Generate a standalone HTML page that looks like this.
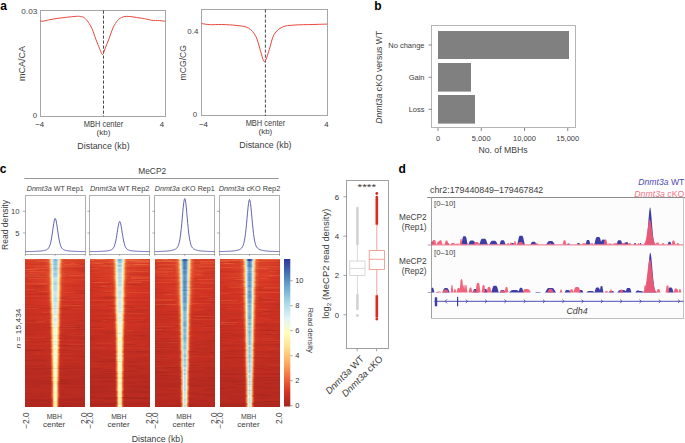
<!DOCTYPE html>
<html><head><meta charset="utf-8"><style>
html,body{margin:0;padding:0;background:#fff;width:685px;height:443px;overflow:hidden}
svg{display:block;font-family:"Liberation Sans", sans-serif}
</style></head><body>
<svg width="685" height="443" viewBox="0 0 685 443">
<defs><linearGradient id="h0_0"><stop offset="0" stop-color="#da4028"/><stop offset=".334" stop-color="#df492c"/><stop offset=".385" stop-color="#e85933"/><stop offset=".41" stop-color="#f99553"/><stop offset=".426" stop-color="#fedc8d"/><stop offset=".452" stop-color="#d5edf5"/><stop offset=".477" stop-color="#8ec2dc"/><stop offset=".502" stop-color="#82b8d7"/><stop offset=".527" stop-color="#8ec2dc"/><stop offset=".552" stop-color="#d5edf5"/><stop offset=".577" stop-color="#fedc8d"/><stop offset=".594" stop-color="#f99553"/><stop offset=".619" stop-color="#e85933"/><stop offset=".669" stop-color="#df492c"/><stop offset="1" stop-color="#da4028"/></linearGradient><linearGradient id="h0_1"><stop offset="0" stop-color="#d83b26"/><stop offset=".334" stop-color="#dc442a"/><stop offset=".385" stop-color="#e65531"/><stop offset=".41" stop-color="#f99352"/><stop offset=".426" stop-color="#fedb8b"/><stop offset=".452" stop-color="#dbf1f7"/><stop offset=".477" stop-color="#99cbe1"/><stop offset=".502" stop-color="#8ec2dc"/><stop offset=".527" stop-color="#99cbe1"/><stop offset=".552" stop-color="#dbf1f7"/><stop offset=".577" stop-color="#fedb8b"/><stop offset=".594" stop-color="#f99352"/><stop offset=".619" stop-color="#e65531"/><stop offset=".669" stop-color="#dc442a"/><stop offset="1" stop-color="#d83b26"/></linearGradient><linearGradient id="h0_2"><stop offset="0" stop-color="#d53524"/><stop offset=".334" stop-color="#d93e27"/><stop offset=".385" stop-color="#e14d2e"/><stop offset=".41" stop-color="#f78549"/><stop offset=".426" stop-color="#fecf80"/><stop offset=".452" stop-color="#e2f4f3"/><stop offset=".477" stop-color="#9ecfe3"/><stop offset=".502" stop-color="#92c5de"/><stop offset=".527" stop-color="#9ecfe3"/><stop offset=".552" stop-color="#e2f4f3"/><stop offset=".577" stop-color="#fecf80"/><stop offset=".594" stop-color="#f78549"/><stop offset=".619" stop-color="#e14d2e"/><stop offset=".669" stop-color="#d93e27"/><stop offset="1" stop-color="#d53524"/></linearGradient><linearGradient id="h0_3"><stop offset="0" stop-color="#da3e27"/><stop offset=".334" stop-color="#de472b"/><stop offset=".385" stop-color="#e45230"/><stop offset=".41" stop-color="#f57c44"/><stop offset=".426" stop-color="#fdc273"/><stop offset=".452" stop-color="#e9f7e7"/><stop offset=".477" stop-color="#a4d4e6"/><stop offset=".502" stop-color="#97c9e0"/><stop offset=".527" stop-color="#a4d4e6"/><stop offset=".552" stop-color="#e9f7e7"/><stop offset=".577" stop-color="#fdc273"/><stop offset=".594" stop-color="#f57c44"/><stop offset=".619" stop-color="#e45230"/><stop offset=".669" stop-color="#de472b"/><stop offset="1" stop-color="#da3e27"/></linearGradient><linearGradient id="h0_4"><stop offset="0" stop-color="#d53624"/><stop offset=".334" stop-color="#da3f28"/><stop offset=".385" stop-color="#e04b2d"/><stop offset=".41" stop-color="#f57b44"/><stop offset=".426" stop-color="#fdc576"/><stop offset=".452" stop-color="#e6f5ee"/><stop offset=".477" stop-color="#9ecee3"/><stop offset=".502" stop-color="#91c4dd"/><stop offset=".527" stop-color="#9ecee3"/><stop offset=".552" stop-color="#e6f5ee"/><stop offset=".577" stop-color="#fdc576"/><stop offset=".594" stop-color="#f57b44"/><stop offset=".619" stop-color="#e04b2d"/><stop offset=".669" stop-color="#da3f28"/><stop offset="1" stop-color="#d53624"/></linearGradient><linearGradient id="h0_5"><stop offset="0" stop-color="#d43423"/><stop offset=".334" stop-color="#d83c26"/><stop offset=".385" stop-color="#de472b"/><stop offset=".41" stop-color="#f3713e"/><stop offset=".426" stop-color="#fdba6c"/><stop offset=".452" stop-color="#edf8e1"/><stop offset=".477" stop-color="#a9d7e8"/><stop offset=".502" stop-color="#9bcce2"/><stop offset=".527" stop-color="#a9d7e8"/><stop offset=".552" stop-color="#edf8e1"/><stop offset=".577" stop-color="#fdba6c"/><stop offset=".594" stop-color="#f3713e"/><stop offset=".619" stop-color="#de472b"/><stop offset=".669" stop-color="#d83c26"/><stop offset="1" stop-color="#d43423"/></linearGradient><linearGradient id="h0_6"><stop offset="0" stop-color="#d63825"/><stop offset=".334" stop-color="#db4028"/><stop offset=".385" stop-color="#e04b2d"/><stop offset=".41" stop-color="#f47440"/><stop offset=".426" stop-color="#fdb96c"/><stop offset=".452" stop-color="#f2fad7"/><stop offset=".477" stop-color="#b8dfed"/><stop offset=".502" stop-color="#acd9e9"/><stop offset=".527" stop-color="#b8dfed"/><stop offset=".552" stop-color="#f2fad7"/><stop offset=".577" stop-color="#fdb96c"/><stop offset=".594" stop-color="#f47440"/><stop offset=".619" stop-color="#e04b2d"/><stop offset=".669" stop-color="#db4028"/><stop offset="1" stop-color="#d63825"/></linearGradient><linearGradient id="h0_7"><stop offset="0" stop-color="#d83b26"/><stop offset=".334" stop-color="#dc432a"/><stop offset=".385" stop-color="#e14d2e"/><stop offset=".41" stop-color="#f47540"/><stop offset=".426" stop-color="#fdbd6f"/><stop offset=".452" stop-color="#eaf7e6"/><stop offset=".477" stop-color="#a0d0e4"/><stop offset=".502" stop-color="#91c4de"/><stop offset=".527" stop-color="#a0d0e4"/><stop offset=".552" stop-color="#eaf7e6"/><stop offset=".577" stop-color="#fdbd6f"/><stop offset=".594" stop-color="#f47540"/><stop offset=".619" stop-color="#e14d2e"/><stop offset=".669" stop-color="#dc432a"/><stop offset="1" stop-color="#d83b26"/></linearGradient><linearGradient id="h0_8"><stop offset="0" stop-color="#d63925"/><stop offset=".334" stop-color="#db4128"/><stop offset=".385" stop-color="#e24e2e"/><stop offset=".41" stop-color="#f68147"/><stop offset=".426" stop-color="#fec779"/><stop offset=".452" stop-color="#eaf7e5"/><stop offset=".477" stop-color="#afdbea"/><stop offset=".502" stop-color="#a3d3e6"/><stop offset=".527" stop-color="#afdbea"/><stop offset=".552" stop-color="#eaf7e5"/><stop offset=".577" stop-color="#fec779"/><stop offset=".594" stop-color="#f68147"/><stop offset=".619" stop-color="#e24e2e"/><stop offset=".669" stop-color="#db4128"/><stop offset="1" stop-color="#d63925"/></linearGradient><linearGradient id="h0_9"><stop offset="0" stop-color="#d03323"/><stop offset=".334" stop-color="#d63724"/><stop offset=".385" stop-color="#dc4229"/><stop offset=".41" stop-color="#f26b3b"/><stop offset=".426" stop-color="#fdb264"/><stop offset=".452" stop-color="#f9fdca"/><stop offset=".477" stop-color="#c6e6f1"/><stop offset=".502" stop-color="#bae0ed"/><stop offset=".527" stop-color="#c6e6f1"/><stop offset=".552" stop-color="#f9fdca"/><stop offset=".577" stop-color="#fdb264"/><stop offset=".594" stop-color="#f26b3b"/><stop offset=".619" stop-color="#dc4229"/><stop offset=".669" stop-color="#d63724"/><stop offset="1" stop-color="#d03323"/></linearGradient><linearGradient id="h0_10"><stop offset="0" stop-color="#d53624"/><stop offset=".334" stop-color="#d93e27"/><stop offset=".385" stop-color="#de472b"/><stop offset=".41" stop-color="#f16a3a"/><stop offset=".426" stop-color="#fdac60"/><stop offset=".452" stop-color="#fcfec5"/><stop offset=".477" stop-color="#c7e7f1"/><stop offset=".502" stop-color="#bbe1ed"/><stop offset=".527" stop-color="#c7e7f1"/><stop offset=".552" stop-color="#fcfec5"/><stop offset=".577" stop-color="#fdac60"/><stop offset=".594" stop-color="#f16a3a"/><stop offset=".619" stop-color="#de472b"/><stop offset=".669" stop-color="#d93e27"/><stop offset="1" stop-color="#d53624"/></linearGradient><linearGradient id="h0_11"><stop offset="0" stop-color="#d53624"/><stop offset=".334" stop-color="#d93e27"/><stop offset=".385" stop-color="#de462b"/><stop offset=".41" stop-color="#ee6538"/><stop offset=".426" stop-color="#fca75d"/><stop offset=".452" stop-color="#f9fdcb"/><stop offset=".477" stop-color="#b9e0ed"/><stop offset=".502" stop-color="#abd9e9"/><stop offset=".527" stop-color="#b9e0ed"/><stop offset=".552" stop-color="#f9fdcb"/><stop offset=".577" stop-color="#fca75d"/><stop offset=".594" stop-color="#ee6538"/><stop offset=".619" stop-color="#de462b"/><stop offset=".669" stop-color="#d93e27"/><stop offset="1" stop-color="#d53624"/></linearGradient><linearGradient id="h0_12"><stop offset="0" stop-color="#d23323"/><stop offset=".334" stop-color="#d63925"/><stop offset=".385" stop-color="#db4028"/><stop offset=".41" stop-color="#ec6036"/><stop offset=".426" stop-color="#fba35b"/><stop offset=".452" stop-color="#f8fccb"/><stop offset=".477" stop-color="#b5deec"/><stop offset=".502" stop-color="#a6d5e7"/><stop offset=".527" stop-color="#b5deec"/><stop offset=".552" stop-color="#f8fccb"/><stop offset=".577" stop-color="#fba35b"/><stop offset=".594" stop-color="#ec6036"/><stop offset=".619" stop-color="#db4028"/><stop offset=".669" stop-color="#d63925"/><stop offset="1" stop-color="#d23323"/></linearGradient><linearGradient id="h0_13"><stop offset="0" stop-color="#ce3222"/><stop offset=".334" stop-color="#d43423"/><stop offset=".385" stop-color="#d93e27"/><stop offset=".41" stop-color="#f06839"/><stop offset=".426" stop-color="#fdaf62"/><stop offset=".452" stop-color="#f8fccc"/><stop offset=".477" stop-color="#c2e4ef"/><stop offset=".502" stop-color="#b5deec"/><stop offset=".527" stop-color="#c2e4ef"/><stop offset=".552" stop-color="#f8fccc"/><stop offset=".577" stop-color="#fdaf62"/><stop offset=".594" stop-color="#f06839"/><stop offset=".619" stop-color="#d93e27"/><stop offset=".669" stop-color="#d43423"/><stop offset="1" stop-color="#ce3222"/></linearGradient><linearGradient id="h0_14"><stop offset="0" stop-color="#d23323"/><stop offset=".334" stop-color="#d73925"/><stop offset=".385" stop-color="#dc4329"/><stop offset=".41" stop-color="#f26b3b"/><stop offset=".426" stop-color="#fdb265"/><stop offset=".452" stop-color="#f7fccd"/><stop offset=".477" stop-color="#c1e4ef"/><stop offset=".502" stop-color="#b5deec"/><stop offset=".527" stop-color="#c1e4ef"/><stop offset=".552" stop-color="#f7fccd"/><stop offset=".577" stop-color="#fdb265"/><stop offset=".594" stop-color="#f26b3b"/><stop offset=".619" stop-color="#dc4329"/><stop offset=".669" stop-color="#d73925"/><stop offset="1" stop-color="#d23323"/></linearGradient><linearGradient id="h0_15"><stop offset="0" stop-color="#d03323"/><stop offset=".334" stop-color="#d53724"/><stop offset=".385" stop-color="#da3f28"/><stop offset=".41" stop-color="#ed6337"/><stop offset=".426" stop-color="#fca85e"/><stop offset=".452" stop-color="#fafdc8"/><stop offset=".477" stop-color="#c1e4ef"/><stop offset=".502" stop-color="#b4ddec"/><stop offset=".527" stop-color="#c1e4ef"/><stop offset=".552" stop-color="#fafdc8"/><stop offset=".577" stop-color="#fca85e"/><stop offset=".594" stop-color="#ed6337"/><stop offset=".619" stop-color="#da3f28"/><stop offset=".669" stop-color="#d53724"/><stop offset="1" stop-color="#d03323"/></linearGradient><linearGradient id="h0_16"><stop offset="0" stop-color="#d03323"/><stop offset=".334" stop-color="#d53624"/><stop offset=".385" stop-color="#d93d27"/><stop offset=".41" stop-color="#e95b34"/><stop offset=".426" stop-color="#fa9955"/><stop offset=".452" stop-color="#fffab8"/><stop offset=".477" stop-color="#d1ecf4"/><stop offset=".502" stop-color="#c4e5f0"/><stop offset=".527" stop-color="#d1ecf4"/><stop offset=".552" stop-color="#fffab8"/><stop offset=".577" stop-color="#fa9955"/><stop offset=".594" stop-color="#e95b34"/><stop offset=".619" stop-color="#d93d27"/><stop offset=".669" stop-color="#d53624"/><stop offset="1" stop-color="#d03323"/></linearGradient><linearGradient id="h0_17"><stop offset="0" stop-color="#ce3222"/><stop offset=".334" stop-color="#d33423"/><stop offset=".385" stop-color="#d83b26"/><stop offset=".41" stop-color="#ea5c34"/><stop offset=".426" stop-color="#fa9c57"/><stop offset=".452" stop-color="#fffbb9"/><stop offset=".477" stop-color="#d3edf4"/><stop offset=".502" stop-color="#c6e6f1"/><stop offset=".527" stop-color="#d3edf4"/><stop offset=".552" stop-color="#fffbb9"/><stop offset=".577" stop-color="#fa9c57"/><stop offset=".594" stop-color="#ea5c34"/><stop offset=".619" stop-color="#d83b26"/><stop offset=".669" stop-color="#d33423"/><stop offset="1" stop-color="#ce3222"/></linearGradient><linearGradient id="h0_18"><stop offset="0" stop-color="#d23323"/><stop offset=".334" stop-color="#d63825"/><stop offset=".385" stop-color="#da3f28"/><stop offset=".41" stop-color="#ea5e35"/><stop offset=".426" stop-color="#fa9c57"/><stop offset=".452" stop-color="#fffcbb"/><stop offset=".477" stop-color="#cdeaf3"/><stop offset=".502" stop-color="#c0e3ef"/><stop offset=".527" stop-color="#cdeaf3"/><stop offset=".552" stop-color="#fffcbb"/><stop offset=".577" stop-color="#fa9c57"/><stop offset=".594" stop-color="#ea5e35"/><stop offset=".619" stop-color="#da3f28"/><stop offset=".669" stop-color="#d63825"/><stop offset="1" stop-color="#d23323"/></linearGradient><linearGradient id="h0_19"><stop offset="0" stop-color="#cc3122"/><stop offset=".334" stop-color="#d13323"/><stop offset=".385" stop-color="#d63724"/><stop offset=".41" stop-color="#e55331"/><stop offset=".426" stop-color="#f89150"/><stop offset=".452" stop-color="#fffab8"/><stop offset=".477" stop-color="#cae8f2"/><stop offset=".502" stop-color="#bbe1ee"/><stop offset=".527" stop-color="#cae8f2"/><stop offset=".552" stop-color="#fffab8"/><stop offset=".577" stop-color="#f89150"/><stop offset=".594" stop-color="#e55331"/><stop offset=".619" stop-color="#d63724"/><stop offset=".669" stop-color="#d13323"/><stop offset="1" stop-color="#cc3122"/></linearGradient><linearGradient id="h0_20"><stop offset="0" stop-color="#cf3223"/><stop offset=".334" stop-color="#d53523"/><stop offset=".385" stop-color="#d83c27"/><stop offset=".41" stop-color="#e95b34"/><stop offset=".426" stop-color="#fa9b56"/><stop offset=".452" stop-color="#fffebd"/><stop offset=".477" stop-color="#c8e7f1"/><stop offset=".502" stop-color="#bae1ed"/><stop offset=".527" stop-color="#c8e7f1"/><stop offset=".552" stop-color="#fffebd"/><stop offset=".577" stop-color="#fa9b56"/><stop offset=".594" stop-color="#e95b34"/><stop offset=".619" stop-color="#d83c27"/><stop offset=".669" stop-color="#d53523"/><stop offset="1" stop-color="#cf3223"/></linearGradient><linearGradient id="h0_21"><stop offset="0" stop-color="#cd3122"/><stop offset=".334" stop-color="#d23323"/><stop offset=".385" stop-color="#d63724"/><stop offset=".41" stop-color="#e24e2e"/><stop offset=".426" stop-color="#f78549"/><stop offset=".452" stop-color="#fff4ae"/><stop offset=".477" stop-color="#d1ecf4"/><stop offset=".502" stop-color="#c2e4ef"/><stop offset=".527" stop-color="#d1ecf4"/><stop offset=".552" stop-color="#fff4ae"/><stop offset=".577" stop-color="#f78549"/><stop offset=".594" stop-color="#e24e2e"/><stop offset=".619" stop-color="#d63724"/><stop offset=".669" stop-color="#d23323"/><stop offset="1" stop-color="#cd3122"/></linearGradient><linearGradient id="h0_22"><stop offset="0" stop-color="#ce3222"/><stop offset=".334" stop-color="#d33423"/><stop offset=".385" stop-color="#d63825"/><stop offset=".41" stop-color="#df482c"/><stop offset=".426" stop-color="#f47540"/><stop offset=".452" stop-color="#feeba1"/><stop offset=".477" stop-color="#d9f0f6"/><stop offset=".502" stop-color="#c8e7f1"/><stop offset=".527" stop-color="#d9f0f6"/><stop offset=".552" stop-color="#feeba1"/><stop offset=".577" stop-color="#f47540"/><stop offset=".594" stop-color="#df482c"/><stop offset=".619" stop-color="#d63825"/><stop offset=".669" stop-color="#d33423"/><stop offset="1" stop-color="#ce3222"/></linearGradient><linearGradient id="h0_23"><stop offset="0" stop-color="#ce3222"/><stop offset=".334" stop-color="#d33423"/><stop offset=".385" stop-color="#d63825"/><stop offset=".41" stop-color="#de482b"/><stop offset=".426" stop-color="#f47540"/><stop offset=".452" stop-color="#feeda4"/><stop offset=".477" stop-color="#d3edf4"/><stop offset=".502" stop-color="#c1e4ef"/><stop offset=".527" stop-color="#d3edf4"/><stop offset=".552" stop-color="#feeda4"/><stop offset=".577" stop-color="#f47540"/><stop offset=".594" stop-color="#de482b"/><stop offset=".619" stop-color="#d63825"/><stop offset=".669" stop-color="#d33423"/><stop offset="1" stop-color="#ce3222"/></linearGradient><linearGradient id="h0_24"><stop offset="0" stop-color="#c72f22"/><stop offset=".334" stop-color="#cc3122"/><stop offset=".385" stop-color="#cf3223"/><stop offset=".41" stop-color="#d83c27"/><stop offset=".426" stop-color="#ef6639"/><stop offset=".452" stop-color="#fee496"/><stop offset=".477" stop-color="#e1f4f6"/><stop offset=".502" stop-color="#d0ebf4"/><stop offset=".527" stop-color="#e1f4f6"/><stop offset=".552" stop-color="#fee496"/><stop offset=".577" stop-color="#ef6639"/><stop offset=".594" stop-color="#d83c27"/><stop offset=".619" stop-color="#cf3223"/><stop offset=".669" stop-color="#cc3122"/><stop offset="1" stop-color="#c72f22"/></linearGradient><linearGradient id="h0_25"><stop offset="0" stop-color="#c93022"/><stop offset=".334" stop-color="#ce3222"/><stop offset=".385" stop-color="#d13323"/><stop offset=".41" stop-color="#da3f28"/><stop offset=".426" stop-color="#f06839"/><stop offset=".452" stop-color="#fee395"/><stop offset=".477" stop-color="#e3f4f3"/><stop offset=".502" stop-color="#d3edf4"/><stop offset=".527" stop-color="#e3f4f3"/><stop offset=".552" stop-color="#fee395"/><stop offset=".577" stop-color="#f06839"/><stop offset=".594" stop-color="#da3f28"/><stop offset=".619" stop-color="#d13323"/><stop offset=".669" stop-color="#ce3222"/><stop offset="1" stop-color="#c93022"/></linearGradient><linearGradient id="h0_26"><stop offset="0" stop-color="#cd3122"/><stop offset=".334" stop-color="#d13323"/><stop offset=".385" stop-color="#d53524"/><stop offset=".41" stop-color="#df482c"/><stop offset=".426" stop-color="#f57842"/><stop offset=".452" stop-color="#feeba1"/><stop offset=".477" stop-color="#e0f3f8"/><stop offset=".502" stop-color="#d0ebf4"/><stop offset=".527" stop-color="#e0f3f8"/><stop offset=".552" stop-color="#feeba1"/><stop offset=".577" stop-color="#f57842"/><stop offset=".594" stop-color="#df482c"/><stop offset=".619" stop-color="#d53524"/><stop offset=".669" stop-color="#d13323"/><stop offset="1" stop-color="#cd3122"/></linearGradient><linearGradient id="h0_27"><stop offset="0" stop-color="#c52f21"/><stop offset=".334" stop-color="#ca3022"/><stop offset=".385" stop-color="#cd3122"/><stop offset=".41" stop-color="#d63925"/><stop offset=".426" stop-color="#ec6136"/><stop offset=".452" stop-color="#fede8e"/><stop offset=".477" stop-color="#e8f6e9"/><stop offset=".502" stop-color="#ddf1f7"/><stop offset=".527" stop-color="#e8f6e9"/><stop offset=".552" stop-color="#fede8e"/><stop offset=".577" stop-color="#ec6136"/><stop offset=".594" stop-color="#d63925"/><stop offset=".619" stop-color="#cd3122"/><stop offset=".669" stop-color="#ca3022"/><stop offset="1" stop-color="#c52f21"/></linearGradient><linearGradient id="h0_28"><stop offset="0" stop-color="#c93022"/><stop offset=".334" stop-color="#ce3222"/><stop offset=".385" stop-color="#d13323"/><stop offset=".41" stop-color="#d83b26"/><stop offset=".426" stop-color="#ea5d35"/><stop offset=".452" stop-color="#fed485"/><stop offset=".477" stop-color="#eff9dd"/><stop offset=".502" stop-color="#e5f5f0"/><stop offset=".527" stop-color="#eff9dd"/><stop offset=".552" stop-color="#fed485"/><stop offset=".577" stop-color="#ea5d35"/><stop offset=".594" stop-color="#d83b26"/><stop offset=".619" stop-color="#d13323"/><stop offset=".669" stop-color="#ce3222"/><stop offset="1" stop-color="#c93022"/></linearGradient><linearGradient id="h0_29"><stop offset="0" stop-color="#c82f22"/><stop offset=".334" stop-color="#cc3122"/><stop offset=".385" stop-color="#cf3222"/><stop offset=".41" stop-color="#d63825"/><stop offset=".426" stop-color="#e95c34"/><stop offset=".452" stop-color="#fed98a"/><stop offset=".477" stop-color="#e7f6eb"/><stop offset=".502" stop-color="#d9eff6"/><stop offset=".527" stop-color="#e7f6eb"/><stop offset=".552" stop-color="#fed98a"/><stop offset=".577" stop-color="#e95c34"/><stop offset=".594" stop-color="#d63825"/><stop offset=".619" stop-color="#cf3222"/><stop offset=".669" stop-color="#cc3122"/><stop offset="1" stop-color="#c82f22"/></linearGradient><linearGradient id="h0_30"><stop offset="0" stop-color="#ca3022"/><stop offset=".334" stop-color="#cf3222"/><stop offset=".385" stop-color="#d23323"/><stop offset=".41" stop-color="#d93d27"/><stop offset=".426" stop-color="#ed6337"/><stop offset=".452" stop-color="#fee192"/><stop offset=".477" stop-color="#e2f4f4"/><stop offset=".502" stop-color="#d1ecf4"/><stop offset=".527" stop-color="#e2f4f4"/><stop offset=".552" stop-color="#fee192"/><stop offset=".577" stop-color="#ed6337"/><stop offset=".594" stop-color="#d93d27"/><stop offset=".619" stop-color="#d23323"/><stop offset=".669" stop-color="#cf3222"/><stop offset="1" stop-color="#ca3022"/></linearGradient><linearGradient id="h0_31"><stop offset="0" stop-color="#c72f22"/><stop offset=".334" stop-color="#cc3122"/><stop offset=".385" stop-color="#cf3222"/><stop offset=".41" stop-color="#d83b26"/><stop offset=".426" stop-color="#ed6237"/><stop offset=".452" stop-color="#fedd8d"/><stop offset=".477" stop-color="#eaf7e6"/><stop offset=".502" stop-color="#e0f3f8"/><stop offset=".527" stop-color="#eaf7e6"/><stop offset=".552" stop-color="#fedd8d"/><stop offset=".577" stop-color="#ed6237"/><stop offset=".594" stop-color="#d83b26"/><stop offset=".619" stop-color="#cf3222"/><stop offset=".669" stop-color="#cc3122"/><stop offset="1" stop-color="#c72f22"/></linearGradient><linearGradient id="h0_32"><stop offset="0" stop-color="#c42e21"/><stop offset=".334" stop-color="#c83022"/><stop offset=".385" stop-color="#cb3122"/><stop offset=".41" stop-color="#d53624"/><stop offset=".426" stop-color="#e95c34"/><stop offset=".452" stop-color="#fed687"/><stop offset=".477" stop-color="#eff9dd"/><stop offset=".502" stop-color="#e5f5ef"/><stop offset=".527" stop-color="#eff9dd"/><stop offset=".552" stop-color="#fed687"/><stop offset=".577" stop-color="#e95c34"/><stop offset=".594" stop-color="#d53624"/><stop offset=".619" stop-color="#cb3122"/><stop offset=".669" stop-color="#c83022"/><stop offset="1" stop-color="#c42e21"/></linearGradient><linearGradient id="h0_33"><stop offset="0" stop-color="#c22e21"/><stop offset=".334" stop-color="#c62f22"/><stop offset=".385" stop-color="#c93022"/><stop offset=".41" stop-color="#d43523"/><stop offset=".426" stop-color="#ea5e35"/><stop offset=".452" stop-color="#feda8a"/><stop offset=".477" stop-color="#ecf8e2"/><stop offset=".502" stop-color="#e2f4f4"/><stop offset=".527" stop-color="#ecf8e2"/><stop offset=".552" stop-color="#feda8a"/><stop offset=".577" stop-color="#ea5e35"/><stop offset=".594" stop-color="#d43523"/><stop offset=".619" stop-color="#c93022"/><stop offset=".669" stop-color="#c62f22"/><stop offset="1" stop-color="#c22e21"/></linearGradient><linearGradient id="h0_34"><stop offset="0" stop-color="#c22e21"/><stop offset=".334" stop-color="#c62f22"/><stop offset=".385" stop-color="#c93022"/><stop offset=".41" stop-color="#ce3222"/><stop offset=".426" stop-color="#df482c"/><stop offset=".452" stop-color="#fdbc6f"/><stop offset=".477" stop-color="#fafdc8"/><stop offset=".502" stop-color="#eff9dd"/><stop offset=".527" stop-color="#fafdc8"/><stop offset=".552" stop-color="#fdbc6f"/><stop offset=".577" stop-color="#df482c"/><stop offset=".594" stop-color="#ce3222"/><stop offset=".619" stop-color="#c93022"/><stop offset=".669" stop-color="#c62f22"/><stop offset="1" stop-color="#c22e21"/></linearGradient><linearGradient id="h0_35"><stop offset="0" stop-color="#c22d21"/><stop offset=".334" stop-color="#c62f21"/><stop offset=".385" stop-color="#c93022"/><stop offset=".41" stop-color="#d03223"/><stop offset=".426" stop-color="#e24e2e"/><stop offset=".452" stop-color="#fdc274"/><stop offset=".477" stop-color="#fbfdc6"/><stop offset=".502" stop-color="#f1fad9"/><stop offset=".527" stop-color="#fbfdc6"/><stop offset=".552" stop-color="#fdc274"/><stop offset=".577" stop-color="#e24e2e"/><stop offset=".594" stop-color="#d03223"/><stop offset=".619" stop-color="#c93022"/><stop offset=".669" stop-color="#c62f21"/><stop offset="1" stop-color="#c22d21"/></linearGradient><linearGradient id="h0_36"><stop offset="0" stop-color="#c42e21"/><stop offset=".334" stop-color="#c83022"/><stop offset=".385" stop-color="#cb3122"/><stop offset=".41" stop-color="#d43423"/><stop offset=".426" stop-color="#e65632"/><stop offset=".452" stop-color="#fec879"/><stop offset=".477" stop-color="#fbfec6"/><stop offset=".502" stop-color="#f2fad7"/><stop offset=".527" stop-color="#fbfec6"/><stop offset=".552" stop-color="#fec879"/><stop offset=".577" stop-color="#e65632"/><stop offset=".594" stop-color="#d43423"/><stop offset=".619" stop-color="#cb3122"/><stop offset=".669" stop-color="#c83022"/><stop offset="1" stop-color="#c42e21"/></linearGradient><linearGradient id="h0_37"><stop offset="0" stop-color="#c32e21"/><stop offset=".334" stop-color="#c72f22"/><stop offset=".385" stop-color="#c93022"/><stop offset=".41" stop-color="#cf3222"/><stop offset=".426" stop-color="#df492c"/><stop offset=".452" stop-color="#fdc072"/><stop offset=".477" stop-color="#f6fccf"/><stop offset=".502" stop-color="#ebf7e5"/><stop offset=".527" stop-color="#f6fccf"/><stop offset=".552" stop-color="#fdc072"/><stop offset=".577" stop-color="#df492c"/><stop offset=".594" stop-color="#cf3222"/><stop offset=".619" stop-color="#c93022"/><stop offset=".669" stop-color="#c72f22"/><stop offset="1" stop-color="#c32e21"/></linearGradient><linearGradient id="h0_38"><stop offset="0" stop-color="#c52f21"/><stop offset=".334" stop-color="#c83022"/><stop offset=".385" stop-color="#cb3122"/><stop offset=".41" stop-color="#cf3222"/><stop offset=".426" stop-color="#dc4329"/><stop offset=".452" stop-color="#fdb669"/><stop offset=".477" stop-color="#f8fccc"/><stop offset=".502" stop-color="#ebf7e3"/><stop offset=".527" stop-color="#f8fccc"/><stop offset=".552" stop-color="#fdb669"/><stop offset=".577" stop-color="#dc4329"/><stop offset=".594" stop-color="#cf3222"/><stop offset=".619" stop-color="#cb3122"/><stop offset=".669" stop-color="#c83022"/><stop offset="1" stop-color="#c52f21"/></linearGradient><linearGradient id="h0_39"><stop offset="0" stop-color="#c12d21"/><stop offset=".334" stop-color="#c42e21"/><stop offset=".385" stop-color="#c72f22"/><stop offset=".41" stop-color="#ca3022"/><stop offset=".426" stop-color="#d83b26"/><stop offset=".452" stop-color="#fdab5f"/><stop offset=".477" stop-color="#ffffbf"/><stop offset=".502" stop-color="#f2fad7"/><stop offset=".527" stop-color="#ffffbf"/><stop offset=".552" stop-color="#fdab5f"/><stop offset=".577" stop-color="#d83b26"/><stop offset=".594" stop-color="#ca3022"/><stop offset=".619" stop-color="#c72f22"/><stop offset=".669" stop-color="#c42e21"/><stop offset="1" stop-color="#c12d21"/></linearGradient><linearGradient id="h0_40"><stop offset="0" stop-color="#c42e21"/><stop offset=".334" stop-color="#c72f22"/><stop offset=".385" stop-color="#ca3022"/><stop offset=".41" stop-color="#d13323"/><stop offset=".426" stop-color="#e34f2f"/><stop offset=".452" stop-color="#fdc577"/><stop offset=".477" stop-color="#f8fccc"/><stop offset=".502" stop-color="#edf8e0"/><stop offset=".527" stop-color="#f8fccc"/><stop offset=".552" stop-color="#fdc577"/><stop offset=".577" stop-color="#e34f2f"/><stop offset=".594" stop-color="#d13323"/><stop offset=".619" stop-color="#ca3022"/><stop offset=".669" stop-color="#c72f22"/><stop offset="1" stop-color="#c42e21"/></linearGradient><linearGradient id="h0_41"><stop offset="0" stop-color="#c02d21"/><stop offset=".334" stop-color="#c42e21"/><stop offset=".385" stop-color="#c62f21"/><stop offset=".41" stop-color="#ca3022"/><stop offset=".426" stop-color="#da3f28"/><stop offset=".452" stop-color="#fdb96b"/><stop offset=".477" stop-color="#f3fad5"/><stop offset=".502" stop-color="#e6f5ee"/><stop offset=".527" stop-color="#f3fad5"/><stop offset=".552" stop-color="#fdb96b"/><stop offset=".577" stop-color="#da3f28"/><stop offset=".594" stop-color="#ca3022"/><stop offset=".619" stop-color="#c62f21"/><stop offset=".669" stop-color="#c42e21"/><stop offset="1" stop-color="#c02d21"/></linearGradient><linearGradient id="h0_42"><stop offset="0" stop-color="#c72f22"/><stop offset=".334" stop-color="#ca3022"/><stop offset=".385" stop-color="#cc3122"/><stop offset=".41" stop-color="#cf3222"/><stop offset=".426" stop-color="#da4028"/><stop offset=".452" stop-color="#fdb366"/><stop offset=".477" stop-color="#f5fbd2"/><stop offset=".502" stop-color="#e6f6ec"/><stop offset=".527" stop-color="#f5fbd2"/><stop offset=".552" stop-color="#fdb366"/><stop offset=".577" stop-color="#da4028"/><stop offset=".594" stop-color="#cf3222"/><stop offset=".619" stop-color="#cc3122"/><stop offset=".669" stop-color="#ca3022"/><stop offset="1" stop-color="#c72f22"/></linearGradient><linearGradient id="h0_43"><stop offset="0" stop-color="#c02d21"/><stop offset=".334" stop-color="#c32e21"/><stop offset=".385" stop-color="#c52e21"/><stop offset=".41" stop-color="#c72f22"/><stop offset=".426" stop-color="#d53624"/><stop offset=".452" stop-color="#fca55c"/><stop offset=".477" stop-color="#ffffbe"/><stop offset=".502" stop-color="#f2fad8"/><stop offset=".527" stop-color="#ffffbe"/><stop offset=".552" stop-color="#fca55c"/><stop offset=".577" stop-color="#d53624"/><stop offset=".594" stop-color="#c72f22"/><stop offset=".619" stop-color="#c52e21"/><stop offset=".669" stop-color="#c32e21"/><stop offset="1" stop-color="#c02d21"/></linearGradient><linearGradient id="h0_44"><stop offset="0" stop-color="#c62f22"/><stop offset=".334" stop-color="#c93022"/><stop offset=".385" stop-color="#cb3122"/><stop offset=".41" stop-color="#d03323"/><stop offset=".426" stop-color="#e04a2d"/><stop offset=".452" stop-color="#fdbe70"/><stop offset=".477" stop-color="#fafdc7"/><stop offset=".502" stop-color="#eff9dc"/><stop offset=".527" stop-color="#fafdc7"/><stop offset=".552" stop-color="#fdbe70"/><stop offset=".577" stop-color="#e04a2d"/><stop offset=".594" stop-color="#d03323"/><stop offset=".619" stop-color="#cb3122"/><stop offset=".669" stop-color="#c93022"/><stop offset="1" stop-color="#c62f22"/></linearGradient><linearGradient id="h0_45"><stop offset="0" stop-color="#bc2b20"/><stop offset=".334" stop-color="#bf2c21"/><stop offset=".385" stop-color="#c12d21"/><stop offset=".41" stop-color="#c32e21"/><stop offset=".426" stop-color="#d03223"/><stop offset=".452" stop-color="#fa9b56"/><stop offset=".477" stop-color="#fffebd"/><stop offset=".502" stop-color="#f1fad8"/><stop offset=".527" stop-color="#fffebd"/><stop offset=".552" stop-color="#fa9b56"/><stop offset=".577" stop-color="#d03223"/><stop offset=".594" stop-color="#c32e21"/><stop offset=".619" stop-color="#c12d21"/><stop offset=".669" stop-color="#bf2c21"/><stop offset="1" stop-color="#bc2b20"/></linearGradient><linearGradient id="h0_46"><stop offset="0" stop-color="#c22d21"/><stop offset=".334" stop-color="#c42e21"/><stop offset=".385" stop-color="#c62f22"/><stop offset=".41" stop-color="#c83022"/><stop offset=".426" stop-color="#d43423"/><stop offset=".452" stop-color="#fa9b56"/><stop offset=".477" stop-color="#fff9b6"/><stop offset=".502" stop-color="#f7fcce"/><stop offset=".527" stop-color="#fff9b6"/><stop offset=".552" stop-color="#fa9b56"/><stop offset=".577" stop-color="#d43423"/><stop offset=".594" stop-color="#c83022"/><stop offset=".619" stop-color="#c62f22"/><stop offset=".669" stop-color="#c42e21"/><stop offset="1" stop-color="#c22d21"/></linearGradient><linearGradient id="h0_47"><stop offset="0" stop-color="#c32e21"/><stop offset=".334" stop-color="#c62f21"/><stop offset=".385" stop-color="#c72f22"/><stop offset=".41" stop-color="#cb3122"/><stop offset=".426" stop-color="#db4128"/><stop offset=".452" stop-color="#fdb769"/><stop offset=".477" stop-color="#f9fdca"/><stop offset=".502" stop-color="#ecf8e1"/><stop offset=".527" stop-color="#f9fdca"/><stop offset=".552" stop-color="#fdb769"/><stop offset=".577" stop-color="#db4128"/><stop offset=".594" stop-color="#cb3122"/><stop offset=".619" stop-color="#c72f22"/><stop offset=".669" stop-color="#c62f21"/><stop offset="1" stop-color="#c32e21"/></linearGradient><linearGradient id="h0_48"><stop offset="0" stop-color="#bf2c21"/><stop offset=".334" stop-color="#c12d21"/><stop offset=".385" stop-color="#c32e21"/><stop offset=".41" stop-color="#c62f22"/><stop offset=".426" stop-color="#d53524"/><stop offset=".452" stop-color="#fca55c"/><stop offset=".477" stop-color="#fffcbb"/><stop offset=".502" stop-color="#f4fbd2"/><stop offset=".527" stop-color="#fffcbb"/><stop offset=".552" stop-color="#fca55c"/><stop offset=".577" stop-color="#d53524"/><stop offset=".594" stop-color="#c62f22"/><stop offset=".619" stop-color="#c32e21"/><stop offset=".669" stop-color="#c12d21"/><stop offset="1" stop-color="#bf2c21"/></linearGradient><linearGradient id="h0_49"><stop offset="0" stop-color="#c32e21"/><stop offset=".334" stop-color="#c62f22"/><stop offset=".385" stop-color="#c82f22"/><stop offset=".41" stop-color="#c93022"/><stop offset=".426" stop-color="#d33323"/><stop offset=".452" stop-color="#fa9a55"/><stop offset=".477" stop-color="#fcfec5"/><stop offset=".502" stop-color="#ebf7e4"/><stop offset=".527" stop-color="#fcfec5"/><stop offset=".552" stop-color="#fa9a55"/><stop offset=".577" stop-color="#d33323"/><stop offset=".594" stop-color="#c93022"/><stop offset=".619" stop-color="#c82f22"/><stop offset=".669" stop-color="#c62f22"/><stop offset="1" stop-color="#c32e21"/></linearGradient><linearGradient id="h0_50"><stop offset="0" stop-color="#bd2c21"/><stop offset=".334" stop-color="#bf2d21"/><stop offset=".385" stop-color="#c12d21"/><stop offset=".41" stop-color="#c32e21"/><stop offset=".426" stop-color="#d03223"/><stop offset=".452" stop-color="#f99552"/><stop offset=".477" stop-color="#fff4af"/><stop offset=".502" stop-color="#fcfec4"/><stop offset=".527" stop-color="#fff4af"/><stop offset=".552" stop-color="#f99552"/><stop offset=".577" stop-color="#d03223"/><stop offset=".594" stop-color="#c32e21"/><stop offset=".619" stop-color="#c12d21"/><stop offset=".669" stop-color="#bf2d21"/><stop offset="1" stop-color="#bd2c21"/></linearGradient><linearGradient id="h0_51"><stop offset="0" stop-color="#c22d21"/><stop offset=".334" stop-color="#c42e21"/><stop offset=".385" stop-color="#c52f21"/><stop offset=".41" stop-color="#c72f22"/><stop offset=".426" stop-color="#cf3222"/><stop offset=".452" stop-color="#f89050"/><stop offset=".477" stop-color="#fdfec2"/><stop offset=".502" stop-color="#ebf7e3"/><stop offset=".527" stop-color="#fdfec2"/><stop offset=".552" stop-color="#f89050"/><stop offset=".577" stop-color="#cf3222"/><stop offset=".594" stop-color="#c72f22"/><stop offset=".619" stop-color="#c52f21"/><stop offset=".669" stop-color="#c42e21"/><stop offset="1" stop-color="#c22d21"/></linearGradient><linearGradient id="h0_52"><stop offset="0" stop-color="#bf2d21"/><stop offset=".334" stop-color="#c22d21"/><stop offset=".385" stop-color="#c32e21"/><stop offset=".41" stop-color="#c52f21"/><stop offset=".426" stop-color="#d13323"/><stop offset=".452" stop-color="#f99653"/><stop offset=".477" stop-color="#fff5b0"/><stop offset=".502" stop-color="#fcfec5"/><stop offset=".527" stop-color="#fff5b0"/><stop offset=".552" stop-color="#f99653"/><stop offset=".577" stop-color="#d13323"/><stop offset=".594" stop-color="#c52f21"/><stop offset=".619" stop-color="#c32e21"/><stop offset=".669" stop-color="#c22d21"/><stop offset="1" stop-color="#bf2d21"/></linearGradient><linearGradient id="h0_53"><stop offset="0" stop-color="#bc2b20"/><stop offset=".334" stop-color="#be2c21"/><stop offset=".385" stop-color="#bf2d21"/><stop offset=".41" stop-color="#c02d21"/><stop offset=".426" stop-color="#c72f22"/><stop offset=".452" stop-color="#f67f46"/><stop offset=".477" stop-color="#fff7b3"/><stop offset=".502" stop-color="#f5fbd1"/><stop offset=".527" stop-color="#fff7b3"/><stop offset=".552" stop-color="#f67f46"/><stop offset=".577" stop-color="#c72f22"/><stop offset=".594" stop-color="#c02d21"/><stop offset=".619" stop-color="#bf2d21"/><stop offset=".669" stop-color="#be2c21"/><stop offset="1" stop-color="#bc2b20"/></linearGradient><linearGradient id="h0_54"><stop offset="0" stop-color="#b92a20"/><stop offset=".334" stop-color="#bb2b20"/><stop offset=".385" stop-color="#bd2c21"/><stop offset=".41" stop-color="#be2c21"/><stop offset=".426" stop-color="#c42e21"/><stop offset=".452" stop-color="#f57942"/><stop offset=".477" stop-color="#fff4ae"/><stop offset=".502" stop-color="#f8fccb"/><stop offset=".527" stop-color="#fff4ae"/><stop offset=".552" stop-color="#f57942"/><stop offset=".577" stop-color="#c42e21"/><stop offset=".594" stop-color="#be2c21"/><stop offset=".619" stop-color="#bd2c21"/><stop offset=".669" stop-color="#bb2b20"/><stop offset="1" stop-color="#b92a20"/></linearGradient><linearGradient id="h0_55"><stop offset="0" stop-color="#ba2b20"/><stop offset=".334" stop-color="#bc2b20"/><stop offset=".385" stop-color="#bd2c21"/><stop offset=".41" stop-color="#be2c21"/><stop offset=".426" stop-color="#c83022"/><stop offset=".452" stop-color="#f88b4d"/><stop offset=".477" stop-color="#fffcbb"/><stop offset=".502" stop-color="#f1fad9"/><stop offset=".527" stop-color="#fffcbb"/><stop offset=".552" stop-color="#f88b4d"/><stop offset=".577" stop-color="#c83022"/><stop offset=".594" stop-color="#be2c21"/><stop offset=".619" stop-color="#bd2c21"/><stop offset=".669" stop-color="#bc2b20"/><stop offset="1" stop-color="#ba2b20"/></linearGradient><linearGradient id="h0_56"><stop offset="0" stop-color="#b82a20"/><stop offset=".334" stop-color="#ba2b20"/><stop offset=".385" stop-color="#bb2b20"/><stop offset=".41" stop-color="#bc2b20"/><stop offset=".426" stop-color="#c62f21"/><stop offset=".452" stop-color="#f7864a"/><stop offset=".477" stop-color="#fff7b3"/><stop offset=".502" stop-color="#f6fccf"/><stop offset=".527" stop-color="#fff7b3"/><stop offset=".552" stop-color="#f7864a"/><stop offset=".577" stop-color="#c62f21"/><stop offset=".594" stop-color="#bc2b20"/><stop offset=".619" stop-color="#bb2b20"/><stop offset=".669" stop-color="#ba2b20"/><stop offset="1" stop-color="#b82a20"/></linearGradient><linearGradient id="h0_57"><stop offset="0" stop-color="#b82a20"/><stop offset=".334" stop-color="#b92a20"/><stop offset=".385" stop-color="#ba2b20"/><stop offset=".41" stop-color="#bb2b20"/><stop offset=".426" stop-color="#c32e21"/><stop offset=".452" stop-color="#f67f46"/><stop offset=".477" stop-color="#fff5b0"/><stop offset=".502" stop-color="#f8fccc"/><stop offset=".527" stop-color="#fff5b0"/><stop offset=".552" stop-color="#f67f46"/><stop offset=".577" stop-color="#c32e21"/><stop offset=".594" stop-color="#bb2b20"/><stop offset=".619" stop-color="#ba2b20"/><stop offset=".669" stop-color="#b92a20"/><stop offset="1" stop-color="#b82a20"/></linearGradient><linearGradient id="h0_58"><stop offset="0" stop-color="#bc2b20"/><stop offset=".334" stop-color="#bd2c21"/><stop offset=".385" stop-color="#be2c21"/><stop offset=".41" stop-color="#bf2d21"/><stop offset=".426" stop-color="#c93022"/><stop offset=".452" stop-color="#f78a4c"/><stop offset=".477" stop-color="#fff4af"/><stop offset=".502" stop-color="#fbfdc7"/><stop offset=".527" stop-color="#fff4af"/><stop offset=".552" stop-color="#f78a4c"/><stop offset=".577" stop-color="#c93022"/><stop offset=".594" stop-color="#bf2d21"/><stop offset=".619" stop-color="#be2c21"/><stop offset=".669" stop-color="#bd2c21"/><stop offset="1" stop-color="#bc2b20"/></linearGradient><linearGradient id="h0_59"><stop offset="0" stop-color="#ba2b20"/><stop offset=".334" stop-color="#bb2b20"/><stop offset=".385" stop-color="#bc2b20"/><stop offset=".41" stop-color="#bd2c21"/><stop offset=".426" stop-color="#c22e21"/><stop offset=".452" stop-color="#f36f3d"/><stop offset=".477" stop-color="#feeea6"/><stop offset=".502" stop-color="#fefec1"/><stop offset=".527" stop-color="#feeea6"/><stop offset=".552" stop-color="#f36f3d"/><stop offset=".577" stop-color="#c22e21"/><stop offset=".594" stop-color="#bd2c21"/><stop offset=".619" stop-color="#bc2b20"/><stop offset=".669" stop-color="#bb2b20"/><stop offset="1" stop-color="#ba2b20"/></linearGradient><linearGradient id="h0_60"><stop offset="0" stop-color="#b62920"/><stop offset=".334" stop-color="#b72a20"/><stop offset=".385" stop-color="#b82a20"/><stop offset=".41" stop-color="#b92a20"/><stop offset=".426" stop-color="#c22e21"/><stop offset=".452" stop-color="#f68247"/><stop offset=".477" stop-color="#fff6b1"/><stop offset=".502" stop-color="#f8fccd"/><stop offset=".527" stop-color="#fff6b1"/><stop offset=".552" stop-color="#f68247"/><stop offset=".577" stop-color="#c22e21"/><stop offset=".594" stop-color="#b92a20"/><stop offset=".619" stop-color="#b82a20"/><stop offset=".669" stop-color="#b72a20"/><stop offset="1" stop-color="#b62920"/></linearGradient><linearGradient id="h0_61"><stop offset="0" stop-color="#b52920"/><stop offset=".334" stop-color="#b62920"/><stop offset=".385" stop-color="#b72920"/><stop offset=".41" stop-color="#b72a20"/><stop offset=".426" stop-color="#bc2b20"/><stop offset=".452" stop-color="#ed6337"/><stop offset=".477" stop-color="#fee79a"/><stop offset=".502" stop-color="#fff9b6"/><stop offset=".527" stop-color="#fee79a"/><stop offset=".552" stop-color="#ed6337"/><stop offset=".577" stop-color="#bc2b20"/><stop offset=".594" stop-color="#b72a20"/><stop offset=".619" stop-color="#b72920"/><stop offset=".669" stop-color="#b62920"/><stop offset="1" stop-color="#b52920"/></linearGradient><linearGradient id="h0_62"><stop offset="0" stop-color="#b52920"/><stop offset=".334" stop-color="#b62920"/><stop offset=".385" stop-color="#b72920"/><stop offset=".41" stop-color="#b72a20"/><stop offset=".426" stop-color="#ba2b20"/><stop offset=".452" stop-color="#e55431"/><stop offset=".477" stop-color="#fee598"/><stop offset=".502" stop-color="#fffbb9"/><stop offset=".527" stop-color="#fee598"/><stop offset=".552" stop-color="#e55431"/><stop offset=".577" stop-color="#ba2b20"/><stop offset=".594" stop-color="#b72a20"/><stop offset=".619" stop-color="#b72920"/><stop offset=".669" stop-color="#b62920"/><stop offset="1" stop-color="#b52920"/></linearGradient><linearGradient id="h0_63"><stop offset="0" stop-color="#b92a20"/><stop offset=".334" stop-color="#ba2b20"/><stop offset=".385" stop-color="#bb2b20"/><stop offset=".41" stop-color="#bb2b20"/><stop offset=".426" stop-color="#bd2c21"/><stop offset=".452" stop-color="#e85a33"/><stop offset=".477" stop-color="#feeea6"/><stop offset=".502" stop-color="#f8fccc"/><stop offset=".527" stop-color="#feeea6"/><stop offset=".552" stop-color="#e85a33"/><stop offset=".577" stop-color="#bd2c21"/><stop offset=".594" stop-color="#bb2b20"/><stop offset=".619" stop-color="#bb2b20"/><stop offset=".669" stop-color="#ba2b20"/><stop offset="1" stop-color="#b92a20"/></linearGradient><linearGradient id="h0_64"><stop offset="0" stop-color="#bb2b20"/><stop offset=".334" stop-color="#bc2b20"/><stop offset=".385" stop-color="#bc2b20"/><stop offset=".41" stop-color="#bd2c21"/><stop offset=".426" stop-color="#bf2c21"/><stop offset=".452" stop-color="#ea5e35"/><stop offset=".477" stop-color="#fff4af"/><stop offset=".502" stop-color="#f1fad9"/><stop offset=".527" stop-color="#fff4af"/><stop offset=".552" stop-color="#ea5e35"/><stop offset=".577" stop-color="#bf2c21"/><stop offset=".594" stop-color="#bd2c21"/><stop offset=".619" stop-color="#bc2b20"/><stop offset=".669" stop-color="#bc2b20"/><stop offset="1" stop-color="#bb2b20"/></linearGradient><linearGradient id="h0_65"><stop offset="0" stop-color="#bc2b20"/><stop offset=".334" stop-color="#bd2c21"/><stop offset=".385" stop-color="#bd2c21"/><stop offset=".41" stop-color="#be2c21"/><stop offset=".426" stop-color="#c02d21"/><stop offset=".452" stop-color="#e95a34"/><stop offset=".477" stop-color="#feefa6"/><stop offset=".502" stop-color="#f8fccd"/><stop offset=".527" stop-color="#feefa6"/><stop offset=".552" stop-color="#e95a34"/><stop offset=".577" stop-color="#c02d21"/><stop offset=".594" stop-color="#be2c21"/><stop offset=".619" stop-color="#bd2c21"/><stop offset=".669" stop-color="#bd2c21"/><stop offset="1" stop-color="#bc2b20"/></linearGradient><linearGradient id="h0_66"><stop offset="0" stop-color="#bb2b20"/><stop offset=".334" stop-color="#bc2b20"/><stop offset=".385" stop-color="#bc2b20"/><stop offset=".41" stop-color="#bd2c21"/><stop offset=".426" stop-color="#bf2c21"/><stop offset=".452" stop-color="#ec6036"/><stop offset=".477" stop-color="#fff1aa"/><stop offset=".502" stop-color="#f6fbd0"/><stop offset=".527" stop-color="#fff1aa"/><stop offset=".552" stop-color="#ec6036"/><stop offset=".577" stop-color="#bf2c21"/><stop offset=".594" stop-color="#bd2c21"/><stop offset=".619" stop-color="#bc2b20"/><stop offset=".669" stop-color="#bc2b20"/><stop offset="1" stop-color="#bb2b20"/></linearGradient><linearGradient id="h0_67"><stop offset="0" stop-color="#ba2b20"/><stop offset=".334" stop-color="#bb2b20"/><stop offset=".385" stop-color="#bb2b20"/><stop offset=".41" stop-color="#bc2b20"/><stop offset=".426" stop-color="#c02d21"/><stop offset=".452" stop-color="#f0693a"/><stop offset=".477" stop-color="#feea9f"/><stop offset=".502" stop-color="#fffcba"/><stop offset=".527" stop-color="#feea9f"/><stop offset=".552" stop-color="#f0693a"/><stop offset=".577" stop-color="#c02d21"/><stop offset=".594" stop-color="#bc2b20"/><stop offset=".619" stop-color="#bb2b20"/><stop offset=".669" stop-color="#bb2b20"/><stop offset="1" stop-color="#ba2b20"/></linearGradient><linearGradient id="h0_68"><stop offset="0" stop-color="#b92a20"/><stop offset=".334" stop-color="#ba2a20"/><stop offset=".385" stop-color="#ba2b20"/><stop offset=".41" stop-color="#ba2b20"/><stop offset=".426" stop-color="#bf2c21"/><stop offset=".452" stop-color="#f06839"/><stop offset=".477" stop-color="#fee99e"/><stop offset=".502" stop-color="#fffbb9"/><stop offset=".527" stop-color="#fee99e"/><stop offset=".552" stop-color="#f06839"/><stop offset=".577" stop-color="#bf2c21"/><stop offset=".594" stop-color="#ba2b20"/><stop offset=".619" stop-color="#ba2b20"/><stop offset=".669" stop-color="#ba2a20"/><stop offset="1" stop-color="#b92a20"/></linearGradient><linearGradient id="h0_69"><stop offset="0" stop-color="#b82a20"/><stop offset=".334" stop-color="#b92a20"/><stop offset=".385" stop-color="#b92a20"/><stop offset=".41" stop-color="#b92a20"/><stop offset=".426" stop-color="#bb2b20"/><stop offset=".452" stop-color="#e45130"/><stop offset=".477" stop-color="#feefa6"/><stop offset=".502" stop-color="#f5fbd1"/><stop offset=".527" stop-color="#feefa6"/><stop offset=".552" stop-color="#e45130"/><stop offset=".577" stop-color="#bb2b20"/><stop offset=".594" stop-color="#b92a20"/><stop offset=".619" stop-color="#b92a20"/><stop offset=".669" stop-color="#b92a20"/><stop offset="1" stop-color="#b82a20"/></linearGradient><linearGradient id="h0_70"><stop offset="0" stop-color="#b1271f"/><stop offset=".334" stop-color="#b1271f"/><stop offset=".385" stop-color="#b2281f"/><stop offset=".41" stop-color="#b2281f"/><stop offset=".426" stop-color="#b32820"/><stop offset=".452" stop-color="#de472b"/><stop offset=".477" stop-color="#fee89b"/><stop offset=".502" stop-color="#fdfec3"/><stop offset=".527" stop-color="#fee89b"/><stop offset=".552" stop-color="#de472b"/><stop offset=".577" stop-color="#b32820"/><stop offset=".594" stop-color="#b2281f"/><stop offset=".619" stop-color="#b2281f"/><stop offset=".669" stop-color="#b1271f"/><stop offset="1" stop-color="#b1271f"/></linearGradient><linearGradient id="h0_71"><stop offset="0" stop-color="#b62920"/><stop offset=".334" stop-color="#b62920"/><stop offset=".385" stop-color="#b62920"/><stop offset=".41" stop-color="#b62920"/><stop offset=".426" stop-color="#b82a20"/><stop offset=".452" stop-color="#e04a2d"/><stop offset=".477" stop-color="#fedf8f"/><stop offset=".502" stop-color="#fff6b1"/><stop offset=".527" stop-color="#fedf8f"/><stop offset=".552" stop-color="#e04a2d"/><stop offset=".577" stop-color="#b82a20"/><stop offset=".594" stop-color="#b62920"/><stop offset=".619" stop-color="#b62920"/><stop offset=".669" stop-color="#b62920"/><stop offset="1" stop-color="#b62920"/></linearGradient><linearGradient id="h0_72"><stop offset="0" stop-color="#b0271f"/><stop offset=".334" stop-color="#b0271f"/><stop offset=".385" stop-color="#b1271f"/><stop offset=".41" stop-color="#b1271f"/><stop offset=".426" stop-color="#b2281f"/><stop offset=".452" stop-color="#de472b"/><stop offset=".477" stop-color="#fedd8d"/><stop offset=".502" stop-color="#fff4ae"/><stop offset=".527" stop-color="#fedd8d"/><stop offset=".552" stop-color="#de472b"/><stop offset=".577" stop-color="#b2281f"/><stop offset=".594" stop-color="#b1271f"/><stop offset=".619" stop-color="#b1271f"/><stop offset=".669" stop-color="#b0271f"/><stop offset="1" stop-color="#b0271f"/></linearGradient><linearGradient id="h0_73"><stop offset="0" stop-color="#b1271f"/><stop offset=".334" stop-color="#b1271f"/><stop offset=".385" stop-color="#b1271f"/><stop offset=".41" stop-color="#b1271f"/><stop offset=".426" stop-color="#b3281f"/><stop offset=".452" stop-color="#dc432a"/><stop offset=".477" stop-color="#fee293"/><stop offset=".502" stop-color="#fffbb9"/><stop offset=".527" stop-color="#fee293"/><stop offset=".552" stop-color="#dc432a"/><stop offset=".577" stop-color="#b3281f"/><stop offset=".594" stop-color="#b1271f"/><stop offset=".619" stop-color="#b1271f"/><stop offset=".669" stop-color="#b1271f"/><stop offset="1" stop-color="#b1271f"/></linearGradient><linearGradient id="h1_0"><stop offset="0" stop-color="#dc4229"/><stop offset=".334" stop-color="#e14c2d"/><stop offset=".384" stop-color="#e75832"/><stop offset=".409" stop-color="#f7894c"/><stop offset=".426" stop-color="#fed182"/><stop offset=".451" stop-color="#d9eff6"/><stop offset=".477" stop-color="#89beda"/><stop offset=".502" stop-color="#7bb2d4"/><stop offset=".527" stop-color="#89beda"/><stop offset=".552" stop-color="#d9eff6"/><stop offset=".577" stop-color="#fed182"/><stop offset=".594" stop-color="#f7894c"/><stop offset=".619" stop-color="#e75832"/><stop offset=".669" stop-color="#e14c2d"/><stop offset="1" stop-color="#dc4229"/></linearGradient><linearGradient id="h1_1"><stop offset="0" stop-color="#d93d27"/><stop offset=".334" stop-color="#de462b"/><stop offset=".384" stop-color="#e55331"/><stop offset=".409" stop-color="#f7864a"/><stop offset=".426" stop-color="#fece7f"/><stop offset=".451" stop-color="#e2f4f4"/><stop offset=".477" stop-color="#9acce2"/><stop offset=".502" stop-color="#8ec1dc"/><stop offset=".527" stop-color="#9acce2"/><stop offset=".552" stop-color="#e2f4f4"/><stop offset=".577" stop-color="#fece7f"/><stop offset=".594" stop-color="#f7864a"/><stop offset=".619" stop-color="#e55331"/><stop offset=".669" stop-color="#de462b"/><stop offset="1" stop-color="#d93d27"/></linearGradient><linearGradient id="h1_2"><stop offset="0" stop-color="#d63825"/><stop offset=".334" stop-color="#db4128"/><stop offset=".384" stop-color="#e04b2d"/><stop offset=".409" stop-color="#f4733f"/><stop offset=".426" stop-color="#fdb86a"/><stop offset=".451" stop-color="#f3fad5"/><stop offset=".477" stop-color="#b8e0ed"/><stop offset=".502" stop-color="#acdae9"/><stop offset=".527" stop-color="#b8e0ed"/><stop offset=".552" stop-color="#f3fad5"/><stop offset=".577" stop-color="#fdb86a"/><stop offset=".594" stop-color="#f4733f"/><stop offset=".619" stop-color="#e04b2d"/><stop offset=".669" stop-color="#db4128"/><stop offset="1" stop-color="#d63825"/></linearGradient><linearGradient id="h1_3"><stop offset="0" stop-color="#da3f28"/><stop offset=".334" stop-color="#de482b"/><stop offset=".384" stop-color="#e45230"/><stop offset=".409" stop-color="#f57a43"/><stop offset=".426" stop-color="#fdbf71"/><stop offset=".451" stop-color="#ebf7e4"/><stop offset=".477" stop-color="#a5d4e7"/><stop offset=".502" stop-color="#98c9e1"/><stop offset=".527" stop-color="#a5d4e7"/><stop offset=".552" stop-color="#ebf7e4"/><stop offset=".577" stop-color="#fdbf71"/><stop offset=".594" stop-color="#f57a43"/><stop offset=".619" stop-color="#e45230"/><stop offset=".669" stop-color="#de482b"/><stop offset="1" stop-color="#da3f28"/></linearGradient><linearGradient id="h1_4"><stop offset="0" stop-color="#d33423"/><stop offset=".334" stop-color="#d83c26"/><stop offset=".384" stop-color="#dd452a"/><stop offset=".409" stop-color="#f0693a"/><stop offset=".426" stop-color="#fdac60"/><stop offset=".451" stop-color="#fbfdc7"/><stop offset=".477" stop-color="#c5e6f0"/><stop offset=".502" stop-color="#b8e0ed"/><stop offset=".527" stop-color="#c5e6f0"/><stop offset=".552" stop-color="#fbfdc7"/><stop offset=".577" stop-color="#fdac60"/><stop offset=".594" stop-color="#f0693a"/><stop offset=".619" stop-color="#dd452a"/><stop offset=".669" stop-color="#d83c26"/><stop offset="1" stop-color="#d33423"/></linearGradient><linearGradient id="h1_5"><stop offset="0" stop-color="#d63724"/><stop offset=".334" stop-color="#da3f28"/><stop offset=".384" stop-color="#df4a2c"/><stop offset=".409" stop-color="#f3713e"/><stop offset=".426" stop-color="#fdb86a"/><stop offset=".451" stop-color="#eff9dc"/><stop offset=".477" stop-color="#aedaea"/><stop offset=".502" stop-color="#a0d0e4"/><stop offset=".527" stop-color="#aedaea"/><stop offset=".552" stop-color="#eff9dc"/><stop offset=".577" stop-color="#fdb86a"/><stop offset=".594" stop-color="#f3713e"/><stop offset=".619" stop-color="#df4a2c"/><stop offset=".669" stop-color="#da3f28"/><stop offset="1" stop-color="#d63724"/></linearGradient><linearGradient id="h1_6"><stop offset="0" stop-color="#d53524"/><stop offset=".334" stop-color="#d93e27"/><stop offset=".384" stop-color="#df482c"/><stop offset=".409" stop-color="#f4723e"/><stop offset=".426" stop-color="#fdb769"/><stop offset=".451" stop-color="#f5fbd2"/><stop offset=".477" stop-color="#bee2ee"/><stop offset=".502" stop-color="#b2dceb"/><stop offset=".527" stop-color="#bee2ee"/><stop offset=".552" stop-color="#f5fbd2"/><stop offset=".577" stop-color="#fdb769"/><stop offset=".594" stop-color="#f4723e"/><stop offset=".619" stop-color="#df482c"/><stop offset=".669" stop-color="#d93e27"/><stop offset="1" stop-color="#d53524"/></linearGradient><linearGradient id="h1_7"><stop offset="0" stop-color="#d33423"/><stop offset=".334" stop-color="#d83b26"/><stop offset=".384" stop-color="#dd452a"/><stop offset=".409" stop-color="#f06839"/><stop offset=".426" stop-color="#fdab5f"/><stop offset=".451" stop-color="#fbfec6"/><stop offset=".477" stop-color="#c6e6f1"/><stop offset=".502" stop-color="#b9e0ed"/><stop offset=".527" stop-color="#c6e6f1"/><stop offset=".552" stop-color="#fbfec6"/><stop offset=".577" stop-color="#fdab5f"/><stop offset=".594" stop-color="#f06839"/><stop offset=".619" stop-color="#dd452a"/><stop offset=".669" stop-color="#d83b26"/><stop offset="1" stop-color="#d33423"/></linearGradient><linearGradient id="h1_8"><stop offset="0" stop-color="#d63724"/><stop offset=".334" stop-color="#da3f28"/><stop offset=".384" stop-color="#e04a2c"/><stop offset=".409" stop-color="#f4723e"/><stop offset=".426" stop-color="#fdb668"/><stop offset=".451" stop-color="#f8fccc"/><stop offset=".477" stop-color="#c6e6f1"/><stop offset=".502" stop-color="#bbe1ee"/><stop offset=".527" stop-color="#c6e6f1"/><stop offset=".552" stop-color="#f8fccc"/><stop offset=".577" stop-color="#fdb668"/><stop offset=".594" stop-color="#f4723e"/><stop offset=".619" stop-color="#e04a2c"/><stop offset=".669" stop-color="#da3f28"/><stop offset="1" stop-color="#d63724"/></linearGradient><linearGradient id="h1_9"><stop offset="0" stop-color="#d33423"/><stop offset=".334" stop-color="#d83b26"/><stop offset=".384" stop-color="#dd452b"/><stop offset=".409" stop-color="#f3703d"/><stop offset=".426" stop-color="#fdb669"/><stop offset=".451" stop-color="#f4fbd4"/><stop offset=".477" stop-color="#bbe1ee"/><stop offset=".502" stop-color="#afdbea"/><stop offset=".527" stop-color="#bbe1ee"/><stop offset=".552" stop-color="#f4fbd4"/><stop offset=".577" stop-color="#fdb669"/><stop offset=".594" stop-color="#f3703d"/><stop offset=".619" stop-color="#dd452b"/><stop offset=".669" stop-color="#d83b26"/><stop offset="1" stop-color="#d33423"/></linearGradient><linearGradient id="h1_10"><stop offset="0" stop-color="#d23323"/><stop offset=".334" stop-color="#d73a26"/><stop offset=".384" stop-color="#db4229"/><stop offset=".409" stop-color="#ec6136"/><stop offset=".426" stop-color="#fba159"/><stop offset=".451" stop-color="#ffffbf"/><stop offset=".477" stop-color="#c8e7f1"/><stop offset=".502" stop-color="#bbe1ed"/><stop offset=".527" stop-color="#c8e7f1"/><stop offset=".552" stop-color="#ffffbf"/><stop offset=".577" stop-color="#fba159"/><stop offset=".594" stop-color="#ec6136"/><stop offset=".619" stop-color="#db4229"/><stop offset=".669" stop-color="#d73a26"/><stop offset="1" stop-color="#d23323"/></linearGradient><linearGradient id="h1_11"><stop offset="0" stop-color="#d23323"/><stop offset=".334" stop-color="#d73a25"/><stop offset=".384" stop-color="#da4028"/><stop offset=".409" stop-color="#e75832"/><stop offset=".426" stop-color="#f89150"/><stop offset=".451" stop-color="#fffbb9"/><stop offset=".477" stop-color="#c3e5f0"/><stop offset=".502" stop-color="#b3ddeb"/><stop offset=".527" stop-color="#c3e5f0"/><stop offset=".552" stop-color="#fffbb9"/><stop offset=".577" stop-color="#f89150"/><stop offset=".594" stop-color="#e75832"/><stop offset=".619" stop-color="#da4028"/><stop offset=".669" stop-color="#d73a25"/><stop offset="1" stop-color="#d23323"/></linearGradient><linearGradient id="h1_12"><stop offset="0" stop-color="#cd3222"/><stop offset=".334" stop-color="#d43423"/><stop offset=".384" stop-color="#d83b26"/><stop offset=".409" stop-color="#e65632"/><stop offset=".426" stop-color="#f99251"/><stop offset=".451" stop-color="#fff9b6"/><stop offset=".477" stop-color="#cdeaf3"/><stop offset=".502" stop-color="#bfe3ef"/><stop offset=".527" stop-color="#cdeaf3"/><stop offset=".552" stop-color="#fff9b6"/><stop offset=".577" stop-color="#f99251"/><stop offset=".594" stop-color="#e65632"/><stop offset=".619" stop-color="#d83b26"/><stop offset=".669" stop-color="#d43423"/><stop offset="1" stop-color="#cd3222"/></linearGradient><linearGradient id="h1_13"><stop offset="0" stop-color="#d23323"/><stop offset=".334" stop-color="#d73925"/><stop offset=".384" stop-color="#da3f28"/><stop offset=".409" stop-color="#e55431"/><stop offset=".426" stop-color="#f78a4c"/><stop offset=".451" stop-color="#fff8b4"/><stop offset=".477" stop-color="#c6e6f1"/><stop offset=".502" stop-color="#b6deec"/><stop offset=".527" stop-color="#c6e6f1"/><stop offset=".552" stop-color="#fff8b4"/><stop offset=".577" stop-color="#f78a4c"/><stop offset=".594" stop-color="#e55431"/><stop offset=".619" stop-color="#da3f28"/><stop offset=".669" stop-color="#d73925"/><stop offset="1" stop-color="#d23323"/></linearGradient><linearGradient id="h1_14"><stop offset="0" stop-color="#ce3222"/><stop offset=".334" stop-color="#d43423"/><stop offset=".384" stop-color="#d73925"/><stop offset=".409" stop-color="#e14d2e"/><stop offset=".426" stop-color="#f57d45"/><stop offset=".451" stop-color="#feeda4"/><stop offset=".477" stop-color="#def2f7"/><stop offset=".502" stop-color="#ceeaf3"/><stop offset=".527" stop-color="#def2f7"/><stop offset=".552" stop-color="#feeda4"/><stop offset=".577" stop-color="#f57d45"/><stop offset=".594" stop-color="#e14d2e"/><stop offset=".619" stop-color="#d73925"/><stop offset=".669" stop-color="#d43423"/><stop offset="1" stop-color="#ce3222"/></linearGradient><linearGradient id="h1_15"><stop offset="0" stop-color="#d23323"/><stop offset=".334" stop-color="#d73925"/><stop offset=".384" stop-color="#da3f28"/><stop offset=".409" stop-color="#e45230"/><stop offset=".426" stop-color="#f68348"/><stop offset=".451" stop-color="#feefa6"/><stop offset=".477" stop-color="#ddf1f7"/><stop offset=".502" stop-color="#ceeaf3"/><stop offset=".527" stop-color="#ddf1f7"/><stop offset=".552" stop-color="#feefa6"/><stop offset=".577" stop-color="#f68348"/><stop offset=".594" stop-color="#e45230"/><stop offset=".619" stop-color="#da3f28"/><stop offset=".669" stop-color="#d73925"/><stop offset="1" stop-color="#d23323"/></linearGradient><linearGradient id="h1_16"><stop offset="0" stop-color="#d13323"/><stop offset=".334" stop-color="#d63825"/><stop offset=".384" stop-color="#d93e27"/><stop offset=".409" stop-color="#e55431"/><stop offset=".426" stop-color="#f88c4d"/><stop offset=".451" stop-color="#fff7b3"/><stop offset=".477" stop-color="#cbe9f2"/><stop offset=".502" stop-color="#bce1ee"/><stop offset=".527" stop-color="#cbe9f2"/><stop offset=".552" stop-color="#fff7b3"/><stop offset=".577" stop-color="#f88c4d"/><stop offset=".594" stop-color="#e55431"/><stop offset=".619" stop-color="#d93e27"/><stop offset=".669" stop-color="#d63825"/><stop offset="1" stop-color="#d13323"/></linearGradient><linearGradient id="h1_17"><stop offset="0" stop-color="#d33423"/><stop offset=".334" stop-color="#d73925"/><stop offset=".384" stop-color="#da3f28"/><stop offset=".409" stop-color="#e65632"/><stop offset=".426" stop-color="#f88d4e"/><stop offset=".451" stop-color="#fff5b0"/><stop offset=".477" stop-color="#d2ecf4"/><stop offset=".502" stop-color="#c4e5f0"/><stop offset=".527" stop-color="#d2ecf4"/><stop offset=".552" stop-color="#fff5b0"/><stop offset=".577" stop-color="#f88d4e"/><stop offset=".594" stop-color="#e65632"/><stop offset=".619" stop-color="#da3f28"/><stop offset=".669" stop-color="#d73925"/><stop offset="1" stop-color="#d33423"/></linearGradient><linearGradient id="h1_18"><stop offset="0" stop-color="#d03323"/><stop offset=".334" stop-color="#d53624"/><stop offset=".384" stop-color="#d93d27"/><stop offset=".409" stop-color="#e75833"/><stop offset=".426" stop-color="#f99151"/><stop offset=".451" stop-color="#fff5b0"/><stop offset=".477" stop-color="#dbf0f6"/><stop offset=".502" stop-color="#cdeaf3"/><stop offset=".527" stop-color="#dbf0f6"/><stop offset=".552" stop-color="#fff5b0"/><stop offset=".577" stop-color="#f99151"/><stop offset=".594" stop-color="#e75833"/><stop offset=".619" stop-color="#d93d27"/><stop offset=".669" stop-color="#d53624"/><stop offset="1" stop-color="#d03323"/></linearGradient><linearGradient id="h1_19"><stop offset="0" stop-color="#ca3022"/><stop offset=".334" stop-color="#cf3223"/><stop offset=".384" stop-color="#d33423"/><stop offset=".409" stop-color="#db4229"/><stop offset=".426" stop-color="#f26c3b"/><stop offset=".451" stop-color="#fee79b"/><stop offset=".477" stop-color="#ddf1f7"/><stop offset=".502" stop-color="#cbe8f2"/><stop offset=".527" stop-color="#ddf1f7"/><stop offset=".552" stop-color="#fee79b"/><stop offset=".577" stop-color="#f26c3b"/><stop offset=".594" stop-color="#db4229"/><stop offset=".619" stop-color="#d33423"/><stop offset=".669" stop-color="#cf3223"/><stop offset="1" stop-color="#ca3022"/></linearGradient><linearGradient id="h1_20"><stop offset="0" stop-color="#d23323"/><stop offset=".334" stop-color="#d63825"/><stop offset=".384" stop-color="#d93d27"/><stop offset=".409" stop-color="#e24d2e"/><stop offset=".426" stop-color="#f57943"/><stop offset=".451" stop-color="#fee89c"/><stop offset=".477" stop-color="#e4f5f0"/><stop offset=".502" stop-color="#d8eff6"/><stop offset=".527" stop-color="#e4f5f0"/><stop offset=".552" stop-color="#fee89c"/><stop offset=".577" stop-color="#f57943"/><stop offset=".594" stop-color="#e24d2e"/><stop offset=".619" stop-color="#d93d27"/><stop offset=".669" stop-color="#d63825"/><stop offset="1" stop-color="#d23323"/></linearGradient><linearGradient id="h1_21"><stop offset="0" stop-color="#c93022"/><stop offset=".334" stop-color="#ce3222"/><stop offset=".384" stop-color="#d33423"/><stop offset=".409" stop-color="#e04b2d"/><stop offset=".426" stop-color="#f68248"/><stop offset=".451" stop-color="#fff2ab"/><stop offset=".477" stop-color="#d8eff6"/><stop offset=".502" stop-color="#c9e8f1"/><stop offset=".527" stop-color="#d8eff6"/><stop offset=".552" stop-color="#fff2ab"/><stop offset=".577" stop-color="#f68248"/><stop offset=".594" stop-color="#e04b2d"/><stop offset=".619" stop-color="#d33423"/><stop offset=".669" stop-color="#ce3222"/><stop offset="1" stop-color="#c93022"/></linearGradient><linearGradient id="h1_22"><stop offset="0" stop-color="#cf3222"/><stop offset=".334" stop-color="#d43523"/><stop offset=".384" stop-color="#d73a26"/><stop offset=".409" stop-color="#e34f2f"/><stop offset=".426" stop-color="#f68348"/><stop offset=".451" stop-color="#fff1aa"/><stop offset=".477" stop-color="#d8eff6"/><stop offset=".502" stop-color="#c9e8f2"/><stop offset=".527" stop-color="#d8eff6"/><stop offset=".552" stop-color="#fff1aa"/><stop offset=".577" stop-color="#f68348"/><stop offset=".594" stop-color="#e34f2f"/><stop offset=".619" stop-color="#d73a26"/><stop offset=".669" stop-color="#d43523"/><stop offset="1" stop-color="#cf3222"/></linearGradient><linearGradient id="h1_23"><stop offset="0" stop-color="#c93022"/><stop offset=".334" stop-color="#ce3222"/><stop offset=".384" stop-color="#d13323"/><stop offset=".409" stop-color="#d93d27"/><stop offset=".426" stop-color="#ed6438"/><stop offset=".451" stop-color="#fee293"/><stop offset=".477" stop-color="#e2f4f5"/><stop offset=".502" stop-color="#d0ebf3"/><stop offset=".527" stop-color="#e2f4f5"/><stop offset=".552" stop-color="#fee293"/><stop offset=".577" stop-color="#ed6438"/><stop offset=".594" stop-color="#d93d27"/><stop offset=".619" stop-color="#d13323"/><stop offset=".669" stop-color="#ce3222"/><stop offset="1" stop-color="#c93022"/></linearGradient><linearGradient id="h1_24"><stop offset="0" stop-color="#cf3222"/><stop offset=".334" stop-color="#d43423"/><stop offset=".384" stop-color="#d73925"/><stop offset=".409" stop-color="#e14b2d"/><stop offset=".426" stop-color="#f57c44"/><stop offset=".451" stop-color="#feeea5"/><stop offset=".477" stop-color="#daf0f6"/><stop offset=".502" stop-color="#cae8f2"/><stop offset=".527" stop-color="#daf0f6"/><stop offset=".552" stop-color="#feeea5"/><stop offset=".577" stop-color="#f57c44"/><stop offset=".594" stop-color="#e14b2d"/><stop offset=".619" stop-color="#d73925"/><stop offset=".669" stop-color="#d43423"/><stop offset="1" stop-color="#cf3222"/></linearGradient><linearGradient id="h1_25"><stop offset="0" stop-color="#c72f22"/><stop offset=".334" stop-color="#cc3122"/><stop offset=".384" stop-color="#d03323"/><stop offset=".409" stop-color="#db4229"/><stop offset=".426" stop-color="#f3703d"/><stop offset=".451" stop-color="#fee597"/><stop offset=".477" stop-color="#e9f6e8"/><stop offset=".502" stop-color="#e0f3f8"/><stop offset=".527" stop-color="#e9f6e8"/><stop offset=".552" stop-color="#fee597"/><stop offset=".577" stop-color="#f3703d"/><stop offset=".594" stop-color="#db4229"/><stop offset=".619" stop-color="#d03323"/><stop offset=".669" stop-color="#cc3122"/><stop offset="1" stop-color="#c72f22"/></linearGradient><linearGradient id="h1_26"><stop offset="0" stop-color="#c93022"/><stop offset=".334" stop-color="#cd3222"/><stop offset=".384" stop-color="#d13323"/><stop offset=".409" stop-color="#dc4329"/><stop offset=".426" stop-color="#f4733f"/><stop offset=".451" stop-color="#feea9f"/><stop offset=".477" stop-color="#e0f3f8"/><stop offset=".502" stop-color="#d0ebf3"/><stop offset=".527" stop-color="#e0f3f8"/><stop offset=".552" stop-color="#feea9f"/><stop offset=".577" stop-color="#f4733f"/><stop offset=".594" stop-color="#dc4329"/><stop offset=".619" stop-color="#d13323"/><stop offset=".669" stop-color="#cd3222"/><stop offset="1" stop-color="#c93022"/></linearGradient><linearGradient id="h1_27"><stop offset="0" stop-color="#cb3122"/><stop offset=".334" stop-color="#d03323"/><stop offset=".384" stop-color="#d33423"/><stop offset=".409" stop-color="#da3f28"/><stop offset=".426" stop-color="#ee6438"/><stop offset=".451" stop-color="#fed888"/><stop offset=".477" stop-color="#f0f9db"/><stop offset=".502" stop-color="#e6f5ec"/><stop offset=".527" stop-color="#f0f9db"/><stop offset=".552" stop-color="#fed888"/><stop offset=".577" stop-color="#ee6438"/><stop offset=".594" stop-color="#da3f28"/><stop offset=".619" stop-color="#d33423"/><stop offset=".669" stop-color="#d03323"/><stop offset="1" stop-color="#cb3122"/></linearGradient><linearGradient id="h1_28"><stop offset="0" stop-color="#c72f22"/><stop offset=".334" stop-color="#cc3122"/><stop offset=".384" stop-color="#cf3222"/><stop offset=".409" stop-color="#d43523"/><stop offset=".426" stop-color="#e3512f"/><stop offset=".451" stop-color="#fec879"/><stop offset=".477" stop-color="#f1fad9"/><stop offset=".502" stop-color="#e5f5ef"/><stop offset=".527" stop-color="#f1fad9"/><stop offset=".552" stop-color="#fec879"/><stop offset=".577" stop-color="#e3512f"/><stop offset=".594" stop-color="#d43523"/><stop offset=".619" stop-color="#cf3222"/><stop offset=".669" stop-color="#cc3122"/><stop offset="1" stop-color="#c72f22"/></linearGradient><linearGradient id="h1_29"><stop offset="0" stop-color="#cd3122"/><stop offset=".334" stop-color="#d13323"/><stop offset=".384" stop-color="#d43423"/><stop offset=".409" stop-color="#d83c26"/><stop offset=".426" stop-color="#e75833"/><stop offset=".451" stop-color="#fed384"/><stop offset=".477" stop-color="#e6f5ed"/><stop offset=".502" stop-color="#d5eef5"/><stop offset=".527" stop-color="#e6f5ed"/><stop offset=".552" stop-color="#fed384"/><stop offset=".577" stop-color="#e75833"/><stop offset=".594" stop-color="#d83c26"/><stop offset=".619" stop-color="#d43423"/><stop offset=".669" stop-color="#d13323"/><stop offset="1" stop-color="#cd3122"/></linearGradient><linearGradient id="h1_30"><stop offset="0" stop-color="#c42e21"/><stop offset=".334" stop-color="#c93022"/><stop offset=".384" stop-color="#cc3122"/><stop offset=".409" stop-color="#d13323"/><stop offset=".426" stop-color="#e14c2d"/><stop offset=".451" stop-color="#fdc173"/><stop offset=".477" stop-color="#f6fccf"/><stop offset=".502" stop-color="#ebf7e4"/><stop offset=".527" stop-color="#f6fccf"/><stop offset=".552" stop-color="#fdc173"/><stop offset=".577" stop-color="#e14c2d"/><stop offset=".594" stop-color="#d13323"/><stop offset=".619" stop-color="#cc3122"/><stop offset=".669" stop-color="#c93022"/><stop offset="1" stop-color="#c42e21"/></linearGradient><linearGradient id="h1_31"><stop offset="0" stop-color="#c62f21"/><stop offset=".334" stop-color="#ca3022"/><stop offset=".384" stop-color="#cd3222"/><stop offset=".409" stop-color="#d73925"/><stop offset=".426" stop-color="#ec6137"/><stop offset=".451" stop-color="#fedf8f"/><stop offset=".477" stop-color="#e8f6ea"/><stop offset=".502" stop-color="#dbf1f7"/><stop offset=".527" stop-color="#e8f6ea"/><stop offset=".552" stop-color="#fedf8f"/><stop offset=".577" stop-color="#ec6137"/><stop offset=".594" stop-color="#d73925"/><stop offset=".619" stop-color="#cd3222"/><stop offset=".669" stop-color="#ca3022"/><stop offset="1" stop-color="#c62f21"/></linearGradient><linearGradient id="h1_32"><stop offset="0" stop-color="#cb3122"/><stop offset=".334" stop-color="#cf3222"/><stop offset=".384" stop-color="#d23323"/><stop offset=".409" stop-color="#d73a26"/><stop offset=".426" stop-color="#e85a33"/><stop offset=".451" stop-color="#fecc7d"/><stop offset=".477" stop-color="#f6fbd0"/><stop offset=".502" stop-color="#ebf7e3"/><stop offset=".527" stop-color="#f6fbd0"/><stop offset=".552" stop-color="#fecc7d"/><stop offset=".577" stop-color="#e85a33"/><stop offset=".594" stop-color="#d73a26"/><stop offset=".619" stop-color="#d23323"/><stop offset=".669" stop-color="#cf3222"/><stop offset="1" stop-color="#cb3122"/></linearGradient><linearGradient id="h1_33"><stop offset="0" stop-color="#ca3022"/><stop offset=".334" stop-color="#ce3222"/><stop offset=".384" stop-color="#d13323"/><stop offset=".409" stop-color="#d63825"/><stop offset=".426" stop-color="#e65531"/><stop offset=".451" stop-color="#fdc677"/><stop offset=".477" stop-color="#f9fdca"/><stop offset=".502" stop-color="#eff9dd"/><stop offset=".527" stop-color="#f9fdca"/><stop offset=".552" stop-color="#fdc677"/><stop offset=".577" stop-color="#e65531"/><stop offset=".594" stop-color="#d63825"/><stop offset=".619" stop-color="#d13323"/><stop offset=".669" stop-color="#ce3222"/><stop offset="1" stop-color="#ca3022"/></linearGradient><linearGradient id="h1_34"><stop offset="0" stop-color="#c93022"/><stop offset=".334" stop-color="#cd3122"/><stop offset=".384" stop-color="#d03223"/><stop offset=".409" stop-color="#d53624"/><stop offset=".426" stop-color="#e45230"/><stop offset=".451" stop-color="#fec779"/><stop offset=".477" stop-color="#f3fad5"/><stop offset=".502" stop-color="#e8f6e9"/><stop offset=".527" stop-color="#f3fad5"/><stop offset=".552" stop-color="#fec779"/><stop offset=".577" stop-color="#e45230"/><stop offset=".594" stop-color="#d53624"/><stop offset=".619" stop-color="#d03223"/><stop offset=".669" stop-color="#cd3122"/><stop offset="1" stop-color="#c93022"/></linearGradient><linearGradient id="h1_35"><stop offset="0" stop-color="#c72f22"/><stop offset=".334" stop-color="#cb3122"/><stop offset=".384" stop-color="#ce3222"/><stop offset=".409" stop-color="#d13323"/><stop offset=".426" stop-color="#de462b"/><stop offset=".451" stop-color="#fdb769"/><stop offset=".477" stop-color="#fbfdc7"/><stop offset=".502" stop-color="#eef9de"/><stop offset=".527" stop-color="#fbfdc7"/><stop offset=".552" stop-color="#fdb769"/><stop offset=".577" stop-color="#de462b"/><stop offset=".594" stop-color="#d13323"/><stop offset=".619" stop-color="#ce3222"/><stop offset=".669" stop-color="#cb3122"/><stop offset="1" stop-color="#c72f22"/></linearGradient><linearGradient id="h1_36"><stop offset="0" stop-color="#c42e21"/><stop offset=".334" stop-color="#c72f22"/><stop offset=".384" stop-color="#ca3022"/><stop offset=".409" stop-color="#cf3222"/><stop offset=".426" stop-color="#de472b"/><stop offset=".451" stop-color="#fdbc6e"/><stop offset=".477" stop-color="#f8fccc"/><stop offset=".502" stop-color="#ecf8e2"/><stop offset=".527" stop-color="#f8fccc"/><stop offset=".552" stop-color="#fdbc6e"/><stop offset=".577" stop-color="#de472b"/><stop offset=".594" stop-color="#cf3222"/><stop offset=".619" stop-color="#ca3022"/><stop offset=".669" stop-color="#c72f22"/><stop offset="1" stop-color="#c42e21"/></linearGradient><linearGradient id="h1_37"><stop offset="0" stop-color="#c62f22"/><stop offset=".334" stop-color="#ca3022"/><stop offset=".384" stop-color="#cc3122"/><stop offset=".409" stop-color="#d03323"/><stop offset=".426" stop-color="#dd442a"/><stop offset=".451" stop-color="#fdba6d"/><stop offset=".477" stop-color="#f2fad8"/><stop offset=".502" stop-color="#e4f4f1"/><stop offset=".527" stop-color="#f2fad8"/><stop offset=".552" stop-color="#fdba6d"/><stop offset=".577" stop-color="#dd442a"/><stop offset=".594" stop-color="#d03323"/><stop offset=".619" stop-color="#cc3122"/><stop offset=".669" stop-color="#ca3022"/><stop offset="1" stop-color="#c62f22"/></linearGradient><linearGradient id="h1_38"><stop offset="0" stop-color="#c02d21"/><stop offset=".334" stop-color="#c32e21"/><stop offset=".384" stop-color="#c62f21"/><stop offset=".409" stop-color="#c93022"/><stop offset=".426" stop-color="#d93d27"/><stop offset=".451" stop-color="#fdb467"/><stop offset=".477" stop-color="#f7fcce"/><stop offset=".502" stop-color="#e9f7e7"/><stop offset=".527" stop-color="#f7fcce"/><stop offset=".552" stop-color="#fdb467"/><stop offset=".577" stop-color="#d93d27"/><stop offset=".594" stop-color="#c93022"/><stop offset=".619" stop-color="#c62f21"/><stop offset=".669" stop-color="#c32e21"/><stop offset="1" stop-color="#c02d21"/></linearGradient><linearGradient id="h1_39"><stop offset="0" stop-color="#c02d21"/><stop offset=".334" stop-color="#c42e21"/><stop offset=".384" stop-color="#c62f22"/><stop offset=".409" stop-color="#c83022"/><stop offset=".426" stop-color="#d43423"/><stop offset=".451" stop-color="#fa9a56"/><stop offset=".477" stop-color="#fffab7"/><stop offset=".502" stop-color="#f6fbd0"/><stop offset=".527" stop-color="#fffab7"/><stop offset=".552" stop-color="#fa9a56"/><stop offset=".577" stop-color="#d43423"/><stop offset=".594" stop-color="#c83022"/><stop offset=".619" stop-color="#c62f22"/><stop offset=".669" stop-color="#c42e21"/><stop offset="1" stop-color="#c02d21"/></linearGradient><linearGradient id="h1_40"><stop offset="0" stop-color="#c22d21"/><stop offset=".334" stop-color="#c52f21"/><stop offset=".384" stop-color="#c72f22"/><stop offset=".409" stop-color="#ca3022"/><stop offset=".426" stop-color="#d73925"/><stop offset=".451" stop-color="#fba35a"/><stop offset=".477" stop-color="#fffab8"/><stop offset=".502" stop-color="#f7fcce"/><stop offset=".527" stop-color="#fffab8"/><stop offset=".552" stop-color="#fba35a"/><stop offset=".577" stop-color="#d73925"/><stop offset=".594" stop-color="#ca3022"/><stop offset=".619" stop-color="#c72f22"/><stop offset=".669" stop-color="#c52f21"/><stop offset="1" stop-color="#c22d21"/></linearGradient><linearGradient id="h1_41"><stop offset="0" stop-color="#c42e21"/><stop offset=".334" stop-color="#c83022"/><stop offset=".384" stop-color="#ca3022"/><stop offset=".409" stop-color="#ce3222"/><stop offset=".426" stop-color="#db4229"/><stop offset=".451" stop-color="#fdb466"/><stop offset=".477" stop-color="#fcfec5"/><stop offset=".502" stop-color="#eff9dc"/><stop offset=".527" stop-color="#fcfec5"/><stop offset=".552" stop-color="#fdb466"/><stop offset=".577" stop-color="#db4229"/><stop offset=".594" stop-color="#ce3222"/><stop offset=".619" stop-color="#ca3022"/><stop offset=".669" stop-color="#c83022"/><stop offset="1" stop-color="#c42e21"/></linearGradient><linearGradient id="h1_42"><stop offset="0" stop-color="#c42e21"/><stop offset=".334" stop-color="#c72f22"/><stop offset=".384" stop-color="#c93022"/><stop offset=".409" stop-color="#cc3122"/><stop offset=".426" stop-color="#d73a26"/><stop offset=".451" stop-color="#fcaa5f"/><stop offset=".477" stop-color="#fafdc8"/><stop offset=".502" stop-color="#ecf8e3"/><stop offset=".527" stop-color="#fafdc8"/><stop offset=".552" stop-color="#fcaa5f"/><stop offset=".577" stop-color="#d73a26"/><stop offset=".594" stop-color="#cc3122"/><stop offset=".619" stop-color="#c93022"/><stop offset=".669" stop-color="#c72f22"/><stop offset="1" stop-color="#c42e21"/></linearGradient><linearGradient id="h1_43"><stop offset="0" stop-color="#c22e21"/><stop offset=".334" stop-color="#c52f21"/><stop offset=".384" stop-color="#c72f22"/><stop offset=".409" stop-color="#c93022"/><stop offset=".426" stop-color="#d33423"/><stop offset=".451" stop-color="#fa9955"/><stop offset=".477" stop-color="#ffffbe"/><stop offset=".502" stop-color="#f0f9db"/><stop offset=".527" stop-color="#ffffbe"/><stop offset=".552" stop-color="#fa9955"/><stop offset=".577" stop-color="#d33423"/><stop offset=".594" stop-color="#c93022"/><stop offset=".619" stop-color="#c72f22"/><stop offset=".669" stop-color="#c52f21"/><stop offset="1" stop-color="#c22e21"/></linearGradient><linearGradient id="h1_44"><stop offset="0" stop-color="#c42e21"/><stop offset=".334" stop-color="#c62f22"/><stop offset=".384" stop-color="#c83022"/><stop offset=".409" stop-color="#cb3122"/><stop offset=".426" stop-color="#d83c26"/><stop offset=".451" stop-color="#fcaa5f"/><stop offset=".477" stop-color="#fffebd"/><stop offset=".502" stop-color="#f3fad4"/><stop offset=".527" stop-color="#fffebd"/><stop offset=".552" stop-color="#fcaa5f"/><stop offset=".577" stop-color="#d83c26"/><stop offset=".594" stop-color="#cb3122"/><stop offset=".619" stop-color="#c83022"/><stop offset=".669" stop-color="#c62f22"/><stop offset="1" stop-color="#c42e21"/></linearGradient><linearGradient id="h1_45"><stop offset="0" stop-color="#c02d21"/><stop offset=".334" stop-color="#c32e21"/><stop offset=".384" stop-color="#c52f21"/><stop offset=".409" stop-color="#c72f22"/><stop offset=".426" stop-color="#d33323"/><stop offset=".451" stop-color="#fa9854"/><stop offset=".477" stop-color="#fff9b5"/><stop offset=".502" stop-color="#f7fccd"/><stop offset=".527" stop-color="#fff9b5"/><stop offset=".552" stop-color="#fa9854"/><stop offset=".577" stop-color="#d33323"/><stop offset=".594" stop-color="#c72f22"/><stop offset=".619" stop-color="#c52f21"/><stop offset=".669" stop-color="#c32e21"/><stop offset="1" stop-color="#c02d21"/></linearGradient><linearGradient id="h1_46"><stop offset="0" stop-color="#bc2b20"/><stop offset=".334" stop-color="#bf2c21"/><stop offset=".384" stop-color="#c12d21"/><stop offset=".409" stop-color="#c22d21"/><stop offset=".426" stop-color="#c93022"/><stop offset=".451" stop-color="#f67f46"/><stop offset=".477" stop-color="#fff4ae"/><stop offset=".502" stop-color="#f9fdc9"/><stop offset=".527" stop-color="#fff4ae"/><stop offset=".552" stop-color="#f67f46"/><stop offset=".577" stop-color="#c93022"/><stop offset=".594" stop-color="#c22d21"/><stop offset=".619" stop-color="#c12d21"/><stop offset=".669" stop-color="#bf2c21"/><stop offset="1" stop-color="#bc2b20"/></linearGradient><linearGradient id="h1_47"><stop offset="0" stop-color="#bf2c21"/><stop offset=".334" stop-color="#c22d21"/><stop offset=".384" stop-color="#c42e21"/><stop offset=".409" stop-color="#c62f22"/><stop offset=".426" stop-color="#d53523"/><stop offset=".451" stop-color="#fca95e"/><stop offset=".477" stop-color="#f9fdca"/><stop offset=".502" stop-color="#ebf7e4"/><stop offset=".527" stop-color="#f9fdca"/><stop offset=".552" stop-color="#fca95e"/><stop offset=".577" stop-color="#d53523"/><stop offset=".594" stop-color="#c62f22"/><stop offset=".619" stop-color="#c42e21"/><stop offset=".669" stop-color="#c22d21"/><stop offset="1" stop-color="#bf2c21"/></linearGradient><linearGradient id="h1_48"><stop offset="0" stop-color="#c12d21"/><stop offset=".334" stop-color="#c42e21"/><stop offset=".384" stop-color="#c62f21"/><stop offset=".409" stop-color="#c72f22"/><stop offset=".426" stop-color="#cf3222"/><stop offset=".451" stop-color="#f8904f"/><stop offset=".477" stop-color="#fffdbd"/><stop offset=".502" stop-color="#f0f9db"/><stop offset=".527" stop-color="#fffdbd"/><stop offset=".552" stop-color="#f8904f"/><stop offset=".577" stop-color="#cf3222"/><stop offset=".594" stop-color="#c72f22"/><stop offset=".619" stop-color="#c62f21"/><stop offset=".669" stop-color="#c42e21"/><stop offset="1" stop-color="#c12d21"/></linearGradient><linearGradient id="h1_49"><stop offset="0" stop-color="#bf2c21"/><stop offset=".334" stop-color="#c12d21"/><stop offset=".384" stop-color="#c32e21"/><stop offset=".409" stop-color="#c52f21"/><stop offset=".426" stop-color="#d23323"/><stop offset=".451" stop-color="#fba35b"/><stop offset=".477" stop-color="#fbfec5"/><stop offset=".502" stop-color="#edf8e1"/><stop offset=".527" stop-color="#fbfec5"/><stop offset=".552" stop-color="#fba35b"/><stop offset=".577" stop-color="#d23323"/><stop offset=".594" stop-color="#c52f21"/><stop offset=".619" stop-color="#c32e21"/><stop offset=".669" stop-color="#c12d21"/><stop offset="1" stop-color="#bf2c21"/></linearGradient><linearGradient id="h1_50"><stop offset="0" stop-color="#ba2b20"/><stop offset=".334" stop-color="#bd2c21"/><stop offset=".384" stop-color="#be2c21"/><stop offset=".409" stop-color="#c12d21"/><stop offset=".426" stop-color="#cf3222"/><stop offset=".451" stop-color="#fba159"/><stop offset=".477" stop-color="#fefec1"/><stop offset=".502" stop-color="#eff9dc"/><stop offset=".527" stop-color="#fefec1"/><stop offset=".552" stop-color="#fba159"/><stop offset=".577" stop-color="#cf3222"/><stop offset=".594" stop-color="#c12d21"/><stop offset=".619" stop-color="#be2c21"/><stop offset=".669" stop-color="#bd2c21"/><stop offset="1" stop-color="#ba2b20"/></linearGradient><linearGradient id="h1_51"><stop offset="0" stop-color="#bc2b20"/><stop offset=".334" stop-color="#be2c21"/><stop offset=".384" stop-color="#c02d21"/><stop offset=".409" stop-color="#c12d21"/><stop offset=".426" stop-color="#c93022"/><stop offset=".451" stop-color="#f68348"/><stop offset=".477" stop-color="#fff5af"/><stop offset=".502" stop-color="#f9fdca"/><stop offset=".527" stop-color="#fff5af"/><stop offset=".552" stop-color="#f68348"/><stop offset=".577" stop-color="#c93022"/><stop offset=".594" stop-color="#c12d21"/><stop offset=".619" stop-color="#c02d21"/><stop offset=".669" stop-color="#be2c21"/><stop offset="1" stop-color="#bc2b20"/></linearGradient><linearGradient id="h1_52"><stop offset="0" stop-color="#c02d21"/><stop offset=".334" stop-color="#c22e21"/><stop offset=".384" stop-color="#c32e21"/><stop offset=".409" stop-color="#c42e21"/><stop offset=".426" stop-color="#c93022"/><stop offset=".451" stop-color="#f57a43"/><stop offset=".477" stop-color="#fff8b4"/><stop offset=".502" stop-color="#f3fad5"/><stop offset=".527" stop-color="#fff8b4"/><stop offset=".552" stop-color="#f57a43"/><stop offset=".577" stop-color="#c93022"/><stop offset=".594" stop-color="#c42e21"/><stop offset=".619" stop-color="#c32e21"/><stop offset=".669" stop-color="#c22e21"/><stop offset="1" stop-color="#c02d21"/></linearGradient><linearGradient id="h1_53"><stop offset="0" stop-color="#bf2c21"/><stop offset=".334" stop-color="#c12d21"/><stop offset=".384" stop-color="#c22e21"/><stop offset=".409" stop-color="#c32e21"/><stop offset=".426" stop-color="#c72f22"/><stop offset=".451" stop-color="#f47540"/><stop offset=".477" stop-color="#fffab7"/><stop offset=".502" stop-color="#eff9dc"/><stop offset=".527" stop-color="#fffab7"/><stop offset=".552" stop-color="#f47540"/><stop offset=".577" stop-color="#c72f22"/><stop offset=".594" stop-color="#c32e21"/><stop offset=".619" stop-color="#c22e21"/><stop offset=".669" stop-color="#c12d21"/><stop offset="1" stop-color="#bf2c21"/></linearGradient><linearGradient id="h1_54"><stop offset="0" stop-color="#be2c21"/><stop offset=".334" stop-color="#c02d21"/><stop offset=".384" stop-color="#c22d21"/><stop offset=".409" stop-color="#c32e21"/><stop offset=".426" stop-color="#cb3122"/><stop offset=".451" stop-color="#f68348"/><stop offset=".477" stop-color="#fff3ad"/><stop offset=".502" stop-color="#fbfdc7"/><stop offset=".527" stop-color="#fff3ad"/><stop offset=".552" stop-color="#f68348"/><stop offset=".577" stop-color="#cb3122"/><stop offset=".594" stop-color="#c32e21"/><stop offset=".619" stop-color="#c22d21"/><stop offset=".669" stop-color="#c02d21"/><stop offset="1" stop-color="#be2c21"/></linearGradient><linearGradient id="h1_55"><stop offset="0" stop-color="#bb2b20"/><stop offset=".334" stop-color="#bc2b20"/><stop offset=".384" stop-color="#be2c21"/><stop offset=".409" stop-color="#bf2c21"/><stop offset=".426" stop-color="#c83022"/><stop offset=".451" stop-color="#f88c4d"/><stop offset=".477" stop-color="#fffcbb"/><stop offset=".502" stop-color="#f1f9d9"/><stop offset=".527" stop-color="#fffcbb"/><stop offset=".552" stop-color="#f88c4d"/><stop offset=".577" stop-color="#c83022"/><stop offset=".594" stop-color="#bf2c21"/><stop offset=".619" stop-color="#be2c21"/><stop offset=".669" stop-color="#bc2b20"/><stop offset="1" stop-color="#bb2b20"/></linearGradient><linearGradient id="h1_56"><stop offset="0" stop-color="#be2c21"/><stop offset=".334" stop-color="#bf2d21"/><stop offset=".384" stop-color="#c12d21"/><stop offset=".409" stop-color="#c12d21"/><stop offset=".426" stop-color="#c52e21"/><stop offset=".451" stop-color="#f26c3b"/><stop offset=".477" stop-color="#fff5b0"/><stop offset=".502" stop-color="#f3fbd4"/><stop offset=".527" stop-color="#fff5b0"/><stop offset=".552" stop-color="#f26c3b"/><stop offset=".577" stop-color="#c52e21"/><stop offset=".594" stop-color="#c12d21"/><stop offset=".619" stop-color="#c12d21"/><stop offset=".669" stop-color="#bf2d21"/><stop offset="1" stop-color="#be2c21"/></linearGradient><linearGradient id="h1_57"><stop offset="0" stop-color="#b92a20"/><stop offset=".334" stop-color="#ba2b20"/><stop offset=".384" stop-color="#bb2b20"/><stop offset=".409" stop-color="#bc2b20"/><stop offset=".426" stop-color="#c02d21"/><stop offset=".451" stop-color="#ee6538"/><stop offset=".477" stop-color="#feeda4"/><stop offset=".502" stop-color="#fdfec3"/><stop offset=".527" stop-color="#feeda4"/><stop offset=".552" stop-color="#ee6538"/><stop offset=".577" stop-color="#c02d21"/><stop offset=".594" stop-color="#bc2b20"/><stop offset=".619" stop-color="#bb2b20"/><stop offset=".669" stop-color="#ba2b20"/><stop offset="1" stop-color="#b92a20"/></linearGradient><linearGradient id="h1_58"><stop offset="0" stop-color="#b72920"/><stop offset=".334" stop-color="#b82a20"/><stop offset=".384" stop-color="#b92a20"/><stop offset=".409" stop-color="#ba2b20"/><stop offset=".426" stop-color="#c12d21"/><stop offset=".451" stop-color="#f4733f"/><stop offset=".477" stop-color="#feeca1"/><stop offset=".502" stop-color="#fffcba"/><stop offset=".527" stop-color="#feeca1"/><stop offset=".552" stop-color="#f4733f"/><stop offset=".577" stop-color="#c12d21"/><stop offset=".594" stop-color="#ba2b20"/><stop offset=".619" stop-color="#b92a20"/><stop offset=".669" stop-color="#b82a20"/><stop offset="1" stop-color="#b72920"/></linearGradient><linearGradient id="h1_59"><stop offset="0" stop-color="#b72a20"/><stop offset=".334" stop-color="#b82a20"/><stop offset=".384" stop-color="#b92a20"/><stop offset=".409" stop-color="#ba2b20"/><stop offset=".426" stop-color="#bc2b20"/><stop offset=".451" stop-color="#e75833"/><stop offset=".477" stop-color="#fee79a"/><stop offset=".502" stop-color="#fffcba"/><stop offset=".527" stop-color="#fee79a"/><stop offset=".552" stop-color="#e75833"/><stop offset=".577" stop-color="#bc2b20"/><stop offset=".594" stop-color="#ba2b20"/><stop offset=".619" stop-color="#b92a20"/><stop offset=".669" stop-color="#b82a20"/><stop offset="1" stop-color="#b72a20"/></linearGradient><linearGradient id="h1_60"><stop offset="0" stop-color="#bc2b20"/><stop offset=".334" stop-color="#bd2c21"/><stop offset=".384" stop-color="#be2c21"/><stop offset=".409" stop-color="#be2c21"/><stop offset=".426" stop-color="#c32e21"/><stop offset=".451" stop-color="#f3703d"/><stop offset=".477" stop-color="#fff4ae"/><stop offset=".502" stop-color="#f6fccf"/><stop offset=".527" stop-color="#fff4ae"/><stop offset=".552" stop-color="#f3703d"/><stop offset=".577" stop-color="#c32e21"/><stop offset=".594" stop-color="#be2c21"/><stop offset=".619" stop-color="#be2c21"/><stop offset=".669" stop-color="#bd2c21"/><stop offset="1" stop-color="#bc2b20"/></linearGradient><linearGradient id="h1_61"><stop offset="0" stop-color="#b52920"/><stop offset=".334" stop-color="#b62920"/><stop offset=".384" stop-color="#b72a20"/><stop offset=".409" stop-color="#b82a20"/><stop offset=".426" stop-color="#bb2b20"/><stop offset=".451" stop-color="#ec6136"/><stop offset=".477" stop-color="#fff0a9"/><stop offset=".502" stop-color="#f8fccc"/><stop offset=".527" stop-color="#fff0a9"/><stop offset=".552" stop-color="#ec6136"/><stop offset=".577" stop-color="#bb2b20"/><stop offset=".594" stop-color="#b82a20"/><stop offset=".619" stop-color="#b72a20"/><stop offset=".669" stop-color="#b62920"/><stop offset="1" stop-color="#b52920"/></linearGradient><linearGradient id="h1_62"><stop offset="0" stop-color="#bb2b20"/><stop offset=".334" stop-color="#bc2b20"/><stop offset=".384" stop-color="#bd2c21"/><stop offset=".409" stop-color="#bd2c21"/><stop offset=".426" stop-color="#c12d21"/><stop offset=".451" stop-color="#ec6136"/><stop offset=".477" stop-color="#fee99e"/><stop offset=".502" stop-color="#fffdbc"/><stop offset=".527" stop-color="#fee99e"/><stop offset=".552" stop-color="#ec6136"/><stop offset=".577" stop-color="#c12d21"/><stop offset=".594" stop-color="#bd2c21"/><stop offset=".619" stop-color="#bd2c21"/><stop offset=".669" stop-color="#bc2b20"/><stop offset="1" stop-color="#bb2b20"/></linearGradient><linearGradient id="h1_63"><stop offset="0" stop-color="#b62920"/><stop offset=".334" stop-color="#b72a20"/><stop offset=".384" stop-color="#b82a20"/><stop offset=".409" stop-color="#b82a20"/><stop offset=".426" stop-color="#bb2b20"/><stop offset=".451" stop-color="#eb5f35"/><stop offset=".477" stop-color="#fff0a9"/><stop offset=".502" stop-color="#f7fccd"/><stop offset=".527" stop-color="#fff0a9"/><stop offset=".552" stop-color="#eb5f35"/><stop offset=".577" stop-color="#bb2b20"/><stop offset=".594" stop-color="#b82a20"/><stop offset=".619" stop-color="#b82a20"/><stop offset=".669" stop-color="#b72a20"/><stop offset="1" stop-color="#b62920"/></linearGradient><linearGradient id="h1_64"><stop offset="0" stop-color="#b72920"/><stop offset=".334" stop-color="#b72a20"/><stop offset=".384" stop-color="#b82a20"/><stop offset=".409" stop-color="#b92a20"/><stop offset=".426" stop-color="#be2c21"/><stop offset=".451" stop-color="#f16b3b"/><stop offset=".477" stop-color="#feeea5"/><stop offset=".502" stop-color="#fdfec2"/><stop offset=".527" stop-color="#feeea5"/><stop offset=".552" stop-color="#f16b3b"/><stop offset=".577" stop-color="#be2c21"/><stop offset=".594" stop-color="#b92a20"/><stop offset=".619" stop-color="#b82a20"/><stop offset=".669" stop-color="#b72a20"/><stop offset="1" stop-color="#b72920"/></linearGradient><linearGradient id="h1_65"><stop offset="0" stop-color="#b82a20"/><stop offset=".334" stop-color="#b92a20"/><stop offset=".384" stop-color="#ba2b20"/><stop offset=".409" stop-color="#ba2b20"/><stop offset=".426" stop-color="#bf2c21"/><stop offset=".451" stop-color="#f26d3b"/><stop offset=".477" stop-color="#fff4ae"/><stop offset=".502" stop-color="#f6fccf"/><stop offset=".527" stop-color="#fff4ae"/><stop offset=".552" stop-color="#f26d3b"/><stop offset=".577" stop-color="#bf2c21"/><stop offset=".594" stop-color="#ba2b20"/><stop offset=".619" stop-color="#ba2b20"/><stop offset=".669" stop-color="#b92a20"/><stop offset="1" stop-color="#b82a20"/></linearGradient><linearGradient id="h1_66"><stop offset="0" stop-color="#b42820"/><stop offset=".334" stop-color="#b42920"/><stop offset=".384" stop-color="#b52920"/><stop offset=".409" stop-color="#b52920"/><stop offset=".426" stop-color="#b62920"/><stop offset=".451" stop-color="#da3f28"/><stop offset=".477" stop-color="#fee192"/><stop offset=".502" stop-color="#fffcba"/><stop offset=".527" stop-color="#fee192"/><stop offset=".552" stop-color="#da3f28"/><stop offset=".577" stop-color="#b62920"/><stop offset=".594" stop-color="#b52920"/><stop offset=".619" stop-color="#b52920"/><stop offset=".669" stop-color="#b42920"/><stop offset="1" stop-color="#b42820"/></linearGradient><linearGradient id="h1_67"><stop offset="0" stop-color="#b92a20"/><stop offset=".334" stop-color="#ba2a20"/><stop offset=".384" stop-color="#ba2b20"/><stop offset=".409" stop-color="#ba2b20"/><stop offset=".426" stop-color="#bc2b20"/><stop offset=".451" stop-color="#e45330"/><stop offset=".477" stop-color="#fee293"/><stop offset=".502" stop-color="#fff7b3"/><stop offset=".527" stop-color="#fee293"/><stop offset=".552" stop-color="#e45330"/><stop offset=".577" stop-color="#bc2b20"/><stop offset=".594" stop-color="#ba2b20"/><stop offset=".619" stop-color="#ba2b20"/><stop offset=".669" stop-color="#ba2a20"/><stop offset="1" stop-color="#b92a20"/></linearGradient><linearGradient id="h1_68"><stop offset="0" stop-color="#bb2b20"/><stop offset=".334" stop-color="#bc2b20"/><stop offset=".384" stop-color="#bc2b20"/><stop offset=".409" stop-color="#bc2b20"/><stop offset=".426" stop-color="#be2c21"/><stop offset=".451" stop-color="#e95a34"/><stop offset=".477" stop-color="#fff1aa"/><stop offset=".502" stop-color="#f4fbd3"/><stop offset=".527" stop-color="#fff1aa"/><stop offset=".552" stop-color="#e95a34"/><stop offset=".577" stop-color="#be2c21"/><stop offset=".594" stop-color="#bc2b20"/><stop offset=".619" stop-color="#bc2b20"/><stop offset=".669" stop-color="#bc2b20"/><stop offset="1" stop-color="#bb2b20"/></linearGradient><linearGradient id="h1_69"><stop offset="0" stop-color="#b2281f"/><stop offset=".334" stop-color="#b2281f"/><stop offset=".384" stop-color="#b2281f"/><stop offset=".409" stop-color="#b3281f"/><stop offset=".426" stop-color="#b3281f"/><stop offset=".451" stop-color="#d43523"/><stop offset=".477" stop-color="#fed98a"/><stop offset=".502" stop-color="#fff8b5"/><stop offset=".527" stop-color="#fed98a"/><stop offset=".552" stop-color="#d43523"/><stop offset=".577" stop-color="#b3281f"/><stop offset=".594" stop-color="#b3281f"/><stop offset=".619" stop-color="#b2281f"/><stop offset=".669" stop-color="#b2281f"/><stop offset="1" stop-color="#b2281f"/></linearGradient><linearGradient id="h1_70"><stop offset="0" stop-color="#ba2b20"/><stop offset=".334" stop-color="#bb2b20"/><stop offset=".384" stop-color="#bb2b20"/><stop offset=".409" stop-color="#bb2b20"/><stop offset=".426" stop-color="#bc2b20"/><stop offset=".451" stop-color="#e04b2d"/><stop offset=".477" stop-color="#fee395"/><stop offset=".502" stop-color="#fffbba"/><stop offset=".527" stop-color="#fee395"/><stop offset=".552" stop-color="#e04b2d"/><stop offset=".577" stop-color="#bc2b20"/><stop offset=".594" stop-color="#bb2b20"/><stop offset=".619" stop-color="#bb2b20"/><stop offset=".669" stop-color="#bb2b20"/><stop offset="1" stop-color="#ba2b20"/></linearGradient><linearGradient id="h1_71"><stop offset="0" stop-color="#b72a20"/><stop offset=".334" stop-color="#b72a20"/><stop offset=".384" stop-color="#b82a20"/><stop offset=".409" stop-color="#b82a20"/><stop offset=".426" stop-color="#b82a20"/><stop offset=".451" stop-color="#d73925"/><stop offset=".477" stop-color="#fedb8c"/><stop offset=".502" stop-color="#fff9b6"/><stop offset=".527" stop-color="#fedb8c"/><stop offset=".552" stop-color="#d73925"/><stop offset=".577" stop-color="#b82a20"/><stop offset=".594" stop-color="#b82a20"/><stop offset=".619" stop-color="#b82a20"/><stop offset=".669" stop-color="#b72a20"/><stop offset="1" stop-color="#b72a20"/></linearGradient><linearGradient id="h1_72"><stop offset="0" stop-color="#b1271f"/><stop offset=".334" stop-color="#b1271f"/><stop offset=".384" stop-color="#b2281f"/><stop offset=".409" stop-color="#b2281f"/><stop offset=".426" stop-color="#b2281f"/><stop offset=".451" stop-color="#d83c27"/><stop offset=".477" stop-color="#fedc8c"/><stop offset=".502" stop-color="#fff7b3"/><stop offset=".527" stop-color="#fedc8c"/><stop offset=".552" stop-color="#d83c27"/><stop offset=".577" stop-color="#b2281f"/><stop offset=".594" stop-color="#b2281f"/><stop offset=".619" stop-color="#b2281f"/><stop offset=".669" stop-color="#b1271f"/><stop offset="1" stop-color="#b1271f"/></linearGradient><linearGradient id="h1_73"><stop offset="0" stop-color="#b72920"/><stop offset=".334" stop-color="#b72920"/><stop offset=".384" stop-color="#b72920"/><stop offset=".409" stop-color="#b72920"/><stop offset=".426" stop-color="#b92a20"/><stop offset=".451" stop-color="#e45230"/><stop offset=".477" stop-color="#feeba0"/><stop offset=".502" stop-color="#fbfec6"/><stop offset=".527" stop-color="#feeba0"/><stop offset=".552" stop-color="#e45230"/><stop offset=".577" stop-color="#b92a20"/><stop offset=".594" stop-color="#b72920"/><stop offset=".619" stop-color="#b72920"/><stop offset=".669" stop-color="#b72920"/><stop offset="1" stop-color="#b72920"/></linearGradient><linearGradient id="h2_0"><stop offset="0" stop-color="#d73925"/><stop offset=".334" stop-color="#dc4329"/><stop offset=".384" stop-color="#f0693a"/><stop offset=".41" stop-color="#fdbc6e"/><stop offset=".426" stop-color="#fff8b4"/><stop offset=".451" stop-color="#9bcce2"/><stop offset=".477" stop-color="#4471b2"/><stop offset=".502" stop-color="#3b55a4"/><stop offset=".527" stop-color="#4471b2"/><stop offset=".552" stop-color="#9bcce2"/><stop offset=".577" stop-color="#fff8b4"/><stop offset=".594" stop-color="#fdbc6e"/><stop offset=".619" stop-color="#f0693a"/><stop offset=".669" stop-color="#dc4329"/><stop offset="1" stop-color="#d73925"/></linearGradient><linearGradient id="h2_1"><stop offset="0" stop-color="#d73a26"/><stop offset=".334" stop-color="#dc442a"/><stop offset=".384" stop-color="#ef6639"/><stop offset=".41" stop-color="#fdb467"/><stop offset=".426" stop-color="#fff0a8"/><stop offset=".451" stop-color="#b1dceb"/><stop offset=".477" stop-color="#598dc1"/><stop offset=".502" stop-color="#4575b4"/><stop offset=".527" stop-color="#598dc1"/><stop offset=".552" stop-color="#b1dceb"/><stop offset=".577" stop-color="#fff0a8"/><stop offset=".594" stop-color="#fdb467"/><stop offset=".619" stop-color="#ef6639"/><stop offset=".669" stop-color="#dc442a"/><stop offset="1" stop-color="#d73a26"/></linearGradient><linearGradient id="h2_2"><stop offset="0" stop-color="#d43523"/><stop offset=".334" stop-color="#d93e27"/><stop offset=".384" stop-color="#eb5f35"/><stop offset=".41" stop-color="#fdab5f"/><stop offset=".426" stop-color="#feea9f"/><stop offset=".451" stop-color="#bbe1ed"/><stop offset=".477" stop-color="#6197c5"/><stop offset=".502" stop-color="#4d7eb9"/><stop offset=".527" stop-color="#6197c5"/><stop offset=".552" stop-color="#bbe1ed"/><stop offset=".577" stop-color="#feea9f"/><stop offset=".594" stop-color="#fdab5f"/><stop offset=".619" stop-color="#eb5f35"/><stop offset=".669" stop-color="#d93e27"/><stop offset="1" stop-color="#d43523"/></linearGradient><linearGradient id="h2_3"><stop offset="0" stop-color="#d73925"/><stop offset=".334" stop-color="#dc4329"/><stop offset=".384" stop-color="#ed6237"/><stop offset=".41" stop-color="#fdae61"/><stop offset=".426" stop-color="#feeba0"/><stop offset=".451" stop-color="#bae0ed"/><stop offset=".477" stop-color="#6196c5"/><stop offset=".502" stop-color="#4c7eb9"/><stop offset=".527" stop-color="#6196c5"/><stop offset=".552" stop-color="#bae0ed"/><stop offset=".577" stop-color="#feeba0"/><stop offset=".594" stop-color="#fdae61"/><stop offset=".619" stop-color="#ed6237"/><stop offset=".669" stop-color="#dc4329"/><stop offset="1" stop-color="#d73925"/></linearGradient><linearGradient id="h2_4"><stop offset="0" stop-color="#d53724"/><stop offset=".334" stop-color="#da4028"/><stop offset=".384" stop-color="#ec6136"/><stop offset=".41" stop-color="#fdae61"/><stop offset=".426" stop-color="#feeca3"/><stop offset=".451" stop-color="#b4deec"/><stop offset=".477" stop-color="#5a8ec1"/><stop offset=".502" stop-color="#4575b4"/><stop offset=".527" stop-color="#5a8ec1"/><stop offset=".552" stop-color="#b4deec"/><stop offset=".577" stop-color="#feeca3"/><stop offset=".594" stop-color="#fdae61"/><stop offset=".619" stop-color="#ec6136"/><stop offset=".669" stop-color="#da4028"/><stop offset="1" stop-color="#d53724"/></linearGradient><linearGradient id="h2_5"><stop offset="0" stop-color="#d83b26"/><stop offset=".334" stop-color="#dc442a"/><stop offset=".384" stop-color="#e85a33"/><stop offset=".41" stop-color="#f99754"/><stop offset=".426" stop-color="#fedb8c"/><stop offset=".451" stop-color="#ceeaf3"/><stop offset=".477" stop-color="#6ca3cc"/><stop offset=".502" stop-color="#5588be"/><stop offset=".527" stop-color="#6ca3cc"/><stop offset=".552" stop-color="#ceeaf3"/><stop offset=".577" stop-color="#fedb8c"/><stop offset=".594" stop-color="#f99754"/><stop offset=".619" stop-color="#e85a33"/><stop offset=".669" stop-color="#dc442a"/><stop offset="1" stop-color="#d83b26"/></linearGradient><linearGradient id="h2_6"><stop offset="0" stop-color="#d53624"/><stop offset=".334" stop-color="#da3e27"/><stop offset=".384" stop-color="#e85a34"/><stop offset=".41" stop-color="#fba15a"/><stop offset=".426" stop-color="#fee497"/><stop offset=".451" stop-color="#c1e4ef"/><stop offset=".477" stop-color="#6398c6"/><stop offset=".502" stop-color="#4d7fb9"/><stop offset=".527" stop-color="#6398c6"/><stop offset=".552" stop-color="#c1e4ef"/><stop offset=".577" stop-color="#fee497"/><stop offset=".594" stop-color="#fba15a"/><stop offset=".619" stop-color="#e85a34"/><stop offset=".669" stop-color="#da3e27"/><stop offset="1" stop-color="#d53624"/></linearGradient><linearGradient id="h2_7"><stop offset="0" stop-color="#d53624"/><stop offset=".334" stop-color="#da3e27"/><stop offset=".384" stop-color="#e55431"/><stop offset=".41" stop-color="#f89050"/><stop offset=".426" stop-color="#fed787"/><stop offset=".451" stop-color="#d0ebf3"/><stop offset=".477" stop-color="#6aa1cb"/><stop offset=".502" stop-color="#5386bd"/><stop offset=".527" stop-color="#6aa1cb"/><stop offset=".552" stop-color="#d0ebf3"/><stop offset=".577" stop-color="#fed787"/><stop offset=".594" stop-color="#f89050"/><stop offset=".619" stop-color="#e55431"/><stop offset=".669" stop-color="#da3e27"/><stop offset="1" stop-color="#d53624"/></linearGradient><linearGradient id="h2_8"><stop offset="0" stop-color="#d53624"/><stop offset=".334" stop-color="#da3f28"/><stop offset=".384" stop-color="#e75732"/><stop offset=".41" stop-color="#fa9854"/><stop offset=".426" stop-color="#fedc8d"/><stop offset=".451" stop-color="#d1ecf4"/><stop offset=".477" stop-color="#72abd0"/><stop offset=".502" stop-color="#5d92c3"/><stop offset=".527" stop-color="#72abd0"/><stop offset=".552" stop-color="#d1ecf4"/><stop offset=".577" stop-color="#fedc8d"/><stop offset=".594" stop-color="#fa9854"/><stop offset=".619" stop-color="#e75732"/><stop offset=".669" stop-color="#da3f28"/><stop offset="1" stop-color="#d53624"/></linearGradient><linearGradient id="h2_9"><stop offset="0" stop-color="#d03323"/><stop offset=".334" stop-color="#d63724"/><stop offset=".384" stop-color="#e04b2d"/><stop offset=".41" stop-color="#f78549"/><stop offset=".426" stop-color="#fecd7f"/><stop offset=".451" stop-color="#d7eff5"/><stop offset=".477" stop-color="#6da5cd"/><stop offset=".502" stop-color="#5588be"/><stop offset=".527" stop-color="#6da5cd"/><stop offset=".552" stop-color="#d7eff5"/><stop offset=".577" stop-color="#fecd7f"/><stop offset=".594" stop-color="#f78549"/><stop offset=".619" stop-color="#e04b2d"/><stop offset=".669" stop-color="#d63724"/><stop offset="1" stop-color="#d03323"/></linearGradient><linearGradient id="h2_10"><stop offset="0" stop-color="#d33423"/><stop offset=".334" stop-color="#d83b26"/><stop offset=".384" stop-color="#e45330"/><stop offset=".41" stop-color="#f99251"/><stop offset=".426" stop-color="#fed889"/><stop offset=".451" stop-color="#d3edf4"/><stop offset=".477" stop-color="#72aad0"/><stop offset=".502" stop-color="#5c90c2"/><stop offset=".527" stop-color="#72aad0"/><stop offset=".552" stop-color="#d3edf4"/><stop offset=".577" stop-color="#fed889"/><stop offset=".594" stop-color="#f99251"/><stop offset=".619" stop-color="#e45330"/><stop offset=".669" stop-color="#d83b26"/><stop offset="1" stop-color="#d33423"/></linearGradient><linearGradient id="h2_11"><stop offset="0" stop-color="#d23323"/><stop offset=".334" stop-color="#d73925"/><stop offset=".384" stop-color="#e14d2e"/><stop offset=".41" stop-color="#f7874b"/><stop offset=".426" stop-color="#fed081"/><stop offset=".451" stop-color="#d4edf5"/><stop offset=".477" stop-color="#6ba2cb"/><stop offset=".502" stop-color="#5385bc"/><stop offset=".527" stop-color="#6ba2cb"/><stop offset=".552" stop-color="#d4edf5"/><stop offset=".577" stop-color="#fed081"/><stop offset=".594" stop-color="#f7874b"/><stop offset=".619" stop-color="#e14d2e"/><stop offset=".669" stop-color="#d73925"/><stop offset="1" stop-color="#d23323"/></linearGradient><linearGradient id="h2_12"><stop offset="0" stop-color="#cf3222"/><stop offset=".334" stop-color="#d53624"/><stop offset=".384" stop-color="#de462b"/><stop offset=".41" stop-color="#f57943"/><stop offset=".426" stop-color="#fdc375"/><stop offset=".451" stop-color="#ddf2f7"/><stop offset=".477" stop-color="#6ca3cc"/><stop offset=".502" stop-color="#5184bc"/><stop offset=".527" stop-color="#6ca3cc"/><stop offset=".552" stop-color="#ddf2f7"/><stop offset=".577" stop-color="#fdc375"/><stop offset=".594" stop-color="#f57943"/><stop offset=".619" stop-color="#de462b"/><stop offset=".669" stop-color="#d53624"/><stop offset="1" stop-color="#cf3222"/></linearGradient><linearGradient id="h2_13"><stop offset="0" stop-color="#d13323"/><stop offset=".334" stop-color="#d63825"/><stop offset=".384" stop-color="#e14c2d"/><stop offset=".41" stop-color="#f7854a"/><stop offset=".426" stop-color="#fece7f"/><stop offset=".451" stop-color="#d9f0f6"/><stop offset=".477" stop-color="#71aacf"/><stop offset=".502" stop-color="#598dc1"/><stop offset=".527" stop-color="#71aacf"/><stop offset=".552" stop-color="#d9f0f6"/><stop offset=".577" stop-color="#fece7f"/><stop offset=".594" stop-color="#f7854a"/><stop offset=".619" stop-color="#e14c2d"/><stop offset=".669" stop-color="#d63825"/><stop offset="1" stop-color="#d13323"/></linearGradient><linearGradient id="h2_14"><stop offset="0" stop-color="#d23323"/><stop offset=".334" stop-color="#d73a25"/><stop offset=".384" stop-color="#e04a2d"/><stop offset=".41" stop-color="#f67f46"/><stop offset=".426" stop-color="#fdc678"/><stop offset=".451" stop-color="#dff3f8"/><stop offset=".477" stop-color="#73abd0"/><stop offset=".502" stop-color="#598dc1"/><stop offset=".527" stop-color="#73abd0"/><stop offset=".552" stop-color="#dff3f8"/><stop offset=".577" stop-color="#fdc678"/><stop offset=".594" stop-color="#f67f46"/><stop offset=".619" stop-color="#e04a2d"/><stop offset=".669" stop-color="#d73a25"/><stop offset="1" stop-color="#d23323"/></linearGradient><linearGradient id="h2_15"><stop offset="0" stop-color="#d23323"/><stop offset=".334" stop-color="#d63825"/><stop offset=".384" stop-color="#e14d2e"/><stop offset=".41" stop-color="#f7894b"/><stop offset=".426" stop-color="#fed282"/><stop offset=".451" stop-color="#d2ecf4"/><stop offset=".477" stop-color="#6aa1cb"/><stop offset=".502" stop-color="#5284bc"/><stop offset=".527" stop-color="#6aa1cb"/><stop offset=".552" stop-color="#d2ecf4"/><stop offset=".577" stop-color="#fed282"/><stop offset=".594" stop-color="#f7894b"/><stop offset=".619" stop-color="#e14d2e"/><stop offset=".669" stop-color="#d63825"/><stop offset="1" stop-color="#d23323"/></linearGradient><linearGradient id="h2_16"><stop offset="0" stop-color="#cf3222"/><stop offset=".334" stop-color="#d53524"/><stop offset=".384" stop-color="#e04a2c"/><stop offset=".41" stop-color="#f68448"/><stop offset=".426" stop-color="#fecc7d"/><stop offset=".451" stop-color="#def2f7"/><stop offset=".477" stop-color="#78b0d3"/><stop offset=".502" stop-color="#6196c5"/><stop offset=".527" stop-color="#78b0d3"/><stop offset=".552" stop-color="#def2f7"/><stop offset=".577" stop-color="#fecc7d"/><stop offset=".594" stop-color="#f68448"/><stop offset=".619" stop-color="#e04a2c"/><stop offset=".669" stop-color="#d53524"/><stop offset="1" stop-color="#cf3222"/></linearGradient><linearGradient id="h2_17"><stop offset="0" stop-color="#d13323"/><stop offset=".334" stop-color="#d63724"/><stop offset=".384" stop-color="#e04a2c"/><stop offset=".41" stop-color="#f68147"/><stop offset=".426" stop-color="#feca7b"/><stop offset=".451" stop-color="#ddf1f7"/><stop offset=".477" stop-color="#73acd1"/><stop offset=".502" stop-color="#5b8fc2"/><stop offset=".527" stop-color="#73acd1"/><stop offset=".552" stop-color="#ddf1f7"/><stop offset=".577" stop-color="#feca7b"/><stop offset=".594" stop-color="#f68147"/><stop offset=".619" stop-color="#e04a2c"/><stop offset=".669" stop-color="#d63724"/><stop offset="1" stop-color="#d13323"/></linearGradient><linearGradient id="h2_18"><stop offset="0" stop-color="#cf3223"/><stop offset=".334" stop-color="#d53524"/><stop offset=".384" stop-color="#dd452b"/><stop offset=".41" stop-color="#f47741"/><stop offset=".426" stop-color="#fdbf71"/><stop offset=".451" stop-color="#e5f5ee"/><stop offset=".477" stop-color="#7eb5d5"/><stop offset=".502" stop-color="#649ac7"/><stop offset=".527" stop-color="#7eb5d5"/><stop offset=".552" stop-color="#e5f5ee"/><stop offset=".577" stop-color="#fdbf71"/><stop offset=".594" stop-color="#f47741"/><stop offset=".619" stop-color="#dd452b"/><stop offset=".669" stop-color="#d53524"/><stop offset="1" stop-color="#cf3223"/></linearGradient><linearGradient id="h2_19"><stop offset="0" stop-color="#ce3222"/><stop offset=".334" stop-color="#d43423"/><stop offset=".384" stop-color="#dc4229"/><stop offset=".41" stop-color="#f4723e"/><stop offset=".426" stop-color="#fdbc6e"/><stop offset=".451" stop-color="#e3f4f2"/><stop offset=".477" stop-color="#72abd0"/><stop offset=".502" stop-color="#578bbf"/><stop offset=".527" stop-color="#72abd0"/><stop offset=".552" stop-color="#e3f4f2"/><stop offset=".577" stop-color="#fdbc6e"/><stop offset=".594" stop-color="#f4723e"/><stop offset=".619" stop-color="#dc4229"/><stop offset=".669" stop-color="#d43423"/><stop offset="1" stop-color="#ce3222"/></linearGradient><linearGradient id="h2_20"><stop offset="0" stop-color="#cc3122"/><stop offset=".334" stop-color="#d23323"/><stop offset=".384" stop-color="#d93e27"/><stop offset=".41" stop-color="#f16b3b"/><stop offset=".426" stop-color="#fdb467"/><stop offset=".451" stop-color="#e7f6eb"/><stop offset=".477" stop-color="#74add1"/><stop offset=".502" stop-color="#588cc0"/><stop offset=".527" stop-color="#74add1"/><stop offset=".552" stop-color="#e7f6eb"/><stop offset=".577" stop-color="#fdb467"/><stop offset=".594" stop-color="#f16b3b"/><stop offset=".619" stop-color="#d93e27"/><stop offset=".669" stop-color="#d23323"/><stop offset="1" stop-color="#cc3122"/></linearGradient><linearGradient id="h2_21"><stop offset="0" stop-color="#ca3022"/><stop offset=".334" stop-color="#cf3222"/><stop offset=".384" stop-color="#d93e27"/><stop offset=".41" stop-color="#f3703d"/><stop offset=".426" stop-color="#fdbb6e"/><stop offset=".451" stop-color="#e4f5f0"/><stop offset=".477" stop-color="#77afd2"/><stop offset=".502" stop-color="#5c91c2"/><stop offset=".527" stop-color="#77afd2"/><stop offset=".552" stop-color="#e4f5f0"/><stop offset=".577" stop-color="#fdbb6e"/><stop offset=".594" stop-color="#f3703d"/><stop offset=".619" stop-color="#d93e27"/><stop offset=".669" stop-color="#cf3222"/><stop offset="1" stop-color="#ca3022"/></linearGradient><linearGradient id="h2_22"><stop offset="0" stop-color="#d03323"/><stop offset=".334" stop-color="#d53524"/><stop offset=".384" stop-color="#dc4329"/><stop offset=".41" stop-color="#f36f3d"/><stop offset=".426" stop-color="#fdb568"/><stop offset=".451" stop-color="#edf8df"/><stop offset=".477" stop-color="#8cc0db"/><stop offset=".502" stop-color="#6fa7ce"/><stop offset=".527" stop-color="#8cc0db"/><stop offset=".552" stop-color="#edf8df"/><stop offset=".577" stop-color="#fdb568"/><stop offset=".594" stop-color="#f36f3d"/><stop offset=".619" stop-color="#dc4329"/><stop offset=".669" stop-color="#d53524"/><stop offset="1" stop-color="#d03323"/></linearGradient><linearGradient id="h2_23"><stop offset="0" stop-color="#ce3222"/><stop offset=".334" stop-color="#d33323"/><stop offset=".384" stop-color="#d83b26"/><stop offset=".41" stop-color="#e95c34"/><stop offset=".426" stop-color="#fa9b56"/><stop offset=".451" stop-color="#f7fcce"/><stop offset=".477" stop-color="#8bc0db"/><stop offset=".502" stop-color="#6aa1cb"/><stop offset=".527" stop-color="#8bc0db"/><stop offset=".552" stop-color="#f7fcce"/><stop offset=".577" stop-color="#fa9b56"/><stop offset=".594" stop-color="#e95c34"/><stop offset=".619" stop-color="#d83b26"/><stop offset=".669" stop-color="#d33323"/><stop offset="1" stop-color="#ce3222"/></linearGradient><linearGradient id="h2_24"><stop offset="0" stop-color="#cb3122"/><stop offset=".334" stop-color="#d03223"/><stop offset=".384" stop-color="#d63724"/><stop offset=".41" stop-color="#e75732"/><stop offset=".426" stop-color="#f99754"/><stop offset=".451" stop-color="#f6fbd0"/><stop offset=".477" stop-color="#80b7d6"/><stop offset=".502" stop-color="#5e92c3"/><stop offset=".527" stop-color="#80b7d6"/><stop offset=".552" stop-color="#f6fbd0"/><stop offset=".577" stop-color="#f99754"/><stop offset=".594" stop-color="#e75732"/><stop offset=".619" stop-color="#d63724"/><stop offset=".669" stop-color="#d03223"/><stop offset="1" stop-color="#cb3122"/></linearGradient><linearGradient id="h2_25"><stop offset="0" stop-color="#ca3022"/><stop offset=".334" stop-color="#cf3222"/><stop offset=".384" stop-color="#d53524"/><stop offset=".41" stop-color="#e55331"/><stop offset=".426" stop-color="#f89050"/><stop offset=".451" stop-color="#fbfdc7"/><stop offset=".477" stop-color="#8bbfdb"/><stop offset=".502" stop-color="#679dc9"/><stop offset=".527" stop-color="#8bbfdb"/><stop offset=".552" stop-color="#fbfdc7"/><stop offset=".577" stop-color="#f89050"/><stop offset=".594" stop-color="#e55331"/><stop offset=".619" stop-color="#d53524"/><stop offset=".669" stop-color="#cf3222"/><stop offset="1" stop-color="#ca3022"/></linearGradient><linearGradient id="h2_26"><stop offset="0" stop-color="#c83022"/><stop offset=".334" stop-color="#cc3122"/><stop offset=".384" stop-color="#d33423"/><stop offset=".41" stop-color="#e45330"/><stop offset=".426" stop-color="#f88f4f"/><stop offset=".451" stop-color="#ffffbf"/><stop offset=".477" stop-color="#9ccde3"/><stop offset=".502" stop-color="#79b1d3"/><stop offset=".527" stop-color="#9ccde3"/><stop offset=".552" stop-color="#ffffbf"/><stop offset=".577" stop-color="#f88f4f"/><stop offset=".594" stop-color="#e45330"/><stop offset=".619" stop-color="#d33423"/><stop offset=".669" stop-color="#cc3122"/><stop offset="1" stop-color="#c83022"/></linearGradient><linearGradient id="h2_27"><stop offset="0" stop-color="#c62f22"/><stop offset=".334" stop-color="#cb3122"/><stop offset=".384" stop-color="#d13323"/><stop offset=".41" stop-color="#e14d2e"/><stop offset=".426" stop-color="#f7864a"/><stop offset=".451" stop-color="#fffab8"/><stop offset=".477" stop-color="#a2d2e5"/><stop offset=".502" stop-color="#7eb5d5"/><stop offset=".527" stop-color="#a2d2e5"/><stop offset=".552" stop-color="#fffab8"/><stop offset=".577" stop-color="#f7864a"/><stop offset=".594" stop-color="#e14d2e"/><stop offset=".619" stop-color="#d13323"/><stop offset=".669" stop-color="#cb3122"/><stop offset="1" stop-color="#c62f22"/></linearGradient><linearGradient id="h2_28"><stop offset="0" stop-color="#c83022"/><stop offset=".334" stop-color="#cd3122"/><stop offset=".384" stop-color="#d23323"/><stop offset=".41" stop-color="#df492c"/><stop offset=".426" stop-color="#f57c44"/><stop offset=".451" stop-color="#fff6b1"/><stop offset=".477" stop-color="#a2d2e5"/><stop offset=".502" stop-color="#7bb2d4"/><stop offset=".527" stop-color="#a2d2e5"/><stop offset=".552" stop-color="#fff6b1"/><stop offset=".577" stop-color="#f57c44"/><stop offset=".594" stop-color="#df492c"/><stop offset=".619" stop-color="#d23323"/><stop offset=".669" stop-color="#cd3122"/><stop offset="1" stop-color="#c83022"/></linearGradient><linearGradient id="h2_29"><stop offset="0" stop-color="#c83022"/><stop offset=".334" stop-color="#cc3122"/><stop offset=".384" stop-color="#d33423"/><stop offset=".41" stop-color="#e45330"/><stop offset=".426" stop-color="#f88f4f"/><stop offset=".451" stop-color="#feffc1"/><stop offset=".477" stop-color="#99cbe1"/><stop offset=".502" stop-color="#76aed2"/><stop offset=".527" stop-color="#99cbe1"/><stop offset=".552" stop-color="#feffc1"/><stop offset=".577" stop-color="#f88f4f"/><stop offset=".594" stop-color="#e45330"/><stop offset=".619" stop-color="#d33423"/><stop offset=".669" stop-color="#cc3122"/><stop offset="1" stop-color="#c83022"/></linearGradient><linearGradient id="h2_30"><stop offset="0" stop-color="#c62f22"/><stop offset=".334" stop-color="#ca3122"/><stop offset=".384" stop-color="#cf3222"/><stop offset=".41" stop-color="#dc442a"/><stop offset=".426" stop-color="#f47440"/><stop offset=".451" stop-color="#fff2ac"/><stop offset=".477" stop-color="#a4d3e6"/><stop offset=".502" stop-color="#7bb3d4"/><stop offset=".527" stop-color="#a4d3e6"/><stop offset=".552" stop-color="#fff2ac"/><stop offset=".577" stop-color="#f47440"/><stop offset=".594" stop-color="#dc442a"/><stop offset=".619" stop-color="#cf3222"/><stop offset=".669" stop-color="#ca3122"/><stop offset="1" stop-color="#c62f22"/></linearGradient><linearGradient id="h2_31"><stop offset="0" stop-color="#c72f22"/><stop offset=".334" stop-color="#cc3122"/><stop offset=".384" stop-color="#d03223"/><stop offset=".41" stop-color="#dd442a"/><stop offset=".426" stop-color="#f47641"/><stop offset=".451" stop-color="#fff6b1"/><stop offset=".477" stop-color="#95c8e0"/><stop offset=".502" stop-color="#6ca3cc"/><stop offset=".527" stop-color="#95c8e0"/><stop offset=".552" stop-color="#fff6b1"/><stop offset=".577" stop-color="#f47641"/><stop offset=".594" stop-color="#dd442a"/><stop offset=".619" stop-color="#d03223"/><stop offset=".669" stop-color="#cc3122"/><stop offset="1" stop-color="#c72f22"/></linearGradient><linearGradient id="h2_32"><stop offset="0" stop-color="#c72f22"/><stop offset=".334" stop-color="#cb3122"/><stop offset=".384" stop-color="#d13323"/><stop offset=".41" stop-color="#e24f2e"/><stop offset=".426" stop-color="#f88b4d"/><stop offset=".451" stop-color="#fdfec3"/><stop offset=".477" stop-color="#8fc3dd"/><stop offset=".502" stop-color="#6ba2cb"/><stop offset=".527" stop-color="#8fc3dd"/><stop offset=".552" stop-color="#fdfec3"/><stop offset=".577" stop-color="#f88b4d"/><stop offset=".594" stop-color="#e24f2e"/><stop offset=".619" stop-color="#d13323"/><stop offset=".669" stop-color="#cb3122"/><stop offset="1" stop-color="#c72f22"/></linearGradient><linearGradient id="h2_33"><stop offset="0" stop-color="#c42e21"/><stop offset=".334" stop-color="#c83022"/><stop offset=".384" stop-color="#cd3122"/><stop offset=".41" stop-color="#dd452a"/><stop offset=".426" stop-color="#f57c44"/><stop offset=".451" stop-color="#fffab7"/><stop offset=".477" stop-color="#95c7df"/><stop offset=".502" stop-color="#6da5cd"/><stop offset=".527" stop-color="#95c7df"/><stop offset=".552" stop-color="#fffab7"/><stop offset=".577" stop-color="#f57c44"/><stop offset=".594" stop-color="#dd452a"/><stop offset=".619" stop-color="#cd3122"/><stop offset=".669" stop-color="#c83022"/><stop offset="1" stop-color="#c42e21"/></linearGradient><linearGradient id="h2_34"><stop offset="0" stop-color="#c93022"/><stop offset=".334" stop-color="#cd3122"/><stop offset=".384" stop-color="#d03323"/><stop offset=".41" stop-color="#da4028"/><stop offset=".426" stop-color="#f16a3a"/><stop offset=".451" stop-color="#feea9f"/><stop offset=".477" stop-color="#acdae9"/><stop offset=".502" stop-color="#80b7d6"/><stop offset=".527" stop-color="#acdae9"/><stop offset=".552" stop-color="#feea9f"/><stop offset=".577" stop-color="#f16a3a"/><stop offset=".594" stop-color="#da4028"/><stop offset=".619" stop-color="#d03323"/><stop offset=".669" stop-color="#cd3122"/><stop offset="1" stop-color="#c93022"/></linearGradient><linearGradient id="h2_35"><stop offset="0" stop-color="#ca3022"/><stop offset=".334" stop-color="#ce3222"/><stop offset=".384" stop-color="#d33423"/><stop offset=".41" stop-color="#e14c2d"/><stop offset=".426" stop-color="#f68247"/><stop offset=".451" stop-color="#fff9b6"/><stop offset=".477" stop-color="#9ccde3"/><stop offset=".502" stop-color="#76aed2"/><stop offset=".527" stop-color="#9ccde3"/><stop offset=".552" stop-color="#fff9b6"/><stop offset=".577" stop-color="#f68247"/><stop offset=".594" stop-color="#e14c2d"/><stop offset=".619" stop-color="#d33423"/><stop offset=".669" stop-color="#ce3222"/><stop offset="1" stop-color="#ca3022"/></linearGradient><linearGradient id="h2_36"><stop offset="0" stop-color="#c02d21"/><stop offset=".334" stop-color="#c42e21"/><stop offset=".384" stop-color="#c83022"/><stop offset=".41" stop-color="#d63825"/><stop offset=".426" stop-color="#ef6739"/><stop offset=".451" stop-color="#feeea6"/><stop offset=".477" stop-color="#9ecfe3"/><stop offset=".502" stop-color="#71a9cf"/><stop offset=".527" stop-color="#9ecfe3"/><stop offset=".552" stop-color="#feeea6"/><stop offset=".577" stop-color="#ef6739"/><stop offset=".594" stop-color="#d63825"/><stop offset=".619" stop-color="#c83022"/><stop offset=".669" stop-color="#c42e21"/><stop offset="1" stop-color="#c02d21"/></linearGradient><linearGradient id="h2_37"><stop offset="0" stop-color="#c62f22"/><stop offset=".334" stop-color="#ca3022"/><stop offset=".384" stop-color="#cd3122"/><stop offset=".41" stop-color="#d73925"/><stop offset=".426" stop-color="#eb6036"/><stop offset=".451" stop-color="#fee597"/><stop offset=".477" stop-color="#afdbea"/><stop offset=".502" stop-color="#80b7d6"/><stop offset=".527" stop-color="#afdbea"/><stop offset=".552" stop-color="#fee597"/><stop offset=".577" stop-color="#eb6036"/><stop offset=".594" stop-color="#d73925"/><stop offset=".619" stop-color="#cd3122"/><stop offset=".669" stop-color="#ca3022"/><stop offset="1" stop-color="#c62f22"/></linearGradient><linearGradient id="h2_38"><stop offset="0" stop-color="#c62f22"/><stop offset=".334" stop-color="#ca3022"/><stop offset=".384" stop-color="#ce3222"/><stop offset=".41" stop-color="#dd442a"/><stop offset=".426" stop-color="#f57842"/><stop offset=".451" stop-color="#fff6b1"/><stop offset=".477" stop-color="#9dcde3"/><stop offset=".502" stop-color="#74add1"/><stop offset=".527" stop-color="#9dcde3"/><stop offset=".552" stop-color="#fff6b1"/><stop offset=".577" stop-color="#f57842"/><stop offset=".594" stop-color="#dd442a"/><stop offset=".619" stop-color="#ce3222"/><stop offset=".669" stop-color="#ca3022"/><stop offset="1" stop-color="#c62f22"/></linearGradient><linearGradient id="h2_39"><stop offset="0" stop-color="#c32e21"/><stop offset=".334" stop-color="#c72f22"/><stop offset=".384" stop-color="#ca3022"/><stop offset=".41" stop-color="#d83b26"/><stop offset=".426" stop-color="#f0693a"/><stop offset=".451" stop-color="#feefa6"/><stop offset=".477" stop-color="#9ecee3"/><stop offset=".502" stop-color="#71a9cf"/><stop offset=".527" stop-color="#9ecee3"/><stop offset=".552" stop-color="#feefa6"/><stop offset=".577" stop-color="#f0693a"/><stop offset=".594" stop-color="#d83b26"/><stop offset=".619" stop-color="#ca3022"/><stop offset=".669" stop-color="#c72f22"/><stop offset="1" stop-color="#c32e21"/></linearGradient><linearGradient id="h2_40"><stop offset="0" stop-color="#c62f21"/><stop offset=".334" stop-color="#c93022"/><stop offset=".384" stop-color="#cc3122"/><stop offset=".41" stop-color="#d63724"/><stop offset=".426" stop-color="#ea5d35"/><stop offset=".451" stop-color="#fee598"/><stop offset=".477" stop-color="#a5d4e7"/><stop offset=".502" stop-color="#73acd0"/><stop offset=".527" stop-color="#a5d4e7"/><stop offset=".552" stop-color="#fee598"/><stop offset=".577" stop-color="#ea5d35"/><stop offset=".594" stop-color="#d63724"/><stop offset=".619" stop-color="#cc3122"/><stop offset=".669" stop-color="#c93022"/><stop offset="1" stop-color="#c62f21"/></linearGradient><linearGradient id="h2_41"><stop offset="0" stop-color="#be2c21"/><stop offset=".334" stop-color="#c22d21"/><stop offset=".384" stop-color="#c52f21"/><stop offset=".41" stop-color="#d53524"/><stop offset=".426" stop-color="#ee6438"/><stop offset=".451" stop-color="#feeba0"/><stop offset=".477" stop-color="#acd9e9"/><stop offset=".502" stop-color="#81b7d7"/><stop offset=".527" stop-color="#acd9e9"/><stop offset=".552" stop-color="#feeba0"/><stop offset=".577" stop-color="#ee6438"/><stop offset=".594" stop-color="#d53524"/><stop offset=".619" stop-color="#c52f21"/><stop offset=".669" stop-color="#c22d21"/><stop offset="1" stop-color="#be2c21"/></linearGradient><linearGradient id="h2_42"><stop offset="0" stop-color="#bf2c21"/><stop offset=".334" stop-color="#c22d21"/><stop offset=".384" stop-color="#c52f21"/><stop offset=".41" stop-color="#d43523"/><stop offset=".426" stop-color="#ec6137"/><stop offset=".451" stop-color="#fee598"/><stop offset=".477" stop-color="#bce1ee"/><stop offset=".502" stop-color="#94c6df"/><stop offset=".527" stop-color="#bce1ee"/><stop offset=".552" stop-color="#fee598"/><stop offset=".577" stop-color="#ec6137"/><stop offset=".594" stop-color="#d43523"/><stop offset=".619" stop-color="#c52f21"/><stop offset=".669" stop-color="#c22d21"/><stop offset="1" stop-color="#bf2c21"/></linearGradient><linearGradient id="h2_43"><stop offset="0" stop-color="#c22d21"/><stop offset=".334" stop-color="#c52e21"/><stop offset=".384" stop-color="#c72f22"/><stop offset=".41" stop-color="#d33323"/><stop offset=".426" stop-color="#e85933"/><stop offset=".451" stop-color="#fee191"/><stop offset=".477" stop-color="#b7dfec"/><stop offset=".502" stop-color="#89beda"/><stop offset=".527" stop-color="#b7dfec"/><stop offset=".552" stop-color="#fee191"/><stop offset=".577" stop-color="#e85933"/><stop offset=".594" stop-color="#d33323"/><stop offset=".619" stop-color="#c72f22"/><stop offset=".669" stop-color="#c52e21"/><stop offset="1" stop-color="#c22d21"/></linearGradient><linearGradient id="h2_44"><stop offset="0" stop-color="#c02d21"/><stop offset=".334" stop-color="#c32e21"/><stop offset=".384" stop-color="#c62f21"/><stop offset=".41" stop-color="#d43523"/><stop offset=".426" stop-color="#ec6237"/><stop offset=".451" stop-color="#fee99e"/><stop offset=".477" stop-color="#abd9e9"/><stop offset=".502" stop-color="#7fb6d6"/><stop offset=".527" stop-color="#abd9e9"/><stop offset=".552" stop-color="#fee99e"/><stop offset=".577" stop-color="#ec6237"/><stop offset=".594" stop-color="#d43523"/><stop offset=".619" stop-color="#c62f21"/><stop offset=".669" stop-color="#c32e21"/><stop offset="1" stop-color="#c02d21"/></linearGradient><linearGradient id="h2_45"><stop offset="0" stop-color="#c02d21"/><stop offset=".334" stop-color="#c32e21"/><stop offset=".384" stop-color="#c62f22"/><stop offset=".41" stop-color="#d33423"/><stop offset=".426" stop-color="#e95b34"/><stop offset=".451" stop-color="#fee090"/><stop offset=".477" stop-color="#c2e4f0"/><stop offset=".502" stop-color="#99cae1"/><stop offset=".527" stop-color="#c2e4f0"/><stop offset=".552" stop-color="#fee090"/><stop offset=".577" stop-color="#e95b34"/><stop offset=".594" stop-color="#d33423"/><stop offset=".619" stop-color="#c62f22"/><stop offset=".669" stop-color="#c32e21"/><stop offset="1" stop-color="#c02d21"/></linearGradient><linearGradient id="h2_46"><stop offset="0" stop-color="#bc2b20"/><stop offset=".334" stop-color="#be2c21"/><stop offset=".384" stop-color="#c02d21"/><stop offset=".41" stop-color="#c62f22"/><stop offset=".426" stop-color="#d93d27"/><stop offset=".451" stop-color="#fdbd6f"/><stop offset=".477" stop-color="#d1ebf4"/><stop offset=".502" stop-color="#9ccde2"/><stop offset=".527" stop-color="#d1ebf4"/><stop offset=".552" stop-color="#fdbd6f"/><stop offset=".577" stop-color="#d93d27"/><stop offset=".594" stop-color="#c62f22"/><stop offset=".619" stop-color="#c02d21"/><stop offset=".669" stop-color="#be2c21"/><stop offset="1" stop-color="#bc2b20"/></linearGradient><linearGradient id="h2_47"><stop offset="0" stop-color="#c02d21"/><stop offset=".334" stop-color="#c32e21"/><stop offset=".384" stop-color="#c52f21"/><stop offset=".41" stop-color="#cb3122"/><stop offset=".426" stop-color="#dd462b"/><stop offset=".451" stop-color="#fec97a"/><stop offset=".477" stop-color="#c2e4f0"/><stop offset=".502" stop-color="#8dc1dc"/><stop offset=".527" stop-color="#c2e4f0"/><stop offset=".552" stop-color="#fec97a"/><stop offset=".577" stop-color="#dd462b"/><stop offset=".594" stop-color="#cb3122"/><stop offset=".619" stop-color="#c52f21"/><stop offset=".669" stop-color="#c32e21"/><stop offset="1" stop-color="#c02d21"/></linearGradient><linearGradient id="h2_48"><stop offset="0" stop-color="#c42e21"/><stop offset=".334" stop-color="#c62f22"/><stop offset=".384" stop-color="#c83022"/><stop offset=".41" stop-color="#d03323"/><stop offset=".426" stop-color="#e24e2e"/><stop offset=".451" stop-color="#fed686"/><stop offset=".477" stop-color="#b5deec"/><stop offset=".502" stop-color="#7fb6d6"/><stop offset=".527" stop-color="#b5deec"/><stop offset=".552" stop-color="#fed686"/><stop offset=".577" stop-color="#e24e2e"/><stop offset=".594" stop-color="#d03323"/><stop offset=".619" stop-color="#c83022"/><stop offset=".669" stop-color="#c62f22"/><stop offset="1" stop-color="#c42e21"/></linearGradient><linearGradient id="h2_49"><stop offset="0" stop-color="#c12d21"/><stop offset=".334" stop-color="#c42e21"/><stop offset=".384" stop-color="#c62f21"/><stop offset=".41" stop-color="#cf3222"/><stop offset=".426" stop-color="#e24e2e"/><stop offset=".451" stop-color="#fecf80"/><stop offset=".477" stop-color="#cdeaf3"/><stop offset=".502" stop-color="#a0d0e4"/><stop offset=".527" stop-color="#cdeaf3"/><stop offset=".552" stop-color="#fecf80"/><stop offset=".577" stop-color="#e24e2e"/><stop offset=".594" stop-color="#cf3222"/><stop offset=".619" stop-color="#c62f21"/><stop offset=".669" stop-color="#c42e21"/><stop offset="1" stop-color="#c12d21"/></linearGradient><linearGradient id="h2_50"><stop offset="0" stop-color="#bf2c21"/><stop offset=".334" stop-color="#c12d21"/><stop offset=".384" stop-color="#c22e21"/><stop offset=".41" stop-color="#c62f22"/><stop offset=".426" stop-color="#d63825"/><stop offset=".451" stop-color="#fdb76a"/><stop offset=".477" stop-color="#c6e6f1"/><stop offset=".502" stop-color="#88bdda"/><stop offset=".527" stop-color="#c6e6f1"/><stop offset=".552" stop-color="#fdb76a"/><stop offset=".577" stop-color="#d63825"/><stop offset=".594" stop-color="#c62f22"/><stop offset=".619" stop-color="#c22e21"/><stop offset=".669" stop-color="#c12d21"/><stop offset="1" stop-color="#bf2c21"/></linearGradient><linearGradient id="h2_51"><stop offset="0" stop-color="#be2c21"/><stop offset=".334" stop-color="#c02d21"/><stop offset=".384" stop-color="#c22d21"/><stop offset=".41" stop-color="#c83022"/><stop offset=".426" stop-color="#dc4329"/><stop offset=".451" stop-color="#fdc677"/><stop offset=".477" stop-color="#cae8f2"/><stop offset=".502" stop-color="#97c9e0"/><stop offset=".527" stop-color="#cae8f2"/><stop offset=".552" stop-color="#fdc677"/><stop offset=".577" stop-color="#dc4329"/><stop offset=".594" stop-color="#c83022"/><stop offset=".619" stop-color="#c22d21"/><stop offset=".669" stop-color="#c02d21"/><stop offset="1" stop-color="#be2c21"/></linearGradient><linearGradient id="h2_52"><stop offset="0" stop-color="#c12d21"/><stop offset=".334" stop-color="#c32e21"/><stop offset=".384" stop-color="#c52f21"/><stop offset=".41" stop-color="#cd3222"/><stop offset=".426" stop-color="#e14c2d"/><stop offset=".451" stop-color="#fece7f"/><stop offset=".477" stop-color="#cce9f2"/><stop offset=".502" stop-color="#9ecfe3"/><stop offset=".527" stop-color="#cce9f2"/><stop offset=".552" stop-color="#fece7f"/><stop offset=".577" stop-color="#e14c2d"/><stop offset=".594" stop-color="#cd3222"/><stop offset=".619" stop-color="#c52f21"/><stop offset=".669" stop-color="#c32e21"/><stop offset="1" stop-color="#c12d21"/></linearGradient><linearGradient id="h2_53"><stop offset="0" stop-color="#be2c21"/><stop offset=".334" stop-color="#c02d21"/><stop offset=".384" stop-color="#c12d21"/><stop offset=".41" stop-color="#ca3022"/><stop offset=".426" stop-color="#df492c"/><stop offset=".451" stop-color="#fecf80"/><stop offset=".477" stop-color="#c6e6f1"/><stop offset=".502" stop-color="#96c8e0"/><stop offset=".527" stop-color="#c6e6f1"/><stop offset=".552" stop-color="#fecf80"/><stop offset=".577" stop-color="#df492c"/><stop offset=".594" stop-color="#ca3022"/><stop offset=".619" stop-color="#c12d21"/><stop offset=".669" stop-color="#c02d21"/><stop offset="1" stop-color="#be2c21"/></linearGradient><linearGradient id="h2_54"><stop offset="0" stop-color="#b92a20"/><stop offset=".334" stop-color="#bb2b20"/><stop offset=".384" stop-color="#bc2b20"/><stop offset=".41" stop-color="#c22d21"/><stop offset=".426" stop-color="#d63825"/><stop offset=".451" stop-color="#fdb567"/><stop offset=".477" stop-color="#e1f4f5"/><stop offset=".502" stop-color="#b1dceb"/><stop offset=".527" stop-color="#e1f4f5"/><stop offset=".552" stop-color="#fdb567"/><stop offset=".577" stop-color="#d63825"/><stop offset=".594" stop-color="#c22d21"/><stop offset=".619" stop-color="#bc2b20"/><stop offset=".669" stop-color="#bb2b20"/><stop offset="1" stop-color="#b92a20"/></linearGradient><linearGradient id="h2_55"><stop offset="0" stop-color="#b92a20"/><stop offset=".334" stop-color="#bb2b20"/><stop offset=".384" stop-color="#bd2c21"/><stop offset=".41" stop-color="#c22d21"/><stop offset=".426" stop-color="#d63724"/><stop offset=".451" stop-color="#fdb96b"/><stop offset=".477" stop-color="#d3ecf4"/><stop offset=".502" stop-color="#9dcde3"/><stop offset=".527" stop-color="#d3ecf4"/><stop offset=".552" stop-color="#fdb96b"/><stop offset=".577" stop-color="#d63724"/><stop offset=".594" stop-color="#c22d21"/><stop offset=".619" stop-color="#bd2c21"/><stop offset=".669" stop-color="#bb2b20"/><stop offset="1" stop-color="#b92a20"/></linearGradient><linearGradient id="h2_56"><stop offset="0" stop-color="#b92a20"/><stop offset=".334" stop-color="#ba2b20"/><stop offset=".384" stop-color="#bb2b20"/><stop offset=".41" stop-color="#be2c21"/><stop offset=".426" stop-color="#c93022"/><stop offset=".451" stop-color="#f89050"/><stop offset=".477" stop-color="#e9f7e7"/><stop offset=".502" stop-color="#b2ddeb"/><stop offset=".527" stop-color="#e9f7e7"/><stop offset=".552" stop-color="#f89050"/><stop offset=".577" stop-color="#c93022"/><stop offset=".594" stop-color="#be2c21"/><stop offset=".619" stop-color="#bb2b20"/><stop offset=".669" stop-color="#ba2b20"/><stop offset="1" stop-color="#b92a20"/></linearGradient><linearGradient id="h2_57"><stop offset="0" stop-color="#bf2c21"/><stop offset=".334" stop-color="#c12d21"/><stop offset=".384" stop-color="#c22d21"/><stop offset=".41" stop-color="#c42e21"/><stop offset=".426" stop-color="#d23323"/><stop offset=".451" stop-color="#fca85d"/><stop offset=".477" stop-color="#d3ecf4"/><stop offset=".502" stop-color="#92c5de"/><stop offset=".527" stop-color="#d3ecf4"/><stop offset=".552" stop-color="#fca85d"/><stop offset=".577" stop-color="#d23323"/><stop offset=".594" stop-color="#c42e21"/><stop offset=".619" stop-color="#c22d21"/><stop offset=".669" stop-color="#c12d21"/><stop offset="1" stop-color="#bf2c21"/></linearGradient><linearGradient id="h2_58"><stop offset="0" stop-color="#bb2b20"/><stop offset=".334" stop-color="#bc2b20"/><stop offset=".384" stop-color="#bd2c21"/><stop offset=".41" stop-color="#c02d21"/><stop offset=".426" stop-color="#cd3122"/><stop offset=".451" stop-color="#fa9955"/><stop offset=".477" stop-color="#e8f6e9"/><stop offset=".502" stop-color="#b4ddec"/><stop offset=".527" stop-color="#e8f6e9"/><stop offset=".552" stop-color="#fa9955"/><stop offset=".577" stop-color="#cd3122"/><stop offset=".594" stop-color="#c02d21"/><stop offset=".619" stop-color="#bd2c21"/><stop offset=".669" stop-color="#bc2b20"/><stop offset="1" stop-color="#bb2b20"/></linearGradient><linearGradient id="h2_59"><stop offset="0" stop-color="#b82a20"/><stop offset=".334" stop-color="#b92a20"/><stop offset=".384" stop-color="#ba2b20"/><stop offset=".41" stop-color="#c02d21"/><stop offset=".426" stop-color="#d43423"/><stop offset=".451" stop-color="#fdb265"/><stop offset=".477" stop-color="#e2f4f5"/><stop offset=".502" stop-color="#b1dceb"/><stop offset=".527" stop-color="#e2f4f5"/><stop offset=".552" stop-color="#fdb265"/><stop offset=".577" stop-color="#d43423"/><stop offset=".594" stop-color="#c02d21"/><stop offset=".619" stop-color="#ba2b20"/><stop offset=".669" stop-color="#b92a20"/><stop offset="1" stop-color="#b82a20"/></linearGradient><linearGradient id="h2_60"><stop offset="0" stop-color="#b62920"/><stop offset=".334" stop-color="#b72a20"/><stop offset=".384" stop-color="#b82a20"/><stop offset=".41" stop-color="#ba2b20"/><stop offset=".426" stop-color="#c52e21"/><stop offset=".451" stop-color="#f7884b"/><stop offset=".477" stop-color="#eaf7e5"/><stop offset=".502" stop-color="#b1dceb"/><stop offset=".527" stop-color="#eaf7e5"/><stop offset=".552" stop-color="#f7884b"/><stop offset=".577" stop-color="#c52e21"/><stop offset=".594" stop-color="#ba2b20"/><stop offset=".619" stop-color="#b82a20"/><stop offset=".669" stop-color="#b72a20"/><stop offset="1" stop-color="#b62920"/></linearGradient><linearGradient id="h2_61"><stop offset="0" stop-color="#b92a20"/><stop offset=".334" stop-color="#bb2b20"/><stop offset=".384" stop-color="#bb2b20"/><stop offset=".41" stop-color="#bd2c21"/><stop offset=".426" stop-color="#c93022"/><stop offset=".451" stop-color="#f99251"/><stop offset=".477" stop-color="#e5f5ef"/><stop offset=".502" stop-color="#a8d7e8"/><stop offset=".527" stop-color="#e5f5ef"/><stop offset=".552" stop-color="#f99251"/><stop offset=".577" stop-color="#c93022"/><stop offset=".594" stop-color="#bd2c21"/><stop offset=".619" stop-color="#bb2b20"/><stop offset=".669" stop-color="#bb2b20"/><stop offset="1" stop-color="#b92a20"/></linearGradient><linearGradient id="h2_62"><stop offset="0" stop-color="#b52920"/><stop offset=".334" stop-color="#b62920"/><stop offset=".384" stop-color="#b72920"/><stop offset=".41" stop-color="#b82a20"/><stop offset=".426" stop-color="#c02d21"/><stop offset=".451" stop-color="#f57a43"/><stop offset=".477" stop-color="#edf8e1"/><stop offset=".502" stop-color="#afdbea"/><stop offset=".527" stop-color="#edf8e1"/><stop offset=".552" stop-color="#f57a43"/><stop offset=".577" stop-color="#c02d21"/><stop offset=".594" stop-color="#b82a20"/><stop offset=".619" stop-color="#b72920"/><stop offset=".669" stop-color="#b62920"/><stop offset="1" stop-color="#b52920"/></linearGradient><linearGradient id="h2_63"><stop offset="0" stop-color="#b42820"/><stop offset=".334" stop-color="#b52920"/><stop offset=".384" stop-color="#b62920"/><stop offset=".41" stop-color="#ba2b20"/><stop offset=".426" stop-color="#cc3122"/><stop offset=".451" stop-color="#fca45b"/><stop offset=".477" stop-color="#e4f5f0"/><stop offset=".502" stop-color="#b2dceb"/><stop offset=".527" stop-color="#e4f5f0"/><stop offset=".552" stop-color="#fca45b"/><stop offset=".577" stop-color="#cc3122"/><stop offset=".594" stop-color="#ba2b20"/><stop offset=".619" stop-color="#b62920"/><stop offset=".669" stop-color="#b52920"/><stop offset="1" stop-color="#b42820"/></linearGradient><linearGradient id="h2_64"><stop offset="0" stop-color="#bb2b20"/><stop offset=".334" stop-color="#bc2b20"/><stop offset=".384" stop-color="#bd2c21"/><stop offset=".41" stop-color="#c12d21"/><stop offset=".426" stop-color="#d13323"/><stop offset=".451" stop-color="#fca75d"/><stop offset=".477" stop-color="#e5f5f0"/><stop offset=".502" stop-color="#b2ddeb"/><stop offset=".527" stop-color="#e5f5f0"/><stop offset=".552" stop-color="#fca75d"/><stop offset=".577" stop-color="#d13323"/><stop offset=".594" stop-color="#c12d21"/><stop offset=".619" stop-color="#bd2c21"/><stop offset=".669" stop-color="#bc2b20"/><stop offset="1" stop-color="#bb2b20"/></linearGradient><linearGradient id="h2_65"><stop offset="0" stop-color="#bc2b20"/><stop offset=".334" stop-color="#bd2c21"/><stop offset=".384" stop-color="#be2c21"/><stop offset=".41" stop-color="#bf2d21"/><stop offset=".426" stop-color="#ca3022"/><stop offset=".451" stop-color="#f99351"/><stop offset=".477" stop-color="#e2f4f4"/><stop offset=".502" stop-color="#a1d1e5"/><stop offset=".527" stop-color="#e2f4f4"/><stop offset=".552" stop-color="#f99351"/><stop offset=".577" stop-color="#ca3022"/><stop offset=".594" stop-color="#bf2d21"/><stop offset=".619" stop-color="#be2c21"/><stop offset=".669" stop-color="#bd2c21"/><stop offset="1" stop-color="#bc2b20"/></linearGradient><linearGradient id="h2_66"><stop offset="0" stop-color="#bb2b20"/><stop offset=".334" stop-color="#bb2b20"/><stop offset=".384" stop-color="#bc2b20"/><stop offset=".41" stop-color="#bd2c21"/><stop offset=".426" stop-color="#c62f21"/><stop offset=".451" stop-color="#f67f46"/><stop offset=".477" stop-color="#f4fbd4"/><stop offset=".502" stop-color="#c3e5f0"/><stop offset=".527" stop-color="#f4fbd4"/><stop offset=".552" stop-color="#f67f46"/><stop offset=".577" stop-color="#c62f21"/><stop offset=".594" stop-color="#bd2c21"/><stop offset=".619" stop-color="#bc2b20"/><stop offset=".669" stop-color="#bb2b20"/><stop offset="1" stop-color="#bb2b20"/></linearGradient><linearGradient id="h2_67"><stop offset="0" stop-color="#b62920"/><stop offset=".334" stop-color="#b72920"/><stop offset=".384" stop-color="#b72a20"/><stop offset=".41" stop-color="#b82a20"/><stop offset=".426" stop-color="#c02d21"/><stop offset=".451" stop-color="#f47741"/><stop offset=".477" stop-color="#f3fad5"/><stop offset=".502" stop-color="#bee3ee"/><stop offset=".527" stop-color="#f3fad5"/><stop offset=".552" stop-color="#f47741"/><stop offset=".577" stop-color="#c02d21"/><stop offset=".594" stop-color="#b82a20"/><stop offset=".619" stop-color="#b72a20"/><stop offset=".669" stop-color="#b72920"/><stop offset="1" stop-color="#b62920"/></linearGradient><linearGradient id="h2_68"><stop offset="0" stop-color="#bb2b20"/><stop offset=".334" stop-color="#bb2b20"/><stop offset=".384" stop-color="#bc2b20"/><stop offset=".41" stop-color="#be2c21"/><stop offset=".426" stop-color="#c93022"/><stop offset=".451" stop-color="#f88d4e"/><stop offset=".477" stop-color="#edf8df"/><stop offset=".502" stop-color="#bbe1ee"/><stop offset=".527" stop-color="#edf8df"/><stop offset=".552" stop-color="#f88d4e"/><stop offset=".577" stop-color="#c93022"/><stop offset=".594" stop-color="#be2c21"/><stop offset=".619" stop-color="#bc2b20"/><stop offset=".669" stop-color="#bb2b20"/><stop offset="1" stop-color="#bb2b20"/></linearGradient><linearGradient id="h2_69"><stop offset="0" stop-color="#b92a20"/><stop offset=".334" stop-color="#b92a20"/><stop offset=".384" stop-color="#ba2a20"/><stop offset=".41" stop-color="#ba2b20"/><stop offset=".426" stop-color="#c02d21"/><stop offset=".451" stop-color="#f26b3b"/><stop offset=".477" stop-color="#f9fdcb"/><stop offset=".502" stop-color="#c4e5f0"/><stop offset=".527" stop-color="#f9fdcb"/><stop offset=".552" stop-color="#f26b3b"/><stop offset=".577" stop-color="#c02d21"/><stop offset=".594" stop-color="#ba2b20"/><stop offset=".619" stop-color="#ba2a20"/><stop offset=".669" stop-color="#b92a20"/><stop offset="1" stop-color="#b92a20"/></linearGradient><linearGradient id="h2_70"><stop offset="0" stop-color="#b72a20"/><stop offset=".334" stop-color="#b82a20"/><stop offset=".384" stop-color="#b82a20"/><stop offset=".41" stop-color="#b92a20"/><stop offset=".426" stop-color="#c32e21"/><stop offset=".451" stop-color="#f68449"/><stop offset=".477" stop-color="#edf8df"/><stop offset=".502" stop-color="#b7dfec"/><stop offset=".527" stop-color="#edf8df"/><stop offset=".552" stop-color="#f68449"/><stop offset=".577" stop-color="#c32e21"/><stop offset=".594" stop-color="#b92a20"/><stop offset=".619" stop-color="#b82a20"/><stop offset=".669" stop-color="#b82a20"/><stop offset="1" stop-color="#b72a20"/></linearGradient><linearGradient id="h2_71"><stop offset="0" stop-color="#b62920"/><stop offset=".334" stop-color="#b72920"/><stop offset=".384" stop-color="#b72920"/><stop offset=".41" stop-color="#b82a20"/><stop offset=".426" stop-color="#c22d21"/><stop offset=".451" stop-color="#f68248"/><stop offset=".477" stop-color="#edf8e1"/><stop offset=".502" stop-color="#b4ddec"/><stop offset=".527" stop-color="#edf8e1"/><stop offset=".552" stop-color="#f68248"/><stop offset=".577" stop-color="#c22d21"/><stop offset=".594" stop-color="#b82a20"/><stop offset=".619" stop-color="#b72920"/><stop offset=".669" stop-color="#b72920"/><stop offset="1" stop-color="#b62920"/></linearGradient><linearGradient id="h2_72"><stop offset="0" stop-color="#b82a20"/><stop offset=".334" stop-color="#b82a20"/><stop offset=".384" stop-color="#b82a20"/><stop offset=".41" stop-color="#b92a20"/><stop offset=".426" stop-color="#bb2b20"/><stop offset=".451" stop-color="#e65632"/><stop offset=".477" stop-color="#fffdbc"/><stop offset=".502" stop-color="#c8e7f1"/><stop offset=".527" stop-color="#fffdbc"/><stop offset=".552" stop-color="#e65632"/><stop offset=".577" stop-color="#bb2b20"/><stop offset=".594" stop-color="#b92a20"/><stop offset=".619" stop-color="#b82a20"/><stop offset=".669" stop-color="#b82a20"/><stop offset="1" stop-color="#b82a20"/></linearGradient><linearGradient id="h2_73"><stop offset="0" stop-color="#b2281f"/><stop offset=".334" stop-color="#b2281f"/><stop offset=".384" stop-color="#b2281f"/><stop offset=".41" stop-color="#b3281f"/><stop offset=".426" stop-color="#bc2b20"/><stop offset=".451" stop-color="#f47641"/><stop offset=".477" stop-color="#f3fad6"/><stop offset=".502" stop-color="#bee2ee"/><stop offset=".527" stop-color="#f3fad6"/><stop offset=".552" stop-color="#f47641"/><stop offset=".577" stop-color="#bc2b20"/><stop offset=".594" stop-color="#b3281f"/><stop offset=".619" stop-color="#b2281f"/><stop offset=".669" stop-color="#b2281f"/><stop offset="1" stop-color="#b2281f"/></linearGradient><linearGradient id="h3_0"><stop offset=".002" stop-color="#da4028"/><stop offset=".335" stop-color="#df492c"/><stop offset=".385" stop-color="#f16a3a"/><stop offset=".41" stop-color="#fdba6c"/><stop offset=".427" stop-color="#fff7b3"/><stop offset=".452" stop-color="#91c4de"/><stop offset=".477" stop-color="#3c59a6"/><stop offset=".502" stop-color="#323997"/><stop offset=".527" stop-color="#3c59a6"/><stop offset=".552" stop-color="#91c4de"/><stop offset=".577" stop-color="#fff7b3"/><stop offset=".593" stop-color="#fdba6c"/><stop offset=".618" stop-color="#f16a3a"/><stop offset=".668" stop-color="#df492c"/><stop offset="1" stop-color="#da4028"/></linearGradient><linearGradient id="h3_1"><stop offset=".002" stop-color="#d53624"/><stop offset=".335" stop-color="#da4028"/><stop offset=".385" stop-color="#e85933"/><stop offset=".41" stop-color="#fa9b56"/><stop offset=".427" stop-color="#fee090"/><stop offset=".452" stop-color="#c7e7f1"/><stop offset=".477" stop-color="#669cc8"/><stop offset=".502" stop-color="#5082bb"/><stop offset=".527" stop-color="#669cc8"/><stop offset=".552" stop-color="#c7e7f1"/><stop offset=".577" stop-color="#fee090"/><stop offset=".593" stop-color="#fa9b56"/><stop offset=".618" stop-color="#e85933"/><stop offset=".668" stop-color="#da4028"/><stop offset="1" stop-color="#d53624"/></linearGradient><linearGradient id="h3_2"><stop offset=".002" stop-color="#d73925"/><stop offset=".335" stop-color="#db4229"/><stop offset=".385" stop-color="#e75833"/><stop offset=".41" stop-color="#f99753"/><stop offset=".427" stop-color="#fedc8c"/><stop offset=".452" stop-color="#cce9f2"/><stop offset=".477" stop-color="#69a0ca"/><stop offset=".502" stop-color="#5285bc"/><stop offset=".527" stop-color="#69a0ca"/><stop offset=".552" stop-color="#cce9f2"/><stop offset=".577" stop-color="#fedc8c"/><stop offset=".593" stop-color="#f99753"/><stop offset=".618" stop-color="#e75833"/><stop offset=".668" stop-color="#db4229"/><stop offset="1" stop-color="#d73925"/></linearGradient><linearGradient id="h3_3"><stop offset=".002" stop-color="#d43523"/><stop offset=".335" stop-color="#d93e27"/><stop offset=".385" stop-color="#eb5e35"/><stop offset=".41" stop-color="#fcaa5f"/><stop offset=".427" stop-color="#fee99e"/><stop offset=".452" stop-color="#bce1ee"/><stop offset=".477" stop-color="#6298c6"/><stop offset=".502" stop-color="#4e80ba"/><stop offset=".527" stop-color="#6298c6"/><stop offset=".552" stop-color="#bce1ee"/><stop offset=".577" stop-color="#fee99e"/><stop offset=".593" stop-color="#fcaa5f"/><stop offset=".618" stop-color="#eb5e35"/><stop offset=".668" stop-color="#d93e27"/><stop offset="1" stop-color="#d43523"/></linearGradient><linearGradient id="h3_4"><stop offset=".002" stop-color="#d83c26"/><stop offset=".335" stop-color="#dd452a"/><stop offset=".385" stop-color="#e85a33"/><stop offset=".41" stop-color="#f99552"/><stop offset=".427" stop-color="#fed787"/><stop offset=".452" stop-color="#d7eff5"/><stop offset=".477" stop-color="#76aed2"/><stop offset=".502" stop-color="#6095c4"/><stop offset=".527" stop-color="#76aed2"/><stop offset=".552" stop-color="#d7eff5"/><stop offset=".577" stop-color="#fed787"/><stop offset=".593" stop-color="#f99552"/><stop offset=".618" stop-color="#e85a33"/><stop offset=".668" stop-color="#dd452a"/><stop offset="1" stop-color="#d83c26"/></linearGradient><linearGradient id="h3_5"><stop offset=".002" stop-color="#d33423"/><stop offset=".335" stop-color="#d83b26"/><stop offset=".385" stop-color="#e34f2f"/><stop offset=".41" stop-color="#f7874b"/><stop offset=".427" stop-color="#fecc7d"/><stop offset=".452" stop-color="#e2f4f5"/><stop offset=".477" stop-color="#82b8d7"/><stop offset=".502" stop-color="#6aa1cb"/><stop offset=".527" stop-color="#82b8d7"/><stop offset=".552" stop-color="#e2f4f5"/><stop offset=".577" stop-color="#fecc7d"/><stop offset=".593" stop-color="#f7874b"/><stop offset=".618" stop-color="#e34f2f"/><stop offset=".668" stop-color="#d83b26"/><stop offset="1" stop-color="#d33423"/></linearGradient><linearGradient id="h3_6"><stop offset=".002" stop-color="#d33423"/><stop offset=".335" stop-color="#d83b26"/><stop offset=".385" stop-color="#e45230"/><stop offset=".41" stop-color="#f88e4f"/><stop offset=".427" stop-color="#fed383"/><stop offset=".452" stop-color="#ddf1f7"/><stop offset=".477" stop-color="#7eb5d5"/><stop offset=".502" stop-color="#679ec9"/><stop offset=".527" stop-color="#7eb5d5"/><stop offset=".552" stop-color="#ddf1f7"/><stop offset=".577" stop-color="#fed383"/><stop offset=".593" stop-color="#f88e4f"/><stop offset=".618" stop-color="#e45230"/><stop offset=".668" stop-color="#d83b26"/><stop offset="1" stop-color="#d33423"/></linearGradient><linearGradient id="h3_7"><stop offset=".002" stop-color="#d63825"/><stop offset=".335" stop-color="#db4128"/><stop offset=".385" stop-color="#e85933"/><stop offset=".41" stop-color="#fa9a56"/><stop offset=".427" stop-color="#fede8e"/><stop offset=".452" stop-color="#cfebf3"/><stop offset=".477" stop-color="#71a9cf"/><stop offset=".502" stop-color="#5c90c2"/><stop offset=".527" stop-color="#71a9cf"/><stop offset=".552" stop-color="#cfebf3"/><stop offset=".577" stop-color="#fede8e"/><stop offset=".593" stop-color="#fa9a56"/><stop offset=".618" stop-color="#e85933"/><stop offset=".668" stop-color="#db4128"/><stop offset="1" stop-color="#d63825"/></linearGradient><linearGradient id="h3_8"><stop offset=".002" stop-color="#d53624"/><stop offset=".335" stop-color="#d93e27"/><stop offset=".385" stop-color="#e65632"/><stop offset=".41" stop-color="#f99653"/><stop offset=".427" stop-color="#fedb8b"/><stop offset=".452" stop-color="#d2ecf4"/><stop offset=".477" stop-color="#74add1"/><stop offset=".502" stop-color="#5e93c4"/><stop offset=".527" stop-color="#74add1"/><stop offset=".552" stop-color="#d2ecf4"/><stop offset=".577" stop-color="#fedb8b"/><stop offset=".593" stop-color="#f99653"/><stop offset=".618" stop-color="#e65632"/><stop offset=".668" stop-color="#d93e27"/><stop offset="1" stop-color="#d53624"/></linearGradient><linearGradient id="h3_9"><stop offset=".002" stop-color="#d33423"/><stop offset=".335" stop-color="#d73a26"/><stop offset=".385" stop-color="#e14c2d"/><stop offset=".41" stop-color="#f68247"/><stop offset=".427" stop-color="#fec97b"/><stop offset=".452" stop-color="#dbf1f7"/><stop offset=".477" stop-color="#6fa7ce"/><stop offset=".502" stop-color="#5689bf"/><stop offset=".527" stop-color="#6fa7ce"/><stop offset=".552" stop-color="#dbf1f7"/><stop offset=".577" stop-color="#fec97b"/><stop offset=".593" stop-color="#f68247"/><stop offset=".618" stop-color="#e14c2d"/><stop offset=".668" stop-color="#d73a26"/><stop offset="1" stop-color="#d33423"/></linearGradient><linearGradient id="h3_10"><stop offset=".002" stop-color="#d43523"/><stop offset=".335" stop-color="#d93d27"/><stop offset=".385" stop-color="#e65531"/><stop offset=".41" stop-color="#f99653"/><stop offset=".427" stop-color="#fedb8b"/><stop offset=".452" stop-color="#d1ecf4"/><stop offset=".477" stop-color="#71aacf"/><stop offset=".502" stop-color="#5c90c2"/><stop offset=".527" stop-color="#71aacf"/><stop offset=".552" stop-color="#d1ecf4"/><stop offset=".577" stop-color="#fedb8b"/><stop offset=".593" stop-color="#f99653"/><stop offset=".618" stop-color="#e65531"/><stop offset=".668" stop-color="#d93d27"/><stop offset="1" stop-color="#d43523"/></linearGradient><linearGradient id="h3_11"><stop offset=".002" stop-color="#d13323"/><stop offset=".335" stop-color="#d63825"/><stop offset=".385" stop-color="#de472b"/><stop offset=".41" stop-color="#f57842"/><stop offset=".427" stop-color="#fdbe70"/><stop offset=".452" stop-color="#e6f5ed"/><stop offset=".477" stop-color="#7eb5d5"/><stop offset=".502" stop-color="#6499c7"/><stop offset=".527" stop-color="#7eb5d5"/><stop offset=".552" stop-color="#e6f5ed"/><stop offset=".577" stop-color="#fdbe70"/><stop offset=".593" stop-color="#f57842"/><stop offset=".618" stop-color="#de472b"/><stop offset=".668" stop-color="#d63825"/><stop offset="1" stop-color="#d13323"/></linearGradient><linearGradient id="h3_12"><stop offset=".002" stop-color="#d53624"/><stop offset=".335" stop-color="#d93e27"/><stop offset=".385" stop-color="#e55431"/><stop offset=".41" stop-color="#f89150"/><stop offset=".427" stop-color="#fed585"/><stop offset=".452" stop-color="#dbf1f7"/><stop offset=".477" stop-color="#7db4d5"/><stop offset=".502" stop-color="#669dc9"/><stop offset=".527" stop-color="#7db4d5"/><stop offset=".552" stop-color="#dbf1f7"/><stop offset=".577" stop-color="#fed585"/><stop offset=".593" stop-color="#f89150"/><stop offset=".618" stop-color="#e55431"/><stop offset=".668" stop-color="#d93e27"/><stop offset="1" stop-color="#d53624"/></linearGradient><linearGradient id="h3_13"><stop offset=".002" stop-color="#d33423"/><stop offset=".335" stop-color="#d83b26"/><stop offset=".385" stop-color="#e14c2d"/><stop offset=".41" stop-color="#f68147"/><stop offset=".427" stop-color="#fec87a"/><stop offset=".452" stop-color="#dcf1f7"/><stop offset=".477" stop-color="#6fa8ce"/><stop offset=".502" stop-color="#568abf"/><stop offset=".527" stop-color="#6fa8ce"/><stop offset=".552" stop-color="#dcf1f7"/><stop offset=".577" stop-color="#fec87a"/><stop offset=".593" stop-color="#f68147"/><stop offset=".618" stop-color="#e14c2d"/><stop offset=".668" stop-color="#d83b26"/><stop offset="1" stop-color="#d33423"/></linearGradient><linearGradient id="h3_14"><stop offset=".002" stop-color="#cd3222"/><stop offset=".335" stop-color="#d33423"/><stop offset=".385" stop-color="#dc4329"/><stop offset=".41" stop-color="#f4723e"/><stop offset=".427" stop-color="#fdb86b"/><stop offset=".452" stop-color="#ebf7e4"/><stop offset=".477" stop-color="#8abeda"/><stop offset=".502" stop-color="#6ea6cd"/><stop offset=".527" stop-color="#8abeda"/><stop offset=".552" stop-color="#ebf7e4"/><stop offset=".577" stop-color="#fdb86b"/><stop offset=".593" stop-color="#f4723e"/><stop offset=".618" stop-color="#dc4329"/><stop offset=".668" stop-color="#d33423"/><stop offset="1" stop-color="#cd3222"/></linearGradient><linearGradient id="h3_15"><stop offset=".002" stop-color="#cc3122"/><stop offset=".335" stop-color="#d23323"/><stop offset=".385" stop-color="#da3f28"/><stop offset=".41" stop-color="#f0683a"/><stop offset=".427" stop-color="#fdaf62"/><stop offset=".452" stop-color="#eff9dc"/><stop offset=".477" stop-color="#8abfdb"/><stop offset=".502" stop-color="#6ca4cc"/><stop offset=".527" stop-color="#8abfdb"/><stop offset=".552" stop-color="#eff9dc"/><stop offset=".577" stop-color="#fdaf62"/><stop offset=".593" stop-color="#f0683a"/><stop offset=".618" stop-color="#da3f28"/><stop offset=".668" stop-color="#d23323"/><stop offset="1" stop-color="#cc3122"/></linearGradient><linearGradient id="h3_16"><stop offset=".002" stop-color="#d33423"/><stop offset=".335" stop-color="#d73a25"/><stop offset=".385" stop-color="#dd452a"/><stop offset=".41" stop-color="#f26c3b"/><stop offset=".427" stop-color="#fdb265"/><stop offset=".452" stop-color="#eaf7e6"/><stop offset=".477" stop-color="#76afd2"/><stop offset=".502" stop-color="#588cc0"/><stop offset=".527" stop-color="#76afd2"/><stop offset=".552" stop-color="#eaf7e6"/><stop offset=".577" stop-color="#fdb265"/><stop offset=".593" stop-color="#f26c3b"/><stop offset=".618" stop-color="#dd452a"/><stop offset=".668" stop-color="#d73a25"/><stop offset="1" stop-color="#d33423"/></linearGradient><linearGradient id="h3_17"><stop offset=".002" stop-color="#cf3222"/><stop offset=".335" stop-color="#d43523"/><stop offset=".385" stop-color="#da3f28"/><stop offset=".41" stop-color="#ee6438"/><stop offset=".427" stop-color="#fca85e"/><stop offset=".452" stop-color="#f0f9da"/><stop offset=".477" stop-color="#83b9d7"/><stop offset=".502" stop-color="#6399c7"/><stop offset=".527" stop-color="#83b9d7"/><stop offset=".552" stop-color="#f0f9da"/><stop offset=".577" stop-color="#fca85e"/><stop offset=".593" stop-color="#ee6438"/><stop offset=".618" stop-color="#da3f28"/><stop offset=".668" stop-color="#d43523"/><stop offset="1" stop-color="#cf3222"/></linearGradient><linearGradient id="h3_18"><stop offset=".002" stop-color="#cf3222"/><stop offset=".335" stop-color="#d53523"/><stop offset=".385" stop-color="#de472b"/><stop offset=".41" stop-color="#f57c44"/><stop offset=".427" stop-color="#fdc577"/><stop offset=".452" stop-color="#e0f3f8"/><stop offset=".477" stop-color="#74add1"/><stop offset=".502" stop-color="#5b90c2"/><stop offset=".527" stop-color="#74add1"/><stop offset=".552" stop-color="#e0f3f8"/><stop offset=".577" stop-color="#fdc577"/><stop offset=".593" stop-color="#f57c44"/><stop offset=".618" stop-color="#de472b"/><stop offset=".668" stop-color="#d53523"/><stop offset="1" stop-color="#cf3222"/></linearGradient><linearGradient id="h3_19"><stop offset=".002" stop-color="#cc3122"/><stop offset=".335" stop-color="#d13323"/><stop offset=".385" stop-color="#da3f28"/><stop offset=".41" stop-color="#f26c3b"/><stop offset=".427" stop-color="#fdb567"/><stop offset=".452" stop-color="#eaf7e5"/><stop offset=".477" stop-color="#82b8d7"/><stop offset=".502" stop-color="#659cc8"/><stop offset=".527" stop-color="#82b8d7"/><stop offset=".552" stop-color="#eaf7e5"/><stop offset=".577" stop-color="#fdb567"/><stop offset=".593" stop-color="#f26c3b"/><stop offset=".618" stop-color="#da3f28"/><stop offset=".668" stop-color="#d13323"/><stop offset="1" stop-color="#cc3122"/></linearGradient><linearGradient id="h3_20"><stop offset=".002" stop-color="#cc3122"/><stop offset=".335" stop-color="#d23323"/><stop offset=".385" stop-color="#d93d27"/><stop offset=".41" stop-color="#ef6639"/><stop offset=".427" stop-color="#fdad60"/><stop offset=".452" stop-color="#f0f9db"/><stop offset=".477" stop-color="#8abfdb"/><stop offset=".502" stop-color="#6ca3cc"/><stop offset=".527" stop-color="#8abfdb"/><stop offset=".552" stop-color="#f0f9db"/><stop offset=".577" stop-color="#fdad60"/><stop offset=".593" stop-color="#ef6639"/><stop offset=".618" stop-color="#d93d27"/><stop offset=".668" stop-color="#d23323"/><stop offset="1" stop-color="#cc3122"/></linearGradient><linearGradient id="h3_21"><stop offset=".002" stop-color="#cf3222"/><stop offset=".335" stop-color="#d43523"/><stop offset=".385" stop-color="#da3f28"/><stop offset=".41" stop-color="#ee6538"/><stop offset=".427" stop-color="#fcaa5f"/><stop offset=".452" stop-color="#eff9dc"/><stop offset=".477" stop-color="#81b8d7"/><stop offset=".502" stop-color="#6298c6"/><stop offset=".527" stop-color="#81b8d7"/><stop offset=".552" stop-color="#eff9dc"/><stop offset=".577" stop-color="#fcaa5f"/><stop offset=".593" stop-color="#ee6538"/><stop offset=".618" stop-color="#da3f28"/><stop offset=".668" stop-color="#d43523"/><stop offset="1" stop-color="#cf3222"/></linearGradient><linearGradient id="h3_22"><stop offset=".002" stop-color="#c83022"/><stop offset=".335" stop-color="#cd3122"/><stop offset=".385" stop-color="#d53523"/><stop offset=".41" stop-color="#e75732"/><stop offset=".427" stop-color="#f99553"/><stop offset=".452" stop-color="#feffc1"/><stop offset=".477" stop-color="#a2d2e5"/><stop offset=".502" stop-color="#82b8d7"/><stop offset=".527" stop-color="#a2d2e5"/><stop offset=".552" stop-color="#feffc1"/><stop offset=".577" stop-color="#f99553"/><stop offset=".593" stop-color="#e75732"/><stop offset=".618" stop-color="#d53523"/><stop offset=".668" stop-color="#cd3122"/><stop offset="1" stop-color="#c83022"/></linearGradient><linearGradient id="h3_23"><stop offset=".002" stop-color="#cc3122"/><stop offset=".335" stop-color="#d13323"/><stop offset=".385" stop-color="#d93d27"/><stop offset=".41" stop-color="#ef6739"/><stop offset=".427" stop-color="#fdae61"/><stop offset=".452" stop-color="#eff9dc"/><stop offset=".477" stop-color="#8abeda"/><stop offset=".502" stop-color="#6ca3cc"/><stop offset=".527" stop-color="#8abeda"/><stop offset=".552" stop-color="#eff9dc"/><stop offset=".577" stop-color="#fdae61"/><stop offset=".593" stop-color="#ef6739"/><stop offset=".618" stop-color="#d93d27"/><stop offset=".668" stop-color="#d13323"/><stop offset="1" stop-color="#cc3122"/></linearGradient><linearGradient id="h3_24"><stop offset=".002" stop-color="#c93022"/><stop offset=".335" stop-color="#ce3222"/><stop offset=".385" stop-color="#d53624"/><stop offset=".41" stop-color="#e85a33"/><stop offset=".427" stop-color="#fa9b56"/><stop offset=".452" stop-color="#f8fccb"/><stop offset=".477" stop-color="#93c6df"/><stop offset=".502" stop-color="#72abd0"/><stop offset=".527" stop-color="#93c6df"/><stop offset=".552" stop-color="#f8fccb"/><stop offset=".577" stop-color="#fa9b56"/><stop offset=".593" stop-color="#e85a33"/><stop offset=".618" stop-color="#d53624"/><stop offset=".668" stop-color="#ce3222"/><stop offset="1" stop-color="#c93022"/></linearGradient><linearGradient id="h3_25"><stop offset=".002" stop-color="#cc3122"/><stop offset=".335" stop-color="#d13323"/><stop offset=".385" stop-color="#d73925"/><stop offset=".41" stop-color="#e95b34"/><stop offset=".427" stop-color="#fa9955"/><stop offset=".452" stop-color="#fafdc8"/><stop offset=".477" stop-color="#96c9e0"/><stop offset=".502" stop-color="#75add1"/><stop offset=".527" stop-color="#96c9e0"/><stop offset=".552" stop-color="#fafdc8"/><stop offset=".577" stop-color="#fa9955"/><stop offset=".593" stop-color="#e95b34"/><stop offset=".618" stop-color="#d73925"/><stop offset=".668" stop-color="#d13323"/><stop offset="1" stop-color="#cc3122"/></linearGradient><linearGradient id="h3_26"><stop offset=".002" stop-color="#c93022"/><stop offset=".335" stop-color="#cd3222"/><stop offset=".385" stop-color="#d43423"/><stop offset=".41" stop-color="#e45230"/><stop offset=".427" stop-color="#f88d4e"/><stop offset=".452" stop-color="#fffebd"/><stop offset=".477" stop-color="#9dcee3"/><stop offset=".502" stop-color="#7ab2d4"/><stop offset=".527" stop-color="#9dcee3"/><stop offset=".552" stop-color="#fffebd"/><stop offset=".577" stop-color="#f88d4e"/><stop offset=".593" stop-color="#e45230"/><stop offset=".618" stop-color="#d43423"/><stop offset=".668" stop-color="#cd3222"/><stop offset="1" stop-color="#c93022"/></linearGradient><linearGradient id="h3_27"><stop offset=".002" stop-color="#c83022"/><stop offset=".335" stop-color="#cd3122"/><stop offset=".385" stop-color="#d43423"/><stop offset=".41" stop-color="#e55431"/><stop offset=".427" stop-color="#f99251"/><stop offset=".452" stop-color="#fdfec3"/><stop offset=".477" stop-color="#98cae1"/><stop offset=".502" stop-color="#75aed2"/><stop offset=".527" stop-color="#98cae1"/><stop offset=".552" stop-color="#fdfec3"/><stop offset=".577" stop-color="#f99251"/><stop offset=".593" stop-color="#e55431"/><stop offset=".618" stop-color="#d43423"/><stop offset=".668" stop-color="#cd3122"/><stop offset="1" stop-color="#c83022"/></linearGradient><linearGradient id="h3_28"><stop offset=".002" stop-color="#c93022"/><stop offset=".335" stop-color="#ce3222"/><stop offset=".385" stop-color="#d53624"/><stop offset=".41" stop-color="#e75833"/><stop offset=".427" stop-color="#fa9955"/><stop offset=".452" stop-color="#f9fdca"/><stop offset=".477" stop-color="#93c5de"/><stop offset=".502" stop-color="#71a9cf"/><stop offset=".527" stop-color="#93c5de"/><stop offset=".552" stop-color="#f9fdca"/><stop offset=".577" stop-color="#fa9955"/><stop offset=".593" stop-color="#e75833"/><stop offset=".618" stop-color="#d53624"/><stop offset=".668" stop-color="#ce3222"/><stop offset="1" stop-color="#c93022"/></linearGradient><linearGradient id="h3_29"><stop offset=".002" stop-color="#cd3122"/><stop offset=".335" stop-color="#d13323"/><stop offset=".385" stop-color="#d53724"/><stop offset=".41" stop-color="#e3502f"/><stop offset=".427" stop-color="#f7874a"/><stop offset=".452" stop-color="#fffebe"/><stop offset=".477" stop-color="#8dc1dc"/><stop offset=".502" stop-color="#669cc8"/><stop offset=".527" stop-color="#8dc1dc"/><stop offset=".552" stop-color="#fffebe"/><stop offset=".577" stop-color="#f7874a"/><stop offset=".593" stop-color="#e3502f"/><stop offset=".618" stop-color="#d53724"/><stop offset=".668" stop-color="#d13323"/><stop offset="1" stop-color="#cd3122"/></linearGradient><linearGradient id="h3_30"><stop offset=".002" stop-color="#cb3122"/><stop offset=".335" stop-color="#d03223"/><stop offset=".385" stop-color="#d43423"/><stop offset=".41" stop-color="#e14b2d"/><stop offset=".427" stop-color="#f57e45"/><stop offset=".452" stop-color="#fff5af"/><stop offset=".477" stop-color="#a7d6e7"/><stop offset=".502" stop-color="#81b7d6"/><stop offset=".527" stop-color="#a7d6e7"/><stop offset=".552" stop-color="#fff5af"/><stop offset=".577" stop-color="#f57e45"/><stop offset=".593" stop-color="#e14b2d"/><stop offset=".618" stop-color="#d43423"/><stop offset=".668" stop-color="#d03223"/><stop offset="1" stop-color="#cb3122"/></linearGradient><linearGradient id="h3_31"><stop offset=".002" stop-color="#cb3122"/><stop offset=".335" stop-color="#cf3223"/><stop offset=".385" stop-color="#d43523"/><stop offset=".41" stop-color="#e24e2e"/><stop offset=".427" stop-color="#f68348"/><stop offset=".452" stop-color="#fff6b1"/><stop offset=".477" stop-color="#aad9e9"/><stop offset=".502" stop-color="#86bcd9"/><stop offset=".527" stop-color="#aad9e9"/><stop offset=".552" stop-color="#fff6b1"/><stop offset=".577" stop-color="#f68348"/><stop offset=".593" stop-color="#e24e2e"/><stop offset=".618" stop-color="#d43523"/><stop offset=".668" stop-color="#cf3223"/><stop offset="1" stop-color="#cb3122"/></linearGradient><linearGradient id="h3_32"><stop offset=".002" stop-color="#c62f21"/><stop offset=".335" stop-color="#ca3022"/><stop offset=".385" stop-color="#cf3222"/><stop offset=".41" stop-color="#df492c"/><stop offset=".427" stop-color="#f68147"/><stop offset=".452" stop-color="#fffbb9"/><stop offset=".477" stop-color="#97c9e0"/><stop offset=".502" stop-color="#70a9cf"/><stop offset=".527" stop-color="#97c9e0"/><stop offset=".552" stop-color="#fffbb9"/><stop offset=".577" stop-color="#f68147"/><stop offset=".593" stop-color="#df492c"/><stop offset=".618" stop-color="#cf3222"/><stop offset=".668" stop-color="#ca3022"/><stop offset="1" stop-color="#c62f21"/></linearGradient><linearGradient id="h3_33"><stop offset=".002" stop-color="#c22e21"/><stop offset=".335" stop-color="#c62f22"/><stop offset=".385" stop-color="#cb3122"/><stop offset=".41" stop-color="#db4129"/><stop offset=".427" stop-color="#f4733f"/><stop offset=".452" stop-color="#fff0a9"/><stop offset=".477" stop-color="#afdbea"/><stop offset=".502" stop-color="#88bdda"/><stop offset=".527" stop-color="#afdbea"/><stop offset=".552" stop-color="#fff0a9"/><stop offset=".577" stop-color="#f4733f"/><stop offset=".593" stop-color="#db4129"/><stop offset=".618" stop-color="#cb3122"/><stop offset=".668" stop-color="#c62f22"/><stop offset="1" stop-color="#c22e21"/></linearGradient><linearGradient id="h3_34"><stop offset=".002" stop-color="#c72f22"/><stop offset=".335" stop-color="#cb3122"/><stop offset=".385" stop-color="#d03323"/><stop offset=".41" stop-color="#df492c"/><stop offset=".427" stop-color="#f57e45"/><stop offset=".452" stop-color="#fff3ad"/><stop offset=".477" stop-color="#b1dceb"/><stop offset=".502" stop-color="#8dc1dc"/><stop offset=".527" stop-color="#b1dceb"/><stop offset=".552" stop-color="#fff3ad"/><stop offset=".577" stop-color="#f57e45"/><stop offset=".593" stop-color="#df492c"/><stop offset=".618" stop-color="#d03323"/><stop offset=".668" stop-color="#cb3122"/><stop offset="1" stop-color="#c72f22"/></linearGradient><linearGradient id="h3_35"><stop offset=".002" stop-color="#c42e21"/><stop offset=".335" stop-color="#c72f22"/><stop offset=".385" stop-color="#cb3122"/><stop offset=".41" stop-color="#d83b26"/><stop offset=".427" stop-color="#ef6739"/><stop offset=".452" stop-color="#fee89c"/><stop offset=".477" stop-color="#b7dfec"/><stop offset=".502" stop-color="#8ec2dc"/><stop offset=".527" stop-color="#b7dfec"/><stop offset=".552" stop-color="#fee89c"/><stop offset=".577" stop-color="#ef6739"/><stop offset=".593" stop-color="#d83b26"/><stop offset=".618" stop-color="#cb3122"/><stop offset=".668" stop-color="#c72f22"/><stop offset="1" stop-color="#c42e21"/></linearGradient><linearGradient id="h3_36"><stop offset=".002" stop-color="#c72f22"/><stop offset=".335" stop-color="#cb3122"/><stop offset=".385" stop-color="#ce3222"/><stop offset=".41" stop-color="#d93d27"/><stop offset=".427" stop-color="#f06839"/><stop offset=".452" stop-color="#feeca2"/><stop offset=".477" stop-color="#a2d2e5"/><stop offset=".502" stop-color="#74add1"/><stop offset=".527" stop-color="#a2d2e5"/><stop offset=".552" stop-color="#feeca2"/><stop offset=".577" stop-color="#f06839"/><stop offset=".593" stop-color="#d93d27"/><stop offset=".618" stop-color="#ce3222"/><stop offset=".668" stop-color="#cb3122"/><stop offset="1" stop-color="#c72f22"/></linearGradient><linearGradient id="h3_37"><stop offset=".002" stop-color="#c22e21"/><stop offset=".335" stop-color="#c62f21"/><stop offset=".385" stop-color="#c93022"/><stop offset=".41" stop-color="#d53624"/><stop offset=".427" stop-color="#eb5f36"/><stop offset=".452" stop-color="#fee699"/><stop offset=".477" stop-color="#addaea"/><stop offset=".502" stop-color="#7fb6d6"/><stop offset=".527" stop-color="#addaea"/><stop offset=".552" stop-color="#fee699"/><stop offset=".577" stop-color="#eb5f36"/><stop offset=".593" stop-color="#d53624"/><stop offset=".618" stop-color="#c93022"/><stop offset=".668" stop-color="#c62f21"/><stop offset="1" stop-color="#c22e21"/></linearGradient><linearGradient id="h3_38"><stop offset=".002" stop-color="#c52f21"/><stop offset=".335" stop-color="#c93022"/><stop offset=".385" stop-color="#cc3122"/><stop offset=".41" stop-color="#d73925"/><stop offset=".427" stop-color="#ec6237"/><stop offset=".452" stop-color="#fee699"/><stop offset=".477" stop-color="#b1dceb"/><stop offset=".502" stop-color="#84bad8"/><stop offset=".527" stop-color="#b1dceb"/><stop offset=".552" stop-color="#fee699"/><stop offset=".577" stop-color="#ec6237"/><stop offset=".593" stop-color="#d73925"/><stop offset=".618" stop-color="#cc3122"/><stop offset=".668" stop-color="#c93022"/><stop offset="1" stop-color="#c52f21"/></linearGradient><linearGradient id="h3_39"><stop offset=".002" stop-color="#c32e21"/><stop offset=".335" stop-color="#c62f22"/><stop offset=".385" stop-color="#ca3022"/><stop offset=".41" stop-color="#d83b26"/><stop offset=".427" stop-color="#f0683a"/><stop offset=".452" stop-color="#fee99e"/><stop offset=".477" stop-color="#b7dfec"/><stop offset=".502" stop-color="#8fc2dd"/><stop offset=".527" stop-color="#b7dfec"/><stop offset=".552" stop-color="#fee99e"/><stop offset=".577" stop-color="#f0683a"/><stop offset=".593" stop-color="#d83b26"/><stop offset=".618" stop-color="#ca3022"/><stop offset=".668" stop-color="#c62f22"/><stop offset="1" stop-color="#c32e21"/></linearGradient><linearGradient id="h3_40"><stop offset=".002" stop-color="#c72f22"/><stop offset=".335" stop-color="#ca3022"/><stop offset=".385" stop-color="#ce3222"/><stop offset=".41" stop-color="#d93e27"/><stop offset=".427" stop-color="#f0693a"/><stop offset=".452" stop-color="#fee89c"/><stop offset=".477" stop-color="#b9e0ed"/><stop offset=".502" stop-color="#92c5de"/><stop offset=".527" stop-color="#b9e0ed"/><stop offset=".552" stop-color="#fee89c"/><stop offset=".577" stop-color="#f0693a"/><stop offset=".593" stop-color="#d93e27"/><stop offset=".618" stop-color="#ce3222"/><stop offset=".668" stop-color="#ca3022"/><stop offset="1" stop-color="#c72f22"/></linearGradient><linearGradient id="h3_41"><stop offset=".002" stop-color="#c62f22"/><stop offset=".335" stop-color="#c93022"/><stop offset=".385" stop-color="#cc3122"/><stop offset=".41" stop-color="#d73a25"/><stop offset=".427" stop-color="#ec6137"/><stop offset=".452" stop-color="#fee699"/><stop offset=".477" stop-color="#afdbea"/><stop offset=".502" stop-color="#82b8d7"/><stop offset=".527" stop-color="#afdbea"/><stop offset=".552" stop-color="#fee699"/><stop offset=".577" stop-color="#ec6137"/><stop offset=".593" stop-color="#d73a25"/><stop offset=".618" stop-color="#cc3122"/><stop offset=".668" stop-color="#c93022"/><stop offset="1" stop-color="#c62f22"/></linearGradient><linearGradient id="h3_42"><stop offset=".002" stop-color="#c22e21"/><stop offset=".335" stop-color="#c52f21"/><stop offset=".385" stop-color="#c82f22"/><stop offset=".41" stop-color="#cf3222"/><stop offset=".427" stop-color="#e04b2d"/><stop offset=".452" stop-color="#fed182"/><stop offset=".477" stop-color="#b7dfec"/><stop offset=".502" stop-color="#80b7d6"/><stop offset=".527" stop-color="#b7dfec"/><stop offset=".552" stop-color="#fed182"/><stop offset=".577" stop-color="#e04b2d"/><stop offset=".593" stop-color="#cf3222"/><stop offset=".618" stop-color="#c82f22"/><stop offset=".668" stop-color="#c52f21"/><stop offset="1" stop-color="#c22e21"/></linearGradient><linearGradient id="h3_43"><stop offset=".002" stop-color="#bf2c21"/><stop offset=".335" stop-color="#c22e21"/><stop offset=".385" stop-color="#c52e21"/><stop offset=".41" stop-color="#cd3122"/><stop offset=".427" stop-color="#e04b2d"/><stop offset=".452" stop-color="#fecb7d"/><stop offset=".477" stop-color="#d0ebf4"/><stop offset=".502" stop-color="#a3d3e5"/><stop offset=".527" stop-color="#d0ebf4"/><stop offset=".552" stop-color="#fecb7d"/><stop offset=".577" stop-color="#e04b2d"/><stop offset=".593" stop-color="#cd3122"/><stop offset=".618" stop-color="#c52e21"/><stop offset=".668" stop-color="#c22e21"/><stop offset="1" stop-color="#bf2c21"/></linearGradient><linearGradient id="h3_44"><stop offset=".002" stop-color="#c52e21"/><stop offset=".335" stop-color="#c83022"/><stop offset=".385" stop-color="#ca3022"/><stop offset=".41" stop-color="#d53624"/><stop offset=".427" stop-color="#e95c34"/><stop offset=".452" stop-color="#fee090"/><stop offset=".477" stop-color="#bce1ee"/><stop offset=".502" stop-color="#8fc3dd"/><stop offset=".527" stop-color="#bce1ee"/><stop offset=".552" stop-color="#fee090"/><stop offset=".577" stop-color="#e95c34"/><stop offset=".593" stop-color="#d53624"/><stop offset=".618" stop-color="#ca3022"/><stop offset=".668" stop-color="#c83022"/><stop offset="1" stop-color="#c52e21"/></linearGradient><linearGradient id="h3_45"><stop offset=".002" stop-color="#c62f21"/><stop offset=".335" stop-color="#c83022"/><stop offset=".385" stop-color="#ca3122"/><stop offset=".41" stop-color="#d03223"/><stop offset=".427" stop-color="#de482b"/><stop offset=".452" stop-color="#fdc375"/><stop offset=".477" stop-color="#cce9f2"/><stop offset=".502" stop-color="#97c9e0"/><stop offset=".527" stop-color="#cce9f2"/><stop offset=".552" stop-color="#fdc375"/><stop offset=".577" stop-color="#de482b"/><stop offset=".593" stop-color="#d03223"/><stop offset=".618" stop-color="#ca3122"/><stop offset=".668" stop-color="#c83022"/><stop offset="1" stop-color="#c62f21"/></linearGradient><linearGradient id="h3_46"><stop offset=".002" stop-color="#bd2c21"/><stop offset=".335" stop-color="#bf2d21"/><stop offset=".385" stop-color="#c22d21"/><stop offset=".41" stop-color="#cb3122"/><stop offset=".427" stop-color="#e04b2d"/><stop offset=".452" stop-color="#fed283"/><stop offset=".477" stop-color="#c2e4ef"/><stop offset=".502" stop-color="#91c5de"/><stop offset=".527" stop-color="#c2e4ef"/><stop offset=".552" stop-color="#fed283"/><stop offset=".577" stop-color="#e04b2d"/><stop offset=".593" stop-color="#cb3122"/><stop offset=".618" stop-color="#c22d21"/><stop offset=".668" stop-color="#bf2d21"/><stop offset="1" stop-color="#bd2c21"/></linearGradient><linearGradient id="h3_47"><stop offset=".002" stop-color="#c02d21"/><stop offset=".335" stop-color="#c32e21"/><stop offset=".385" stop-color="#c52f21"/><stop offset=".41" stop-color="#d03323"/><stop offset=".427" stop-color="#e65531"/><stop offset=".452" stop-color="#fed686"/><stop offset=".477" stop-color="#cfebf3"/><stop offset=".502" stop-color="#a7d6e7"/><stop offset=".527" stop-color="#cfebf3"/><stop offset=".552" stop-color="#fed686"/><stop offset=".577" stop-color="#e65531"/><stop offset=".593" stop-color="#d03323"/><stop offset=".618" stop-color="#c52f21"/><stop offset=".668" stop-color="#c32e21"/><stop offset="1" stop-color="#c02d21"/></linearGradient><linearGradient id="h3_48"><stop offset=".002" stop-color="#c22d21"/><stop offset=".335" stop-color="#c42e21"/><stop offset=".385" stop-color="#c72f22"/><stop offset=".41" stop-color="#d03323"/><stop offset=".427" stop-color="#e55431"/><stop offset=".452" stop-color="#fedb8b"/><stop offset=".477" stop-color="#bbe1ee"/><stop offset=".502" stop-color="#8cc0db"/><stop offset=".527" stop-color="#bbe1ee"/><stop offset=".552" stop-color="#fedb8b"/><stop offset=".577" stop-color="#e55431"/><stop offset=".593" stop-color="#d03323"/><stop offset=".618" stop-color="#c72f22"/><stop offset=".668" stop-color="#c42e21"/><stop offset="1" stop-color="#c22d21"/></linearGradient><linearGradient id="h3_49"><stop offset=".002" stop-color="#bc2b20"/><stop offset=".335" stop-color="#bf2c21"/><stop offset=".385" stop-color="#c12d21"/><stop offset=".41" stop-color="#c62f22"/><stop offset=".427" stop-color="#d83c26"/><stop offset=".452" stop-color="#fdbd6f"/><stop offset=".477" stop-color="#cce9f2"/><stop offset=".502" stop-color="#95c8df"/><stop offset=".527" stop-color="#cce9f2"/><stop offset=".552" stop-color="#fdbd6f"/><stop offset=".577" stop-color="#d83c26"/><stop offset=".593" stop-color="#c62f22"/><stop offset=".618" stop-color="#c12d21"/><stop offset=".668" stop-color="#bf2c21"/><stop offset="1" stop-color="#bc2b20"/></linearGradient><linearGradient id="h3_50"><stop offset=".002" stop-color="#c12d21"/><stop offset=".335" stop-color="#c42e21"/><stop offset=".385" stop-color="#c62f21"/><stop offset=".41" stop-color="#ce3222"/><stop offset=".427" stop-color="#e14d2e"/><stop offset=".452" stop-color="#fece7f"/><stop offset=".477" stop-color="#cce9f2"/><stop offset=".502" stop-color="#9dcee3"/><stop offset=".527" stop-color="#cce9f2"/><stop offset=".552" stop-color="#fece7f"/><stop offset=".577" stop-color="#e14d2e"/><stop offset=".593" stop-color="#ce3222"/><stop offset=".618" stop-color="#c62f21"/><stop offset=".668" stop-color="#c42e21"/><stop offset="1" stop-color="#c12d21"/></linearGradient><linearGradient id="h3_51"><stop offset=".002" stop-color="#be2c21"/><stop offset=".335" stop-color="#c02d21"/><stop offset=".385" stop-color="#c22d21"/><stop offset=".41" stop-color="#c83022"/><stop offset=".427" stop-color="#dc4229"/><stop offset=".452" stop-color="#fdc576"/><stop offset=".477" stop-color="#cbe9f2"/><stop offset=".502" stop-color="#98cae1"/><stop offset=".527" stop-color="#cbe9f2"/><stop offset=".552" stop-color="#fdc576"/><stop offset=".577" stop-color="#dc4229"/><stop offset=".593" stop-color="#c83022"/><stop offset=".618" stop-color="#c22d21"/><stop offset=".668" stop-color="#c02d21"/><stop offset="1" stop-color="#be2c21"/></linearGradient><linearGradient id="h3_52"><stop offset=".002" stop-color="#bf2c21"/><stop offset=".335" stop-color="#c12d21"/><stop offset=".385" stop-color="#c32e21"/><stop offset=".41" stop-color="#c93022"/><stop offset=".427" stop-color="#dc4229"/><stop offset=".452" stop-color="#fdbf71"/><stop offset=".477" stop-color="#daf0f6"/><stop offset=".502" stop-color="#abd9e9"/><stop offset=".527" stop-color="#daf0f6"/><stop offset=".552" stop-color="#fdbf71"/><stop offset=".577" stop-color="#dc4229"/><stop offset=".593" stop-color="#c93022"/><stop offset=".618" stop-color="#c32e21"/><stop offset=".668" stop-color="#c12d21"/><stop offset="1" stop-color="#bf2c21"/></linearGradient><linearGradient id="h3_53"><stop offset=".002" stop-color="#c22d21"/><stop offset=".335" stop-color="#c42e21"/><stop offset=".385" stop-color="#c52f21"/><stop offset=".41" stop-color="#cc3122"/><stop offset=".427" stop-color="#de462b"/><stop offset=".452" stop-color="#fdc577"/><stop offset=".477" stop-color="#d0ebf3"/><stop offset=".502" stop-color="#9fcfe4"/><stop offset=".527" stop-color="#d0ebf3"/><stop offset=".552" stop-color="#fdc577"/><stop offset=".577" stop-color="#de462b"/><stop offset=".593" stop-color="#cc3122"/><stop offset=".618" stop-color="#c52f21"/><stop offset=".668" stop-color="#c42e21"/><stop offset="1" stop-color="#c22d21"/></linearGradient><linearGradient id="h3_54"><stop offset=".002" stop-color="#bb2b20"/><stop offset=".335" stop-color="#bc2b20"/><stop offset=".385" stop-color="#be2c21"/><stop offset=".41" stop-color="#c12d21"/><stop offset=".427" stop-color="#cf3222"/><stop offset=".452" stop-color="#fca55c"/><stop offset=".477" stop-color="#d9f0f6"/><stop offset=".502" stop-color="#9acce2"/><stop offset=".527" stop-color="#d9f0f6"/><stop offset=".552" stop-color="#fca55c"/><stop offset=".577" stop-color="#cf3222"/><stop offset=".593" stop-color="#c12d21"/><stop offset=".618" stop-color="#be2c21"/><stop offset=".668" stop-color="#bc2b20"/><stop offset="1" stop-color="#bb2b20"/></linearGradient><linearGradient id="h3_55"><stop offset=".002" stop-color="#ba2b20"/><stop offset=".335" stop-color="#bc2b20"/><stop offset=".385" stop-color="#bd2c21"/><stop offset=".41" stop-color="#c32e21"/><stop offset=".427" stop-color="#d63825"/><stop offset=".452" stop-color="#fdb769"/><stop offset=".477" stop-color="#dbf0f6"/><stop offset=".502" stop-color="#a7d6e7"/><stop offset=".527" stop-color="#dbf0f6"/><stop offset=".552" stop-color="#fdb769"/><stop offset=".577" stop-color="#d63825"/><stop offset=".593" stop-color="#c32e21"/><stop offset=".618" stop-color="#bd2c21"/><stop offset=".668" stop-color="#bc2b20"/><stop offset="1" stop-color="#ba2b20"/></linearGradient><linearGradient id="h3_56"><stop offset=".002" stop-color="#be2c21"/><stop offset=".335" stop-color="#c02d21"/><stop offset=".385" stop-color="#c12d21"/><stop offset=".41" stop-color="#c52f21"/><stop offset=".427" stop-color="#d53724"/><stop offset=".452" stop-color="#fdb365"/><stop offset=".477" stop-color="#d3edf4"/><stop offset=".502" stop-color="#99cbe1"/><stop offset=".527" stop-color="#d3edf4"/><stop offset=".552" stop-color="#fdb365"/><stop offset=".577" stop-color="#d53724"/><stop offset=".593" stop-color="#c52f21"/><stop offset=".618" stop-color="#c12d21"/><stop offset=".668" stop-color="#c02d21"/><stop offset="1" stop-color="#be2c21"/></linearGradient><linearGradient id="h3_57"><stop offset=".002" stop-color="#b72920"/><stop offset=".335" stop-color="#b82a20"/><stop offset=".385" stop-color="#b92a20"/><stop offset=".41" stop-color="#bc2b20"/><stop offset=".427" stop-color="#c93022"/><stop offset=".452" stop-color="#f89150"/><stop offset=".477" stop-color="#eef9de"/><stop offset=".502" stop-color="#c0e3ef"/><stop offset=".527" stop-color="#eef9de"/><stop offset=".552" stop-color="#f89150"/><stop offset=".577" stop-color="#c93022"/><stop offset=".593" stop-color="#bc2b20"/><stop offset=".618" stop-color="#b92a20"/><stop offset=".668" stop-color="#b82a20"/><stop offset="1" stop-color="#b72920"/></linearGradient><linearGradient id="h3_58"><stop offset=".002" stop-color="#bf2c21"/><stop offset=".335" stop-color="#c12d21"/><stop offset=".385" stop-color="#c22d21"/><stop offset=".41" stop-color="#c52f21"/><stop offset=".427" stop-color="#d53524"/><stop offset=".452" stop-color="#fdae61"/><stop offset=".477" stop-color="#daf0f6"/><stop offset=".502" stop-color="#a0d0e4"/><stop offset=".527" stop-color="#daf0f6"/><stop offset=".552" stop-color="#fdae61"/><stop offset=".577" stop-color="#d53524"/><stop offset=".593" stop-color="#c52f21"/><stop offset=".618" stop-color="#c22d21"/><stop offset=".668" stop-color="#c12d21"/><stop offset="1" stop-color="#bf2c21"/></linearGradient><linearGradient id="h3_59"><stop offset=".002" stop-color="#b92a20"/><stop offset=".335" stop-color="#ba2b20"/><stop offset=".385" stop-color="#bb2b20"/><stop offset=".41" stop-color="#be2c21"/><stop offset=".427" stop-color="#ca3022"/><stop offset=".452" stop-color="#f99553"/><stop offset=".477" stop-color="#e7f6ec"/><stop offset=".502" stop-color="#aedbea"/><stop offset=".527" stop-color="#e7f6ec"/><stop offset=".552" stop-color="#f99553"/><stop offset=".577" stop-color="#ca3022"/><stop offset=".593" stop-color="#be2c21"/><stop offset=".618" stop-color="#bb2b20"/><stop offset=".668" stop-color="#ba2b20"/><stop offset="1" stop-color="#b92a20"/></linearGradient><linearGradient id="h3_60"><stop offset=".002" stop-color="#b62920"/><stop offset=".335" stop-color="#b72a20"/><stop offset=".385" stop-color="#b82a20"/><stop offset=".41" stop-color="#ba2b20"/><stop offset=".427" stop-color="#c42e21"/><stop offset=".452" stop-color="#f68449"/><stop offset=".477" stop-color="#eff9dd"/><stop offset=".502" stop-color="#bae1ed"/><stop offset=".527" stop-color="#eff9dd"/><stop offset=".552" stop-color="#f68449"/><stop offset=".577" stop-color="#c42e21"/><stop offset=".593" stop-color="#ba2b20"/><stop offset=".618" stop-color="#b82a20"/><stop offset=".668" stop-color="#b72a20"/><stop offset="1" stop-color="#b62920"/></linearGradient><linearGradient id="h3_61"><stop offset=".002" stop-color="#b92a20"/><stop offset=".335" stop-color="#ba2b20"/><stop offset=".385" stop-color="#bb2b20"/><stop offset=".41" stop-color="#bd2c21"/><stop offset=".427" stop-color="#c83022"/><stop offset=".452" stop-color="#f88d4e"/><stop offset=".477" stop-color="#e9f6e8"/><stop offset=".502" stop-color="#b0dbea"/><stop offset=".527" stop-color="#e9f6e8"/><stop offset=".552" stop-color="#f88d4e"/><stop offset=".577" stop-color="#c83022"/><stop offset=".593" stop-color="#bd2c21"/><stop offset=".618" stop-color="#bb2b20"/><stop offset=".668" stop-color="#ba2b20"/><stop offset="1" stop-color="#b92a20"/></linearGradient><linearGradient id="h3_62"><stop offset=".002" stop-color="#b82a20"/><stop offset=".335" stop-color="#ba2a20"/><stop offset=".385" stop-color="#ba2b20"/><stop offset=".41" stop-color="#bc2b20"/><stop offset=".427" stop-color="#c62f21"/><stop offset=".452" stop-color="#f7874a"/><stop offset=".477" stop-color="#eaf7e5"/><stop offset=".502" stop-color="#b0dcea"/><stop offset=".527" stop-color="#eaf7e5"/><stop offset=".552" stop-color="#f7874a"/><stop offset=".577" stop-color="#c62f21"/><stop offset=".593" stop-color="#bc2b20"/><stop offset=".618" stop-color="#ba2b20"/><stop offset=".668" stop-color="#ba2a20"/><stop offset="1" stop-color="#b82a20"/></linearGradient><linearGradient id="h3_63"><stop offset=".002" stop-color="#ba2b20"/><stop offset=".335" stop-color="#bb2b20"/><stop offset=".385" stop-color="#bc2b20"/><stop offset=".41" stop-color="#bd2c21"/><stop offset=".427" stop-color="#c72f22"/><stop offset=".452" stop-color="#f68449"/><stop offset=".477" stop-color="#f0f9db"/><stop offset=".502" stop-color="#bce1ee"/><stop offset=".527" stop-color="#f0f9db"/><stop offset=".552" stop-color="#f68449"/><stop offset=".577" stop-color="#c72f22"/><stop offset=".593" stop-color="#bd2c21"/><stop offset=".618" stop-color="#bc2b20"/><stop offset=".668" stop-color="#bb2b20"/><stop offset="1" stop-color="#ba2b20"/></linearGradient><linearGradient id="h3_64"><stop offset=".002" stop-color="#b42920"/><stop offset=".335" stop-color="#b52920"/><stop offset=".385" stop-color="#b62920"/><stop offset=".41" stop-color="#b72a20"/><stop offset=".427" stop-color="#c12d21"/><stop offset=".452" stop-color="#f57942"/><stop offset=".477" stop-color="#f8fccd"/><stop offset=".502" stop-color="#cbe9f2"/><stop offset=".527" stop-color="#f8fccd"/><stop offset=".552" stop-color="#f57942"/><stop offset=".577" stop-color="#c12d21"/><stop offset=".593" stop-color="#b72a20"/><stop offset=".618" stop-color="#b62920"/><stop offset=".668" stop-color="#b52920"/><stop offset="1" stop-color="#b42920"/></linearGradient><linearGradient id="h3_65"><stop offset=".002" stop-color="#bc2b20"/><stop offset=".335" stop-color="#bd2c21"/><stop offset=".385" stop-color="#be2c21"/><stop offset=".41" stop-color="#bf2c21"/><stop offset=".427" stop-color="#c72f22"/><stop offset=".452" stop-color="#f68147"/><stop offset=".477" stop-color="#edf8e1"/><stop offset=".502" stop-color="#b1dceb"/><stop offset=".527" stop-color="#edf8e1"/><stop offset=".552" stop-color="#f68147"/><stop offset=".577" stop-color="#c72f22"/><stop offset=".593" stop-color="#bf2c21"/><stop offset=".618" stop-color="#be2c21"/><stop offset=".668" stop-color="#bd2c21"/><stop offset="1" stop-color="#bc2b20"/></linearGradient><linearGradient id="h3_66"><stop offset=".002" stop-color="#b82a20"/><stop offset=".335" stop-color="#b82a20"/><stop offset=".385" stop-color="#b92a20"/><stop offset=".41" stop-color="#ba2b20"/><stop offset=".427" stop-color="#c52f21"/><stop offset=".452" stop-color="#f7874b"/><stop offset=".477" stop-color="#f0f9db"/><stop offset=".502" stop-color="#bee2ee"/><stop offset=".527" stop-color="#f0f9db"/><stop offset=".552" stop-color="#f7874b"/><stop offset=".577" stop-color="#c52f21"/><stop offset=".593" stop-color="#ba2b20"/><stop offset=".618" stop-color="#b92a20"/><stop offset=".668" stop-color="#b82a20"/><stop offset="1" stop-color="#b82a20"/></linearGradient><linearGradient id="h3_67"><stop offset=".002" stop-color="#b82a20"/><stop offset=".335" stop-color="#b92a20"/><stop offset=".385" stop-color="#b92a20"/><stop offset=".41" stop-color="#bb2b20"/><stop offset=".427" stop-color="#c62f21"/><stop offset=".452" stop-color="#f78a4c"/><stop offset=".477" stop-color="#ebf7e4"/><stop offset=".502" stop-color="#b4ddec"/><stop offset=".527" stop-color="#ebf7e4"/><stop offset=".552" stop-color="#f78a4c"/><stop offset=".577" stop-color="#c62f21"/><stop offset=".593" stop-color="#bb2b20"/><stop offset=".618" stop-color="#b92a20"/><stop offset=".668" stop-color="#b92a20"/><stop offset="1" stop-color="#b82a20"/></linearGradient><linearGradient id="h3_68"><stop offset=".002" stop-color="#b92a20"/><stop offset=".335" stop-color="#b92a20"/><stop offset=".385" stop-color="#ba2a20"/><stop offset=".41" stop-color="#ba2b20"/><stop offset=".427" stop-color="#bf2c21"/><stop offset=".452" stop-color="#ed6438"/><stop offset=".477" stop-color="#ffffbf"/><stop offset=".502" stop-color="#ceeaf3"/><stop offset=".527" stop-color="#ffffbf"/><stop offset=".552" stop-color="#ed6438"/><stop offset=".577" stop-color="#bf2c21"/><stop offset=".593" stop-color="#ba2b20"/><stop offset=".618" stop-color="#ba2a20"/><stop offset=".668" stop-color="#b92a20"/><stop offset="1" stop-color="#b92a20"/></linearGradient><linearGradient id="h3_69"><stop offset=".002" stop-color="#b72a20"/><stop offset=".335" stop-color="#b82a20"/><stop offset=".385" stop-color="#b82a20"/><stop offset=".41" stop-color="#ba2b20"/><stop offset=".427" stop-color="#c62f22"/><stop offset=".452" stop-color="#f78a4c"/><stop offset=".477" stop-color="#f2fad8"/><stop offset=".502" stop-color="#c5e6f0"/><stop offset=".527" stop-color="#f2fad8"/><stop offset=".552" stop-color="#f78a4c"/><stop offset=".577" stop-color="#c62f22"/><stop offset=".593" stop-color="#ba2b20"/><stop offset=".618" stop-color="#b82a20"/><stop offset=".668" stop-color="#b82a20"/><stop offset="1" stop-color="#b72a20"/></linearGradient><linearGradient id="h3_70"><stop offset=".002" stop-color="#ba2b20"/><stop offset=".335" stop-color="#ba2b20"/><stop offset=".385" stop-color="#bb2b20"/><stop offset=".41" stop-color="#bc2b20"/><stop offset=".427" stop-color="#c52f21"/><stop offset=".452" stop-color="#f68348"/><stop offset=".477" stop-color="#eef8df"/><stop offset=".502" stop-color="#b6deec"/><stop offset=".527" stop-color="#eef8df"/><stop offset=".552" stop-color="#f68348"/><stop offset=".577" stop-color="#c52f21"/><stop offset=".593" stop-color="#bc2b20"/><stop offset=".618" stop-color="#bb2b20"/><stop offset=".668" stop-color="#ba2b20"/><stop offset="1" stop-color="#ba2b20"/></linearGradient><linearGradient id="h3_71"><stop offset=".002" stop-color="#b42920"/><stop offset=".335" stop-color="#b52920"/><stop offset=".385" stop-color="#b52920"/><stop offset=".41" stop-color="#b62920"/><stop offset=".427" stop-color="#c12d21"/><stop offset=".452" stop-color="#f68046"/><stop offset=".477" stop-color="#f3fad5"/><stop offset=".502" stop-color="#c3e5f0"/><stop offset=".527" stop-color="#f3fad5"/><stop offset=".552" stop-color="#f68046"/><stop offset=".577" stop-color="#c12d21"/><stop offset=".593" stop-color="#b62920"/><stop offset=".618" stop-color="#b52920"/><stop offset=".668" stop-color="#b52920"/><stop offset="1" stop-color="#b42920"/></linearGradient><linearGradient id="h3_72"><stop offset=".002" stop-color="#b2281f"/><stop offset=".335" stop-color="#b2281f"/><stop offset=".385" stop-color="#b2281f"/><stop offset=".41" stop-color="#b3281f"/><stop offset=".427" stop-color="#b62920"/><stop offset=".452" stop-color="#e24e2e"/><stop offset=".477" stop-color="#fff7b3"/><stop offset=".502" stop-color="#d3edf4"/><stop offset=".527" stop-color="#fff7b3"/><stop offset=".552" stop-color="#e24e2e"/><stop offset=".577" stop-color="#b62920"/><stop offset=".593" stop-color="#b3281f"/><stop offset=".618" stop-color="#b2281f"/><stop offset=".668" stop-color="#b2281f"/><stop offset="1" stop-color="#b2281f"/></linearGradient><linearGradient id="h3_73"><stop offset=".002" stop-color="#b0271f"/><stop offset=".335" stop-color="#b0271f"/><stop offset=".385" stop-color="#b0271f"/><stop offset=".41" stop-color="#b1271f"/><stop offset=".427" stop-color="#b72a20"/><stop offset=".452" stop-color="#ef6739"/><stop offset=".477" stop-color="#f9fdca"/><stop offset=".502" stop-color="#c4e5f0"/><stop offset=".527" stop-color="#f9fdca"/><stop offset=".552" stop-color="#ef6739"/><stop offset=".577" stop-color="#b72a20"/><stop offset=".593" stop-color="#b1271f"/><stop offset=".618" stop-color="#b0271f"/><stop offset=".668" stop-color="#b0271f"/><stop offset="1" stop-color="#b0271f"/></linearGradient><filter id="streakD" x="0" y="0" width="100%" height="100%" filterUnits="objectBoundingBox" primitiveUnits="userSpaceOnUse"><feTurbulence type="fractalNoise" baseFrequency="0.04 0.7" numOctaves="2" seed="5" result="n"/><feColorMatrix in="n" type="matrix" values="0 0 0 0 0  0 0 0 0 0  0 0 0 0 0  0.3 0 0 0 -0.16"/><feComposite in="SourceGraphic" operator="in"/></filter><filter id="streakL" x="0" y="0" width="100%" height="100%" filterUnits="objectBoundingBox" primitiveUnits="userSpaceOnUse"><feTurbulence type="fractalNoise" baseFrequency="0.04 0.7" numOctaves="2" seed="11" result="n"/><feColorMatrix in="n" type="matrix" values="0 0 0 0 0  0 0 0 0 0  0 0 0 0 0  0.45 0 0 0 -0.22"/><feComposite in="SourceGraphic" operator="in"/></filter><linearGradient id="cbar" x1="0" y1="1" x2="0" y2="0"><stop offset="0.00" stop-color="#a5231e"/><stop offset="0.10" stop-color="#d43423"/><stop offset="0.20" stop-color="#f36e3c"/><stop offset="0.30" stop-color="#fdae61"/><stop offset="0.40" stop-color="#fee090"/><stop offset="0.50" stop-color="#ffffbf"/><stop offset="0.60" stop-color="#e0f3f8"/><stop offset="0.70" stop-color="#abd9e9"/><stop offset="0.80" stop-color="#74add1"/><stop offset="0.90" stop-color="#4575b4"/><stop offset="1.00" stop-color="#313695"/></linearGradient></defs>
<rect width="685" height="443" fill="#fff"/>
<text x="0.2" y="9.9" font-size="12" text-anchor="start" fill="#000" font-weight="bold" >a</text>
<rect x="40.5" y="10.5" width="125" height="106" fill="none" stroke="#a6a6a6" stroke-width="1"/>
<line x1="103.5" y1="10.5" x2="103.5" y2="116.3" stroke="#333" stroke-width="0.9" stroke-dasharray="3.2,1.8"/>
<path d="M40.28,20.34 C40.53,20.50 40.28,21.38 41.80,21.29 C43.32,21.20 46.86,20.24 49.39,19.77 C51.92,19.30 54.13,18.85 56.98,18.44 C59.83,18.03 63.31,17.65 66.47,17.30 C69.63,16.95 73.59,16.48 75.96,16.35 C78.33,16.22 79.28,16.29 80.70,16.54 C82.12,16.79 83.23,16.92 84.50,17.87 C85.77,18.82 87.03,20.39 88.29,22.23 C89.56,24.07 90.82,26.03 92.09,28.88 C93.36,31.73 94.62,36.00 95.89,39.32 C97.16,42.64 98.57,46.27 99.68,48.80 C100.79,51.33 101.58,54.66 102.53,54.50 C103.48,54.34 104.27,50.55 105.38,47.86 C106.49,45.17 107.91,41.69 109.17,38.37 C110.44,35.05 111.55,30.93 112.97,27.93 C114.39,24.93 116.29,22.08 117.71,20.34 C119.13,18.60 120.09,18.15 121.51,17.49 C122.93,16.82 124.35,16.45 126.25,16.35 C128.15,16.26 130.52,16.64 132.89,16.92 C135.26,17.21 137.96,17.65 140.49,18.06 C143.02,18.47 146.18,19.01 148.08,19.39 C149.98,19.77 149.97,20.15 151.87,20.34 C153.77,20.53 157.25,20.37 159.47,20.53 C161.69,20.69 164.21,21.16 165.16,21.29" fill="none" stroke="#e8473d" stroke-width="1"/>
<text x="37.3" y="14" font-size="7.8" text-anchor="end" fill="#444" textLength="16" lengthAdjust="spacingAndGlyphs" >0.03</text>
<text x="37.2" y="117.6" font-size="7.8" text-anchor="end" fill="#444" >0</text>
<text x="39.6" y="127.1" font-size="7.8" text-anchor="middle" fill="#333" >−4</text>
<text x="161.8" y="127.1" font-size="7.8" text-anchor="middle" fill="#333" >4</text>
<text x="103.5" y="126.8" font-size="8.2" text-anchor="middle" fill="#3c3c3c" textLength="39.5" lengthAdjust="spacingAndGlyphs" >MBH center</text>
<text x="103.5" y="134.6" font-size="8" text-anchor="middle" fill="#3c3c3c" >(kb)</text>
<text x="103.5" y="148.7" font-size="9.2" text-anchor="middle" fill="#3c3c3c" textLength="52.3" lengthAdjust="spacingAndGlyphs" >Distance (kb)</text>
<text x="0" y="0" font-size="9" fill="#3c3c3c" text-anchor="middle" textLength="35" lengthAdjust="spacingAndGlyphs" transform="translate(24.8,63.5) rotate(-90)">mCA/CA</text>
<rect x="201.5" y="9.5" width="126" height="106" fill="none" stroke="#a6a6a6" stroke-width="1"/>
<line x1="265.4" y1="9.5" x2="265.4" y2="115.9" stroke="#333" stroke-width="0.9" stroke-dasharray="3.2,1.8"/>
<path d="M201.80,23.60 C203.23,23.78 207.07,24.55 210.40,24.70 C213.73,24.85 217.37,24.37 221.80,24.50 C226.23,24.63 232.58,24.92 237.00,25.50 C241.42,26.08 245.15,26.17 248.30,28.00 C251.45,29.83 253.83,32.57 255.90,36.50 C257.97,40.43 259.27,47.40 260.70,51.60 C262.13,55.80 263.08,62.00 264.50,61.70 C265.92,61.40 267.62,54.32 269.20,49.80 C270.78,45.28 271.78,38.40 274.00,34.60 C276.22,30.80 279.18,28.58 282.50,27.00 C285.82,25.42 288.83,25.52 293.90,25.10 C298.97,24.68 307.37,24.67 312.90,24.50 C318.43,24.33 324.73,24.17 327.10,24.10" fill="none" stroke="#e8473d" stroke-width="1"/>
<text x="198.3" y="33.6" font-size="7.8" text-anchor="end" fill="#444" textLength="11" lengthAdjust="spacingAndGlyphs" >0.4</text>
<text x="197" y="116.9" font-size="7.8" text-anchor="end" fill="#444" >0</text>
<text x="203.4" y="126.7" font-size="7.8" text-anchor="middle" fill="#333" >−4</text>
<text x="326.3" y="126.7" font-size="7.8" text-anchor="middle" fill="#333" >4</text>
<text x="265.4" y="126.4" font-size="8.2" text-anchor="middle" fill="#3c3c3c" textLength="39.5" lengthAdjust="spacingAndGlyphs" >MBH center</text>
<text x="265.4" y="134.20000000000002" font-size="8" text-anchor="middle" fill="#3c3c3c" >(kb)</text>
<text x="265.4" y="148.3" font-size="9.2" text-anchor="middle" fill="#3c3c3c" textLength="52.3" lengthAdjust="spacingAndGlyphs" >Distance (kb)</text>
<text x="0" y="0" font-size="9" fill="#3c3c3c" text-anchor="middle" textLength="35.5" lengthAdjust="spacingAndGlyphs" transform="translate(185.8,62.7) rotate(-90)">mCG/CG</text>
<text x="374.2" y="9.6" font-size="12" text-anchor="start" fill="#000" font-weight="bold" >b</text>
<rect x="431.5" y="25.5" width="144" height="102" fill="none" stroke="#b4b4b4" stroke-width="1"/>
<rect x="438" y="31" width="131" height="28" fill="#808080"/>
<line x1="428.5" y1="45.0" x2="431.6" y2="45.0" stroke="#555" stroke-width="0.7"/>
<text x="424.5" y="47.7" font-size="7.5" text-anchor="end" fill="#3c3c3c" >No change</text>
<rect x="438" y="63" width="33" height="28.599999999999994" fill="#808080"/>
<line x1="428.5" y1="77.3" x2="431.6" y2="77.3" stroke="#555" stroke-width="0.7"/>
<text x="424.5" y="80.0" font-size="7.5" text-anchor="end" fill="#3c3c3c" >Gain</text>
<rect x="438" y="95" width="37" height="28.599999999999994" fill="#808080"/>
<line x1="428.5" y1="109.3" x2="431.6" y2="109.3" stroke="#555" stroke-width="0.7"/>
<text x="424.5" y="112.0" font-size="7.5" text-anchor="end" fill="#3c3c3c" >Loss</text>
<line x1="438.0" y1="127.9" x2="438.0" y2="131" stroke="#555" stroke-width="0.7"/>
<text x="438.0" y="141.3" font-size="7.5" text-anchor="middle" fill="#3c3c3c" >0</text>
<line x1="481.25" y1="127.9" x2="481.25" y2="131" stroke="#555" stroke-width="0.7"/>
<text x="481.25" y="141.3" font-size="7.5" text-anchor="middle" fill="#3c3c3c" >5,000</text>
<line x1="524.5" y1="127.9" x2="524.5" y2="131" stroke="#555" stroke-width="0.7"/>
<text x="524.5" y="141.3" font-size="7.5" text-anchor="middle" fill="#3c3c3c" >10,000</text>
<line x1="567.75" y1="127.9" x2="567.75" y2="131" stroke="#555" stroke-width="0.7"/>
<text x="567.75" y="141.3" font-size="7.5" text-anchor="middle" fill="#3c3c3c" >15,000</text>
<text x="503" y="152.8" font-size="8.7" text-anchor="middle" fill="#3c3c3c" textLength="49.2" lengthAdjust="spacingAndGlyphs" >No. of MBHs</text>
<text x="0" y="0" font-size="8.6" fill="#3c3c3c" text-anchor="middle" textLength="93" lengthAdjust="spacingAndGlyphs" transform="translate(382.3,77.3) rotate(-90)"><tspan font-style="italic">Dnmt3a</tspan> cKO versus WT</text>
<text x="-0.2" y="172.5" font-size="12" text-anchor="start" fill="#000" font-weight="bold" >c</text>
<text x="152.2" y="174" font-size="8.4" text-anchor="middle" fill="#3c3c3c" textLength="28" lengthAdjust="spacingAndGlyphs" >MeCP2</text>
<line x1="24.4" y1="178.5" x2="278.6" y2="178.5" stroke="#8a8a8a" stroke-width="0.9"/>
<text x="55.199999999999996" y="191.2" font-size="7.5" fill="#3c3c3c" text-anchor="middle" textLength="56.9" lengthAdjust="spacingAndGlyphs"><tspan font-style="italic">Dnmt3a</tspan> WT Rep1</text>
<rect x="25.5" y="195.5" width="60.0" height="59" fill="none" stroke="#b0b0b0" stroke-width="1"/>
<line x1="22.8" y1="233.0" x2="25.3" y2="233.0" stroke="#777" stroke-width="0.6"/>
<line x1="22.8" y1="211.29999999999998" x2="25.3" y2="211.29999999999998" stroke="#777" stroke-width="0.6"/>
<line x1="25.3" y1="254.0" x2="25.3" y2="255.8" stroke="#777" stroke-width="0.6"/>
<line x1="55.199999999999996" y1="254.0" x2="55.199999999999996" y2="255.8" stroke="#777" stroke-width="0.6"/>
<line x1="85.1" y1="254.0" x2="85.1" y2="255.8" stroke="#777" stroke-width="0.6"/>
<polyline points="25.30,251.57 25.80,251.57 26.30,251.56 26.80,251.55 27.29,251.55 27.79,251.54 28.29,251.53 28.79,251.52 29.29,251.52 29.79,251.51 30.28,251.50 30.78,251.49 31.28,251.47 31.78,251.46 32.28,251.45 32.77,251.44 33.27,251.42 33.77,251.41 34.27,251.39 34.77,251.37 35.27,251.35 35.77,251.33 36.26,251.31 36.76,251.29 37.26,251.26 37.76,251.24 38.26,251.21 38.76,251.17 39.25,251.14 39.75,251.10 40.25,251.06 40.75,251.01 41.25,250.96 41.75,250.90 42.24,250.84 42.74,250.77 43.24,250.69 43.74,250.61 44.24,250.51 44.73,250.39 45.23,250.26 45.73,250.11 46.23,249.92 46.73,249.69 47.23,249.39 47.73,249.01 48.22,248.51 48.72,247.84 49.22,246.95 49.72,245.78 50.22,244.26 50.72,242.35 51.21,240.00 51.71,237.22 52.21,234.05 52.71,230.62 53.21,227.10 53.70,223.77 54.20,220.98 54.70,219.09 55.20,218.42 55.70,219.09 56.20,220.98 56.69,223.77 57.19,227.10 57.69,230.62 58.19,234.05 58.69,237.22 59.19,240.00 59.69,242.35 60.18,244.26 60.68,245.78 61.18,246.95 61.68,247.84 62.18,248.51 62.67,249.01 63.17,249.39 63.67,249.69 64.17,249.92 64.67,250.11 65.17,250.26 65.67,250.39 66.16,250.51 66.66,250.61 67.16,250.69 67.66,250.77 68.16,250.84 68.66,250.90 69.15,250.96 69.65,251.01 70.15,251.06 70.65,251.10 71.15,251.14 71.64,251.17 72.14,251.21 72.64,251.24 73.14,251.26 73.64,251.29 74.14,251.31 74.64,251.33 75.13,251.35 75.63,251.37 76.13,251.39 76.63,251.41 77.13,251.42 77.62,251.44 78.12,251.45 78.62,251.46 79.12,251.47 79.62,251.49 80.12,251.50 80.61,251.51 81.11,251.52 81.61,251.52 82.11,251.53 82.61,251.54 83.11,251.55 83.60,251.55 84.10,251.56 84.60,251.57 85.10,251.57" fill="none" stroke="#4646a4" stroke-width="0.85"/>
<text x="119.7" y="191.2" font-size="7.5" fill="#3c3c3c" text-anchor="middle" textLength="59.5" lengthAdjust="spacingAndGlyphs"><tspan font-style="italic">Dnmt3a</tspan> WT Rep2</text>
<rect x="89.5" y="195.5" width="60.0" height="59" fill="none" stroke="#b0b0b0" stroke-width="1"/>
<line x1="87.4" y1="233.0" x2="89.9" y2="233.0" stroke="#777" stroke-width="0.6"/>
<line x1="87.4" y1="211.29999999999998" x2="89.9" y2="211.29999999999998" stroke="#777" stroke-width="0.6"/>
<line x1="89.9" y1="254.0" x2="89.9" y2="255.8" stroke="#777" stroke-width="0.6"/>
<line x1="119.7" y1="254.0" x2="119.7" y2="255.8" stroke="#777" stroke-width="0.6"/>
<line x1="149.5" y1="254.0" x2="149.5" y2="255.8" stroke="#777" stroke-width="0.6"/>
<polyline points="89.90,251.57 90.40,251.57 90.89,251.56 91.39,251.56 91.89,251.55 92.38,251.54 92.88,251.53 93.38,251.53 93.87,251.52 94.37,251.51 94.87,251.50 95.36,251.49 95.86,251.48 96.36,251.47 96.85,251.46 97.35,251.45 97.85,251.43 98.34,251.42 98.84,251.41 99.34,251.39 99.83,251.37 100.33,251.35 100.83,251.33 101.32,251.31 101.82,251.29 102.32,251.26 102.81,251.24 103.31,251.21 103.81,251.17 104.30,251.14 104.80,251.10 105.30,251.06 105.79,251.01 106.29,250.96 106.79,250.90 107.28,250.84 107.78,250.77 108.28,250.69 108.77,250.60 109.27,250.49 109.77,250.37 110.26,250.23 110.76,250.06 111.26,249.85 111.75,249.58 112.25,249.23 112.75,248.77 113.24,248.15 113.74,247.34 114.24,246.26 114.73,244.88 115.23,243.13 115.73,240.99 116.22,238.46 116.72,235.59 117.22,232.48 117.71,229.29 118.21,226.28 118.71,223.75 119.20,222.05 119.70,221.44 120.20,222.05 120.69,223.75 121.19,226.28 121.69,229.29 122.18,232.48 122.68,235.59 123.18,238.46 123.67,240.99 124.17,243.13 124.67,244.88 125.16,246.26 125.66,247.34 126.16,248.15 126.65,248.77 127.15,249.23 127.65,249.58 128.14,249.85 128.64,250.06 129.14,250.23 129.63,250.37 130.13,250.49 130.63,250.60 131.12,250.69 131.62,250.77 132.12,250.84 132.61,250.90 133.11,250.96 133.61,251.01 134.10,251.06 134.60,251.10 135.10,251.14 135.59,251.17 136.09,251.21 136.59,251.24 137.08,251.26 137.58,251.29 138.08,251.31 138.57,251.33 139.07,251.35 139.57,251.37 140.06,251.39 140.56,251.41 141.06,251.42 141.55,251.43 142.05,251.45 142.55,251.46 143.04,251.47 143.54,251.48 144.04,251.49 144.53,251.50 145.03,251.51 145.53,251.52 146.02,251.53 146.52,251.53 147.02,251.54 147.51,251.55 148.01,251.56 148.51,251.56 149.00,251.57 149.50,251.57" fill="none" stroke="#4646a4" stroke-width="0.85"/>
<text x="184.75" y="191.2" font-size="7.5" fill="#3c3c3c" text-anchor="middle" textLength="60" lengthAdjust="spacingAndGlyphs"><tspan font-style="italic">Dnmt3a</tspan> cKO Rep1</text>
<rect x="154.5" y="195.5" width="60.0" height="59" fill="none" stroke="#b0b0b0" stroke-width="1"/>
<line x1="152.4" y1="233.0" x2="154.9" y2="233.0" stroke="#777" stroke-width="0.6"/>
<line x1="152.4" y1="211.29999999999998" x2="154.9" y2="211.29999999999998" stroke="#777" stroke-width="0.6"/>
<line x1="154.9" y1="254.0" x2="154.9" y2="255.8" stroke="#777" stroke-width="0.6"/>
<line x1="184.75" y1="254.0" x2="184.75" y2="255.8" stroke="#777" stroke-width="0.6"/>
<line x1="214.6" y1="254.0" x2="214.6" y2="255.8" stroke="#777" stroke-width="0.6"/>
<polyline points="154.90,251.57 155.40,251.56 155.90,251.55 156.39,251.54 156.89,251.53 157.39,251.52 157.88,251.51 158.38,251.49 158.88,251.48 159.38,251.46 159.88,251.45 160.37,251.43 160.87,251.41 161.37,251.39 161.87,251.37 162.36,251.35 162.86,251.33 163.36,251.30 163.86,251.28 164.35,251.25 164.85,251.22 165.35,251.19 165.84,251.15 166.34,251.12 166.84,251.07 167.34,251.03 167.84,250.98 168.33,250.93 168.83,250.87 169.33,250.81 169.82,250.74 170.32,250.67 170.82,250.59 171.32,250.50 171.81,250.40 172.31,250.28 172.81,250.16 173.31,250.02 173.81,249.86 174.30,249.68 174.80,249.47 175.30,249.22 175.80,248.92 176.29,248.55 176.79,248.07 177.29,247.46 177.78,246.65 178.28,245.58 178.78,244.15 179.28,242.27 179.78,239.83 180.27,236.77 180.77,233.01 181.27,228.56 181.76,223.51 182.26,218.02 182.76,212.40 183.26,207.09 183.75,202.64 184.25,199.63 184.75,198.57 185.25,199.63 185.75,202.64 186.24,207.09 186.74,212.40 187.24,218.02 187.74,223.51 188.23,228.56 188.73,233.01 189.23,236.77 189.72,239.83 190.22,242.27 190.72,244.15 191.22,245.58 191.72,246.65 192.21,247.46 192.71,248.07 193.21,248.55 193.70,248.92 194.20,249.22 194.70,249.47 195.20,249.68 195.69,249.86 196.19,250.02 196.69,250.16 197.19,250.28 197.69,250.40 198.18,250.50 198.68,250.59 199.18,250.67 199.68,250.74 200.17,250.81 200.67,250.87 201.17,250.93 201.66,250.98 202.16,251.03 202.66,251.07 203.16,251.12 203.66,251.15 204.15,251.19 204.65,251.22 205.15,251.25 205.64,251.28 206.14,251.30 206.64,251.33 207.14,251.35 207.63,251.37 208.13,251.39 208.63,251.41 209.13,251.43 209.62,251.45 210.12,251.46 210.62,251.48 211.12,251.49 211.62,251.51 212.11,251.52 212.61,251.53 213.11,251.54 213.60,251.55 214.10,251.56 214.60,251.57" fill="none" stroke="#4646a4" stroke-width="0.85"/>
<text x="249.5" y="191.2" font-size="7.5" fill="#3c3c3c" text-anchor="middle" textLength="61.5" lengthAdjust="spacingAndGlyphs"><tspan font-style="italic">Dnmt3a</tspan> cKO Rep2</text>
<rect x="219.5" y="195.5" width="60.0" height="59" fill="none" stroke="#b0b0b0" stroke-width="1"/>
<line x1="217.0" y1="233.0" x2="219.5" y2="233.0" stroke="#777" stroke-width="0.6"/>
<line x1="217.0" y1="211.29999999999998" x2="219.5" y2="211.29999999999998" stroke="#777" stroke-width="0.6"/>
<line x1="219.5" y1="254.0" x2="219.5" y2="255.8" stroke="#777" stroke-width="0.6"/>
<line x1="249.5" y1="254.0" x2="249.5" y2="255.8" stroke="#777" stroke-width="0.6"/>
<line x1="279.5" y1="254.0" x2="279.5" y2="255.8" stroke="#777" stroke-width="0.6"/>
<polyline points="219.50,251.58 220.00,251.57 220.50,251.56 221.00,251.55 221.50,251.53 222.00,251.52 222.50,251.51 223.00,251.50 223.50,251.48 224.00,251.47 224.50,251.45 225.00,251.44 225.50,251.42 226.00,251.40 226.50,251.38 227.00,251.36 227.50,251.34 228.00,251.31 228.50,251.29 229.00,251.26 229.50,251.23 230.00,251.20 230.50,251.17 231.00,251.13 231.50,251.09 232.00,251.05 232.50,251.00 233.00,250.95 233.50,250.89 234.00,250.83 234.50,250.77 235.00,250.70 235.50,250.62 236.00,250.53 236.50,250.43 237.00,250.32 237.50,250.20 238.00,250.06 238.50,249.91 239.00,249.73 239.50,249.52 240.00,249.28 240.50,248.99 241.00,248.63 241.50,248.17 242.00,247.58 242.50,246.80 243.00,245.76 243.50,244.37 244.00,242.53 244.50,240.16 245.00,237.16 245.50,233.47 246.00,229.10 246.50,224.12 247.00,218.71 247.50,213.15 248.00,207.89 248.50,203.47 249.00,200.49 249.50,199.43 250.00,200.49 250.50,203.47 251.00,207.89 251.50,213.15 252.00,218.71 252.50,224.12 253.00,229.10 253.50,233.47 254.00,237.16 254.50,240.16 255.00,242.53 255.50,244.37 256.00,245.76 256.50,246.80 257.00,247.58 257.50,248.17 258.00,248.63 258.50,248.99 259.00,249.28 259.50,249.52 260.00,249.73 260.50,249.91 261.00,250.06 261.50,250.20 262.00,250.32 262.50,250.43 263.00,250.53 263.50,250.62 264.00,250.70 264.50,250.77 265.00,250.83 265.50,250.89 266.00,250.95 266.50,251.00 267.00,251.05 267.50,251.09 268.00,251.13 268.50,251.17 269.00,251.20 269.50,251.23 270.00,251.26 270.50,251.29 271.00,251.31 271.50,251.34 272.00,251.36 272.50,251.38 273.00,251.40 273.50,251.42 274.00,251.44 274.50,251.45 275.00,251.47 275.50,251.48 276.00,251.50 276.50,251.51 277.00,251.52 277.50,251.53 278.00,251.55 278.50,251.56 279.00,251.57 279.50,251.58" fill="none" stroke="#4646a4" stroke-width="0.85"/>
<text x="19.5" y="214" font-size="7.6" text-anchor="end" fill="#3c3c3c" >10</text>
<text x="19.5" y="235.6" font-size="7.6" text-anchor="end" fill="#3c3c3c" >5</text>
<text x="0" y="0" font-size="8.6" fill="#3c3c3c" text-anchor="middle" textLength="50" lengthAdjust="spacingAndGlyphs" transform="translate(8.3,225) rotate(-90)">Read density</text>
<rect x="25.3" y="259" width="59.8" height="2" fill="url(#h0_0)" shape-rendering="crispEdges"/>
<rect x="25.3" y="261" width="59.8" height="2" fill="url(#h0_1)" shape-rendering="crispEdges"/>
<rect x="25.3" y="263" width="59.8" height="2" fill="url(#h0_2)" shape-rendering="crispEdges"/>
<rect x="25.3" y="265" width="59.8" height="2" fill="url(#h0_3)" shape-rendering="crispEdges"/>
<rect x="25.3" y="267" width="59.8" height="2" fill="url(#h0_4)" shape-rendering="crispEdges"/>
<rect x="25.3" y="269" width="59.8" height="2" fill="url(#h0_5)" shape-rendering="crispEdges"/>
<rect x="25.3" y="271" width="59.8" height="2" fill="url(#h0_6)" shape-rendering="crispEdges"/>
<rect x="25.3" y="273" width="59.8" height="2" fill="url(#h0_7)" shape-rendering="crispEdges"/>
<rect x="25.3" y="275" width="59.8" height="2" fill="url(#h0_8)" shape-rendering="crispEdges"/>
<rect x="25.3" y="277" width="59.8" height="2" fill="url(#h0_9)" shape-rendering="crispEdges"/>
<rect x="25.3" y="279" width="59.8" height="2" fill="url(#h0_10)" shape-rendering="crispEdges"/>
<rect x="25.3" y="281" width="59.8" height="2" fill="url(#h0_11)" shape-rendering="crispEdges"/>
<rect x="25.3" y="283" width="59.8" height="2" fill="url(#h0_12)" shape-rendering="crispEdges"/>
<rect x="25.3" y="285" width="59.8" height="2" fill="url(#h0_13)" shape-rendering="crispEdges"/>
<rect x="25.3" y="287" width="59.8" height="2" fill="url(#h0_14)" shape-rendering="crispEdges"/>
<rect x="25.3" y="289" width="59.8" height="2" fill="url(#h0_15)" shape-rendering="crispEdges"/>
<rect x="25.3" y="291" width="59.8" height="2" fill="url(#h0_16)" shape-rendering="crispEdges"/>
<rect x="25.3" y="293" width="59.8" height="2" fill="url(#h0_17)" shape-rendering="crispEdges"/>
<rect x="25.3" y="295" width="59.8" height="2" fill="url(#h0_18)" shape-rendering="crispEdges"/>
<rect x="25.3" y="297" width="59.8" height="2" fill="url(#h0_19)" shape-rendering="crispEdges"/>
<rect x="25.3" y="299" width="59.8" height="2" fill="url(#h0_20)" shape-rendering="crispEdges"/>
<rect x="25.3" y="301" width="59.8" height="2" fill="url(#h0_21)" shape-rendering="crispEdges"/>
<rect x="25.3" y="303" width="59.8" height="2" fill="url(#h0_22)" shape-rendering="crispEdges"/>
<rect x="25.3" y="305" width="59.8" height="2" fill="url(#h0_23)" shape-rendering="crispEdges"/>
<rect x="25.3" y="307" width="59.8" height="2" fill="url(#h0_24)" shape-rendering="crispEdges"/>
<rect x="25.3" y="309" width="59.8" height="2" fill="url(#h0_25)" shape-rendering="crispEdges"/>
<rect x="25.3" y="311" width="59.8" height="2" fill="url(#h0_26)" shape-rendering="crispEdges"/>
<rect x="25.3" y="313" width="59.8" height="2" fill="url(#h0_27)" shape-rendering="crispEdges"/>
<rect x="25.3" y="315" width="59.8" height="2" fill="url(#h0_28)" shape-rendering="crispEdges"/>
<rect x="25.3" y="317" width="59.8" height="2" fill="url(#h0_29)" shape-rendering="crispEdges"/>
<rect x="25.3" y="319" width="59.8" height="2" fill="url(#h0_30)" shape-rendering="crispEdges"/>
<rect x="25.3" y="321" width="59.8" height="2" fill="url(#h0_31)" shape-rendering="crispEdges"/>
<rect x="25.3" y="323" width="59.8" height="2" fill="url(#h0_32)" shape-rendering="crispEdges"/>
<rect x="25.3" y="325" width="59.8" height="2" fill="url(#h0_33)" shape-rendering="crispEdges"/>
<rect x="25.3" y="327" width="59.8" height="2" fill="url(#h0_34)" shape-rendering="crispEdges"/>
<rect x="25.3" y="329" width="59.8" height="2" fill="url(#h0_35)" shape-rendering="crispEdges"/>
<rect x="25.3" y="331" width="59.8" height="2" fill="url(#h0_36)" shape-rendering="crispEdges"/>
<rect x="25.3" y="333" width="59.8" height="2" fill="url(#h0_37)" shape-rendering="crispEdges"/>
<rect x="25.3" y="335" width="59.8" height="2" fill="url(#h0_38)" shape-rendering="crispEdges"/>
<rect x="25.3" y="337" width="59.8" height="2" fill="url(#h0_39)" shape-rendering="crispEdges"/>
<rect x="25.3" y="339" width="59.8" height="2" fill="url(#h0_40)" shape-rendering="crispEdges"/>
<rect x="25.3" y="341" width="59.8" height="2" fill="url(#h0_41)" shape-rendering="crispEdges"/>
<rect x="25.3" y="343" width="59.8" height="2" fill="url(#h0_42)" shape-rendering="crispEdges"/>
<rect x="25.3" y="345" width="59.8" height="2" fill="url(#h0_43)" shape-rendering="crispEdges"/>
<rect x="25.3" y="347" width="59.8" height="2" fill="url(#h0_44)" shape-rendering="crispEdges"/>
<rect x="25.3" y="349" width="59.8" height="2" fill="url(#h0_45)" shape-rendering="crispEdges"/>
<rect x="25.3" y="351" width="59.8" height="2" fill="url(#h0_46)" shape-rendering="crispEdges"/>
<rect x="25.3" y="353" width="59.8" height="2" fill="url(#h0_47)" shape-rendering="crispEdges"/>
<rect x="25.3" y="355" width="59.8" height="2" fill="url(#h0_48)" shape-rendering="crispEdges"/>
<rect x="25.3" y="357" width="59.8" height="2" fill="url(#h0_49)" shape-rendering="crispEdges"/>
<rect x="25.3" y="359" width="59.8" height="2" fill="url(#h0_50)" shape-rendering="crispEdges"/>
<rect x="25.3" y="361" width="59.8" height="2" fill="url(#h0_51)" shape-rendering="crispEdges"/>
<rect x="25.3" y="363" width="59.8" height="2" fill="url(#h0_52)" shape-rendering="crispEdges"/>
<rect x="25.3" y="365" width="59.8" height="2" fill="url(#h0_53)" shape-rendering="crispEdges"/>
<rect x="25.3" y="367" width="59.8" height="2" fill="url(#h0_54)" shape-rendering="crispEdges"/>
<rect x="25.3" y="369" width="59.8" height="2" fill="url(#h0_55)" shape-rendering="crispEdges"/>
<rect x="25.3" y="371" width="59.8" height="2" fill="url(#h0_56)" shape-rendering="crispEdges"/>
<rect x="25.3" y="373" width="59.8" height="2" fill="url(#h0_57)" shape-rendering="crispEdges"/>
<rect x="25.3" y="375" width="59.8" height="2" fill="url(#h0_58)" shape-rendering="crispEdges"/>
<rect x="25.3" y="377" width="59.8" height="2" fill="url(#h0_59)" shape-rendering="crispEdges"/>
<rect x="25.3" y="379" width="59.8" height="2" fill="url(#h0_60)" shape-rendering="crispEdges"/>
<rect x="25.3" y="381" width="59.8" height="2" fill="url(#h0_61)" shape-rendering="crispEdges"/>
<rect x="25.3" y="383" width="59.8" height="2" fill="url(#h0_62)" shape-rendering="crispEdges"/>
<rect x="25.3" y="385" width="59.8" height="2" fill="url(#h0_63)" shape-rendering="crispEdges"/>
<rect x="25.3" y="387" width="59.8" height="2" fill="url(#h0_64)" shape-rendering="crispEdges"/>
<rect x="25.3" y="389" width="59.8" height="2" fill="url(#h0_65)" shape-rendering="crispEdges"/>
<rect x="25.3" y="391" width="59.8" height="2" fill="url(#h0_66)" shape-rendering="crispEdges"/>
<rect x="25.3" y="393" width="59.8" height="2" fill="url(#h0_67)" shape-rendering="crispEdges"/>
<rect x="25.3" y="395" width="59.8" height="2" fill="url(#h0_68)" shape-rendering="crispEdges"/>
<rect x="25.3" y="397" width="59.8" height="2" fill="url(#h0_69)" shape-rendering="crispEdges"/>
<rect x="25.3" y="399" width="59.8" height="2" fill="url(#h0_70)" shape-rendering="crispEdges"/>
<rect x="25.3" y="401" width="59.8" height="2" fill="url(#h0_71)" shape-rendering="crispEdges"/>
<rect x="25.3" y="403" width="59.8" height="2" fill="url(#h0_72)" shape-rendering="crispEdges"/>
<rect x="25.3" y="405" width="59.8" height="2" fill="url(#h0_73)" shape-rendering="crispEdges"/>
<rect x="25.3" y="259" width="59.8" height="148" fill="#000" filter="url(#streakD)" opacity="1"/>
<rect x="64.8" y="259" width="20.3" height="1" fill="#f7864a" opacity="0.09"/><rect x="63.8" y="294" width="21.3" height="1" fill="#f7864a" opacity="0.07"/><rect x="61.3" y="300" width="8.2" height="1" fill="#f7864a" opacity="0.09"/><rect x="39.1" y="347" width="6.2" height="1" fill="#f7864a" opacity="0.11"/><rect x="27.9" y="317" width="20.8" height="1" fill="#f7864a" opacity="0.09"/><rect x="70.0" y="328" width="15.1" height="1" fill="#f7864a" opacity="0.05"/><rect x="28.6" y="273" width="7.7" height="1" fill="#f7864a" opacity="0.16"/><rect x="62.9" y="326" width="4.3" height="1" fill="#f7864a" opacity="0.13"/><rect x="80.3" y="341" width="4.8" height="1" fill="#f7864a" opacity="0.04"/><rect x="35.6" y="291" width="11.7" height="1" fill="#f7864a" opacity="0.09"/><rect x="25.3" y="269" width="7.9" height="1" fill="#f7864a" opacity="0.27"/><rect x="25.8" y="269" width="4.5" height="1" fill="#f7864a" opacity="0.11"/><rect x="42.0" y="312" width="5.7" height="1" fill="#f7864a" opacity="0.14"/><rect x="67.2" y="278" width="17.9" height="1" fill="#f7864a" opacity="0.07"/><rect x="25.3" y="340" width="4.7" height="1" fill="#f7864a" opacity="0.12"/><rect x="25.3" y="276" width="20.7" height="1" fill="#f7864a" opacity="0.18"/><rect x="35.7" y="321" width="9.2" height="1" fill="#f7864a" opacity="0.16"/><rect x="72.9" y="323" width="10.1" height="1" fill="#f7864a" opacity="0.08"/><rect x="43.0" y="291" width="5.8" height="1" fill="#f7864a" opacity="0.08"/><rect x="63.7" y="305" width="18.9" height="1" fill="#f7864a" opacity="0.20"/><rect x="68.7" y="275" width="16.4" height="1" fill="#f7864a" opacity="0.21"/><rect x="68.6" y="349" width="16.5" height="1" fill="#f7864a" opacity="0.10"/><rect x="27.5" y="278" width="21.6" height="1" fill="#f7864a" opacity="0.25"/><rect x="71.5" y="359" width="13.6" height="1" fill="#f7864a" opacity="0.03"/><rect x="69.2" y="333" width="15.3" height="1" fill="#f7864a" opacity="0.07"/><rect x="61.5" y="328" width="14.0" height="1" fill="#f7864a" opacity="0.12"/><rect x="33.8" y="353" width="7.3" height="1" fill="#f7864a" opacity="0.08"/><rect x="25.3" y="308" width="13.5" height="1" fill="#f7864a" opacity="0.20"/><rect x="63.1" y="292" width="11.1" height="1" fill="#f7864a" opacity="0.16"/><rect x="66.9" y="340" width="18.2" height="1" fill="#f7864a" opacity="0.08"/><rect x="38.0" y="363" width="4.0" height="1" fill="#f7864a" opacity="0.07"/><rect x="29.6" y="271" width="7.6" height="1" fill="#f7864a" opacity="0.18"/><rect x="25.3" y="346" width="12.5" height="1" fill="#f7864a" opacity="0.07"/><rect x="25.8" y="259" width="11.2" height="1" fill="#f7864a" opacity="0.28"/><rect x="25.3" y="322" width="21.2" height="1" fill="#f7864a" opacity="0.14"/><rect x="32.6" y="268" width="12.5" height="1" fill="#f7864a" opacity="0.18"/><rect x="74.1" y="279" width="11.0" height="1" fill="#f7864a" opacity="0.09"/><rect x="25.3" y="299" width="18.0" height="1" fill="#f7864a" opacity="0.06"/><rect x="37.9" y="283" width="10.9" height="1" fill="#f7864a" opacity="0.19"/><rect x="25.3" y="269" width="13.3" height="1" fill="#f7864a" opacity="0.27"/><rect x="66.2" y="326" width="10.6" height="1" fill="#f7864a" opacity="0.08"/><rect x="25.3" y="283" width="21.7" height="1" fill="#f7864a" opacity="0.17"/><rect x="67.4" y="308" width="17.7" height="1" fill="#f7864a" opacity="0.11"/><rect x="25.3" y="284" width="21.7" height="1" fill="#f7864a" opacity="0.13"/><rect x="67.3" y="259" width="11.0" height="1" fill="#f7864a" opacity="0.13"/><rect x="70.4" y="263" width="4.9" height="1" fill="#f7864a" opacity="0.25"/><rect x="67.6" y="344" width="17.5" height="1" fill="#f7864a" opacity="0.12"/><rect x="25.3" y="337" width="20.1" height="1" fill="#f7864a" opacity="0.13"/><rect x="65.8" y="335" width="19.3" height="1" fill="#f7864a" opacity="0.09"/><rect x="75.9" y="357" width="9.2" height="1" fill="#f7864a" opacity="0.05"/><rect x="31.0" y="263" width="9.6" height="1" fill="#f7864a" opacity="0.13"/><rect x="41.4" y="268" width="6.6" height="1" fill="#f7864a" opacity="0.15"/><rect x="63.9" y="264" width="15.4" height="1" fill="#f7864a" opacity="0.29"/><rect x="25.3" y="271" width="20.3" height="1" fill="#f7864a" opacity="0.19"/><rect x="73.0" y="300" width="10.1" height="1" fill="#f7864a" opacity="0.15"/><rect x="25.3" y="289" width="9.1" height="1" fill="#f7864a" opacity="0.19"/><rect x="65.8" y="369" width="17.1" height="1" fill="#f7864a" opacity="0.04"/><rect x="73.4" y="369" width="11.7" height="1" fill="#f7864a" opacity="0.03"/><rect x="36.5" y="261" width="12.4" height="1" fill="#f7864a" opacity="0.23"/><rect x="65.3" y="297" width="12.2" height="1" fill="#f7864a" opacity="0.12"/><rect x="25.3" y="275" width="15.6" height="1" fill="#f7864a" opacity="0.18"/><rect x="80.3" y="299" width="4.8" height="1" fill="#f7864a" opacity="0.07"/><rect x="61.3" y="324" width="14.3" height="1" fill="#f7864a" opacity="0.05"/><rect x="25.3" y="296" width="14.0" height="1" fill="#f7864a" opacity="0.08"/><rect x="66.8" y="349" width="18.3" height="1" fill="#f7864a" opacity="0.06"/><rect x="63.1" y="305" width="4.4" height="1" fill="#f7864a" opacity="0.06"/><rect x="80.0" y="327" width="5.1" height="1" fill="#f7864a" opacity="0.11"/><rect x="67.4" y="297" width="17.7" height="1" fill="#f7864a" opacity="0.07"/><rect x="25.3" y="367" width="17.1" height="1" fill="#f7864a" opacity="0.04"/><rect x="34.4" y="267" width="4.7" height="1" fill="#f7864a" opacity="0.10"/>
<text x="0" y="0" font-size="8.4" fill="#3c3c3c" text-anchor="end" transform="translate(28.7,412.3) rotate(-90)">−2.0</text>
<text x="0" y="0" font-size="8.4" fill="#3c3c3c" text-anchor="end" transform="translate(87.1,412.3) rotate(-90)">2.0</text>
<text x="54.3" y="418.5" font-size="7.2" text-anchor="middle" fill="#3c3c3c" textLength="15.3" lengthAdjust="spacingAndGlyphs" >MBH</text>
<text x="54.099999999999994" y="426.5" font-size="7.6" text-anchor="middle" fill="#3c3c3c" textLength="22.4" lengthAdjust="spacingAndGlyphs" >center</text>
<rect x="89.9" y="259" width="59.6" height="2" fill="url(#h1_0)" shape-rendering="crispEdges"/>
<rect x="89.9" y="261" width="59.6" height="2" fill="url(#h1_1)" shape-rendering="crispEdges"/>
<rect x="89.9" y="263" width="59.6" height="2" fill="url(#h1_2)" shape-rendering="crispEdges"/>
<rect x="89.9" y="265" width="59.6" height="2" fill="url(#h1_3)" shape-rendering="crispEdges"/>
<rect x="89.9" y="267" width="59.6" height="2" fill="url(#h1_4)" shape-rendering="crispEdges"/>
<rect x="89.9" y="269" width="59.6" height="2" fill="url(#h1_5)" shape-rendering="crispEdges"/>
<rect x="89.9" y="271" width="59.6" height="2" fill="url(#h1_6)" shape-rendering="crispEdges"/>
<rect x="89.9" y="273" width="59.6" height="2" fill="url(#h1_7)" shape-rendering="crispEdges"/>
<rect x="89.9" y="275" width="59.6" height="2" fill="url(#h1_8)" shape-rendering="crispEdges"/>
<rect x="89.9" y="277" width="59.6" height="2" fill="url(#h1_9)" shape-rendering="crispEdges"/>
<rect x="89.9" y="279" width="59.6" height="2" fill="url(#h1_10)" shape-rendering="crispEdges"/>
<rect x="89.9" y="281" width="59.6" height="2" fill="url(#h1_11)" shape-rendering="crispEdges"/>
<rect x="89.9" y="283" width="59.6" height="2" fill="url(#h1_12)" shape-rendering="crispEdges"/>
<rect x="89.9" y="285" width="59.6" height="2" fill="url(#h1_13)" shape-rendering="crispEdges"/>
<rect x="89.9" y="287" width="59.6" height="2" fill="url(#h1_14)" shape-rendering="crispEdges"/>
<rect x="89.9" y="289" width="59.6" height="2" fill="url(#h1_15)" shape-rendering="crispEdges"/>
<rect x="89.9" y="291" width="59.6" height="2" fill="url(#h1_16)" shape-rendering="crispEdges"/>
<rect x="89.9" y="293" width="59.6" height="2" fill="url(#h1_17)" shape-rendering="crispEdges"/>
<rect x="89.9" y="295" width="59.6" height="2" fill="url(#h1_18)" shape-rendering="crispEdges"/>
<rect x="89.9" y="297" width="59.6" height="2" fill="url(#h1_19)" shape-rendering="crispEdges"/>
<rect x="89.9" y="299" width="59.6" height="2" fill="url(#h1_20)" shape-rendering="crispEdges"/>
<rect x="89.9" y="301" width="59.6" height="2" fill="url(#h1_21)" shape-rendering="crispEdges"/>
<rect x="89.9" y="303" width="59.6" height="2" fill="url(#h1_22)" shape-rendering="crispEdges"/>
<rect x="89.9" y="305" width="59.6" height="2" fill="url(#h1_23)" shape-rendering="crispEdges"/>
<rect x="89.9" y="307" width="59.6" height="2" fill="url(#h1_24)" shape-rendering="crispEdges"/>
<rect x="89.9" y="309" width="59.6" height="2" fill="url(#h1_25)" shape-rendering="crispEdges"/>
<rect x="89.9" y="311" width="59.6" height="2" fill="url(#h1_26)" shape-rendering="crispEdges"/>
<rect x="89.9" y="313" width="59.6" height="2" fill="url(#h1_27)" shape-rendering="crispEdges"/>
<rect x="89.9" y="315" width="59.6" height="2" fill="url(#h1_28)" shape-rendering="crispEdges"/>
<rect x="89.9" y="317" width="59.6" height="2" fill="url(#h1_29)" shape-rendering="crispEdges"/>
<rect x="89.9" y="319" width="59.6" height="2" fill="url(#h1_30)" shape-rendering="crispEdges"/>
<rect x="89.9" y="321" width="59.6" height="2" fill="url(#h1_31)" shape-rendering="crispEdges"/>
<rect x="89.9" y="323" width="59.6" height="2" fill="url(#h1_32)" shape-rendering="crispEdges"/>
<rect x="89.9" y="325" width="59.6" height="2" fill="url(#h1_33)" shape-rendering="crispEdges"/>
<rect x="89.9" y="327" width="59.6" height="2" fill="url(#h1_34)" shape-rendering="crispEdges"/>
<rect x="89.9" y="329" width="59.6" height="2" fill="url(#h1_35)" shape-rendering="crispEdges"/>
<rect x="89.9" y="331" width="59.6" height="2" fill="url(#h1_36)" shape-rendering="crispEdges"/>
<rect x="89.9" y="333" width="59.6" height="2" fill="url(#h1_37)" shape-rendering="crispEdges"/>
<rect x="89.9" y="335" width="59.6" height="2" fill="url(#h1_38)" shape-rendering="crispEdges"/>
<rect x="89.9" y="337" width="59.6" height="2" fill="url(#h1_39)" shape-rendering="crispEdges"/>
<rect x="89.9" y="339" width="59.6" height="2" fill="url(#h1_40)" shape-rendering="crispEdges"/>
<rect x="89.9" y="341" width="59.6" height="2" fill="url(#h1_41)" shape-rendering="crispEdges"/>
<rect x="89.9" y="343" width="59.6" height="2" fill="url(#h1_42)" shape-rendering="crispEdges"/>
<rect x="89.9" y="345" width="59.6" height="2" fill="url(#h1_43)" shape-rendering="crispEdges"/>
<rect x="89.9" y="347" width="59.6" height="2" fill="url(#h1_44)" shape-rendering="crispEdges"/>
<rect x="89.9" y="349" width="59.6" height="2" fill="url(#h1_45)" shape-rendering="crispEdges"/>
<rect x="89.9" y="351" width="59.6" height="2" fill="url(#h1_46)" shape-rendering="crispEdges"/>
<rect x="89.9" y="353" width="59.6" height="2" fill="url(#h1_47)" shape-rendering="crispEdges"/>
<rect x="89.9" y="355" width="59.6" height="2" fill="url(#h1_48)" shape-rendering="crispEdges"/>
<rect x="89.9" y="357" width="59.6" height="2" fill="url(#h1_49)" shape-rendering="crispEdges"/>
<rect x="89.9" y="359" width="59.6" height="2" fill="url(#h1_50)" shape-rendering="crispEdges"/>
<rect x="89.9" y="361" width="59.6" height="2" fill="url(#h1_51)" shape-rendering="crispEdges"/>
<rect x="89.9" y="363" width="59.6" height="2" fill="url(#h1_52)" shape-rendering="crispEdges"/>
<rect x="89.9" y="365" width="59.6" height="2" fill="url(#h1_53)" shape-rendering="crispEdges"/>
<rect x="89.9" y="367" width="59.6" height="2" fill="url(#h1_54)" shape-rendering="crispEdges"/>
<rect x="89.9" y="369" width="59.6" height="2" fill="url(#h1_55)" shape-rendering="crispEdges"/>
<rect x="89.9" y="371" width="59.6" height="2" fill="url(#h1_56)" shape-rendering="crispEdges"/>
<rect x="89.9" y="373" width="59.6" height="2" fill="url(#h1_57)" shape-rendering="crispEdges"/>
<rect x="89.9" y="375" width="59.6" height="2" fill="url(#h1_58)" shape-rendering="crispEdges"/>
<rect x="89.9" y="377" width="59.6" height="2" fill="url(#h1_59)" shape-rendering="crispEdges"/>
<rect x="89.9" y="379" width="59.6" height="2" fill="url(#h1_60)" shape-rendering="crispEdges"/>
<rect x="89.9" y="381" width="59.6" height="2" fill="url(#h1_61)" shape-rendering="crispEdges"/>
<rect x="89.9" y="383" width="59.6" height="2" fill="url(#h1_62)" shape-rendering="crispEdges"/>
<rect x="89.9" y="385" width="59.6" height="2" fill="url(#h1_63)" shape-rendering="crispEdges"/>
<rect x="89.9" y="387" width="59.6" height="2" fill="url(#h1_64)" shape-rendering="crispEdges"/>
<rect x="89.9" y="389" width="59.6" height="2" fill="url(#h1_65)" shape-rendering="crispEdges"/>
<rect x="89.9" y="391" width="59.6" height="2" fill="url(#h1_66)" shape-rendering="crispEdges"/>
<rect x="89.9" y="393" width="59.6" height="2" fill="url(#h1_67)" shape-rendering="crispEdges"/>
<rect x="89.9" y="395" width="59.6" height="2" fill="url(#h1_68)" shape-rendering="crispEdges"/>
<rect x="89.9" y="397" width="59.6" height="2" fill="url(#h1_69)" shape-rendering="crispEdges"/>
<rect x="89.9" y="399" width="59.6" height="2" fill="url(#h1_70)" shape-rendering="crispEdges"/>
<rect x="89.9" y="401" width="59.6" height="2" fill="url(#h1_71)" shape-rendering="crispEdges"/>
<rect x="89.9" y="403" width="59.6" height="2" fill="url(#h1_72)" shape-rendering="crispEdges"/>
<rect x="89.9" y="405" width="59.6" height="2" fill="url(#h1_73)" shape-rendering="crispEdges"/>
<rect x="89.9" y="259" width="59.6" height="148" fill="#000" filter="url(#streakD)" opacity="1"/>
<rect x="99.8" y="357" width="10.0" height="1" fill="#f7864a" opacity="0.09"/><rect x="104.6" y="287" width="7.6" height="1" fill="#f7864a" opacity="0.14"/><rect x="129.6" y="356" width="19.9" height="1" fill="#f7864a" opacity="0.04"/><rect x="125.9" y="330" width="8.0" height="1" fill="#f7864a" opacity="0.14"/><rect x="134.8" y="262" width="14.7" height="1" fill="#f7864a" opacity="0.23"/><rect x="131.2" y="277" width="18.3" height="1" fill="#f7864a" opacity="0.26"/><rect x="126.5" y="342" width="5.0" height="1" fill="#f7864a" opacity="0.10"/><rect x="89.9" y="278" width="19.4" height="1" fill="#f7864a" opacity="0.08"/><rect x="89.9" y="260" width="4.0" height="1" fill="#f7864a" opacity="0.26"/><rect x="142.1" y="354" width="7.4" height="1" fill="#f7864a" opacity="0.09"/><rect x="128.0" y="269" width="21.5" height="1" fill="#f7864a" opacity="0.13"/><rect x="131.9" y="280" width="17.6" height="1" fill="#f7864a" opacity="0.24"/><rect x="89.9" y="282" width="19.5" height="1" fill="#f7864a" opacity="0.20"/><rect x="89.9" y="259" width="16.5" height="1" fill="#f7864a" opacity="0.22"/><rect x="91.6" y="262" width="21.0" height="1" fill="#f7864a" opacity="0.17"/><rect x="126.5" y="260" width="5.8" height="1" fill="#f7864a" opacity="0.20"/><rect x="137.3" y="348" width="12.2" height="1" fill="#f7864a" opacity="0.05"/><rect x="131.4" y="260" width="18.1" height="1" fill="#f7864a" opacity="0.24"/><rect x="128.3" y="292" width="21.2" height="1" fill="#f7864a" opacity="0.22"/><rect x="125.8" y="260" width="17.3" height="1" fill="#f7864a" opacity="0.14"/><rect x="129.4" y="320" width="13.5" height="1" fill="#f7864a" opacity="0.12"/><rect x="127.9" y="347" width="21.6" height="1" fill="#f7864a" opacity="0.04"/><rect x="126.8" y="262" width="14.1" height="1" fill="#f7864a" opacity="0.11"/><rect x="102.8" y="291" width="9.5" height="1" fill="#f7864a" opacity="0.14"/><rect x="126.3" y="332" width="7.1" height="1" fill="#f7864a" opacity="0.07"/><rect x="108.2" y="313" width="4.1" height="1" fill="#f7864a" opacity="0.08"/><rect x="142.6" y="348" width="6.9" height="1" fill="#f7864a" opacity="0.05"/><rect x="136.3" y="344" width="9.8" height="1" fill="#f7864a" opacity="0.07"/><rect x="89.9" y="348" width="16.5" height="1" fill="#f7864a" opacity="0.06"/><rect x="127.3" y="271" width="20.9" height="1" fill="#f7864a" opacity="0.26"/><rect x="102.7" y="320" width="4.2" height="1" fill="#f7864a" opacity="0.16"/><rect x="89.9" y="346" width="8.5" height="1" fill="#f7864a" opacity="0.05"/><rect x="138.0" y="261" width="11.5" height="1" fill="#f7864a" opacity="0.27"/><rect x="95.7" y="259" width="7.2" height="1" fill="#f7864a" opacity="0.17"/><rect x="134.4" y="355" width="15.1" height="1" fill="#f7864a" opacity="0.04"/><rect x="130.0" y="350" width="19.5" height="1" fill="#f7864a" opacity="0.05"/><rect x="127.9" y="260" width="10.6" height="1" fill="#f7864a" opacity="0.27"/><rect x="95.9" y="343" width="16.5" height="1" fill="#f7864a" opacity="0.11"/><rect x="136.6" y="264" width="12.9" height="1" fill="#f7864a" opacity="0.13"/><rect x="97.1" y="347" width="9.8" height="1" fill="#f7864a" opacity="0.09"/><rect x="89.9" y="259" width="15.5" height="1" fill="#f7864a" opacity="0.16"/><rect x="89.9" y="300" width="21.4" height="1" fill="#f7864a" opacity="0.13"/><rect x="89.9" y="272" width="8.9" height="1" fill="#f7864a" opacity="0.11"/><rect x="89.9" y="363" width="13.3" height="1" fill="#f7864a" opacity="0.06"/><rect x="125.9" y="348" width="6.6" height="1" fill="#f7864a" opacity="0.05"/><rect x="93.9" y="282" width="9.6" height="1" fill="#f7864a" opacity="0.21"/><rect x="128.3" y="282" width="13.2" height="1" fill="#f7864a" opacity="0.25"/><rect x="128.5" y="259" width="10.7" height="1" fill="#f7864a" opacity="0.15"/><rect x="126.3" y="264" width="21.5" height="1" fill="#f7864a" opacity="0.19"/><rect x="95.4" y="263" width="4.3" height="1" fill="#f7864a" opacity="0.19"/><rect x="94.6" y="271" width="14.4" height="1" fill="#f7864a" opacity="0.09"/><rect x="130.4" y="337" width="10.9" height="1" fill="#f7864a" opacity="0.08"/><rect x="140.8" y="300" width="8.7" height="1" fill="#f7864a" opacity="0.07"/><rect x="108.6" y="265" width="4.4" height="1" fill="#f7864a" opacity="0.19"/><rect x="89.9" y="263" width="13.5" height="1" fill="#f7864a" opacity="0.25"/><rect x="137.2" y="362" width="12.3" height="1" fill="#f7864a" opacity="0.05"/><rect x="89.9" y="366" width="21.2" height="1" fill="#f7864a" opacity="0.06"/><rect x="89.9" y="305" width="16.8" height="1" fill="#f7864a" opacity="0.16"/><rect x="126.1" y="264" width="21.4" height="1" fill="#f7864a" opacity="0.08"/><rect x="133.6" y="264" width="15.9" height="1" fill="#f7864a" opacity="0.27"/><rect x="100.5" y="265" width="7.5" height="1" fill="#f7864a" opacity="0.17"/><rect x="130.7" y="278" width="18.8" height="1" fill="#f7864a" opacity="0.23"/><rect x="91.2" y="328" width="13.2" height="1" fill="#f7864a" opacity="0.10"/><rect x="128.8" y="313" width="19.3" height="1" fill="#f7864a" opacity="0.13"/><rect x="100.3" y="286" width="6.2" height="1" fill="#f7864a" opacity="0.23"/><rect x="140.4" y="318" width="5.0" height="1" fill="#f7864a" opacity="0.13"/><rect x="96.2" y="259" width="9.6" height="1" fill="#f7864a" opacity="0.11"/><rect x="134.0" y="307" width="15.0" height="1" fill="#f7864a" opacity="0.14"/><rect x="130.6" y="261" width="18.9" height="1" fill="#f7864a" opacity="0.25"/><rect x="89.9" y="268" width="9.3" height="1" fill="#f7864a" opacity="0.25"/>
<text x="0" y="0" font-size="8.4" fill="#3c3c3c" text-anchor="end" transform="translate(93.30000000000001,412.3) rotate(-90)">−2.0</text>
<text x="0" y="0" font-size="8.4" fill="#3c3c3c" text-anchor="end" transform="translate(151.5,412.3) rotate(-90)">2.0</text>
<text x="118.8" y="418.5" font-size="7.2" text-anchor="middle" fill="#3c3c3c" textLength="15.3" lengthAdjust="spacingAndGlyphs" >MBH</text>
<text x="118.6" y="426.5" font-size="7.6" text-anchor="middle" fill="#3c3c3c" textLength="22.4" lengthAdjust="spacingAndGlyphs" >center</text>
<rect x="154.9" y="259" width="59.7" height="2" fill="url(#h2_0)" shape-rendering="crispEdges"/>
<rect x="154.9" y="261" width="59.7" height="2" fill="url(#h2_1)" shape-rendering="crispEdges"/>
<rect x="154.9" y="263" width="59.7" height="2" fill="url(#h2_2)" shape-rendering="crispEdges"/>
<rect x="154.9" y="265" width="59.7" height="2" fill="url(#h2_3)" shape-rendering="crispEdges"/>
<rect x="154.9" y="267" width="59.7" height="2" fill="url(#h2_4)" shape-rendering="crispEdges"/>
<rect x="154.9" y="269" width="59.7" height="2" fill="url(#h2_5)" shape-rendering="crispEdges"/>
<rect x="154.9" y="271" width="59.7" height="2" fill="url(#h2_6)" shape-rendering="crispEdges"/>
<rect x="154.9" y="273" width="59.7" height="2" fill="url(#h2_7)" shape-rendering="crispEdges"/>
<rect x="154.9" y="275" width="59.7" height="2" fill="url(#h2_8)" shape-rendering="crispEdges"/>
<rect x="154.9" y="277" width="59.7" height="2" fill="url(#h2_9)" shape-rendering="crispEdges"/>
<rect x="154.9" y="279" width="59.7" height="2" fill="url(#h2_10)" shape-rendering="crispEdges"/>
<rect x="154.9" y="281" width="59.7" height="2" fill="url(#h2_11)" shape-rendering="crispEdges"/>
<rect x="154.9" y="283" width="59.7" height="2" fill="url(#h2_12)" shape-rendering="crispEdges"/>
<rect x="154.9" y="285" width="59.7" height="2" fill="url(#h2_13)" shape-rendering="crispEdges"/>
<rect x="154.9" y="287" width="59.7" height="2" fill="url(#h2_14)" shape-rendering="crispEdges"/>
<rect x="154.9" y="289" width="59.7" height="2" fill="url(#h2_15)" shape-rendering="crispEdges"/>
<rect x="154.9" y="291" width="59.7" height="2" fill="url(#h2_16)" shape-rendering="crispEdges"/>
<rect x="154.9" y="293" width="59.7" height="2" fill="url(#h2_17)" shape-rendering="crispEdges"/>
<rect x="154.9" y="295" width="59.7" height="2" fill="url(#h2_18)" shape-rendering="crispEdges"/>
<rect x="154.9" y="297" width="59.7" height="2" fill="url(#h2_19)" shape-rendering="crispEdges"/>
<rect x="154.9" y="299" width="59.7" height="2" fill="url(#h2_20)" shape-rendering="crispEdges"/>
<rect x="154.9" y="301" width="59.7" height="2" fill="url(#h2_21)" shape-rendering="crispEdges"/>
<rect x="154.9" y="303" width="59.7" height="2" fill="url(#h2_22)" shape-rendering="crispEdges"/>
<rect x="154.9" y="305" width="59.7" height="2" fill="url(#h2_23)" shape-rendering="crispEdges"/>
<rect x="154.9" y="307" width="59.7" height="2" fill="url(#h2_24)" shape-rendering="crispEdges"/>
<rect x="154.9" y="309" width="59.7" height="2" fill="url(#h2_25)" shape-rendering="crispEdges"/>
<rect x="154.9" y="311" width="59.7" height="2" fill="url(#h2_26)" shape-rendering="crispEdges"/>
<rect x="154.9" y="313" width="59.7" height="2" fill="url(#h2_27)" shape-rendering="crispEdges"/>
<rect x="154.9" y="315" width="59.7" height="2" fill="url(#h2_28)" shape-rendering="crispEdges"/>
<rect x="154.9" y="317" width="59.7" height="2" fill="url(#h2_29)" shape-rendering="crispEdges"/>
<rect x="154.9" y="319" width="59.7" height="2" fill="url(#h2_30)" shape-rendering="crispEdges"/>
<rect x="154.9" y="321" width="59.7" height="2" fill="url(#h2_31)" shape-rendering="crispEdges"/>
<rect x="154.9" y="323" width="59.7" height="2" fill="url(#h2_32)" shape-rendering="crispEdges"/>
<rect x="154.9" y="325" width="59.7" height="2" fill="url(#h2_33)" shape-rendering="crispEdges"/>
<rect x="154.9" y="327" width="59.7" height="2" fill="url(#h2_34)" shape-rendering="crispEdges"/>
<rect x="154.9" y="329" width="59.7" height="2" fill="url(#h2_35)" shape-rendering="crispEdges"/>
<rect x="154.9" y="331" width="59.7" height="2" fill="url(#h2_36)" shape-rendering="crispEdges"/>
<rect x="154.9" y="333" width="59.7" height="2" fill="url(#h2_37)" shape-rendering="crispEdges"/>
<rect x="154.9" y="335" width="59.7" height="2" fill="url(#h2_38)" shape-rendering="crispEdges"/>
<rect x="154.9" y="337" width="59.7" height="2" fill="url(#h2_39)" shape-rendering="crispEdges"/>
<rect x="154.9" y="339" width="59.7" height="2" fill="url(#h2_40)" shape-rendering="crispEdges"/>
<rect x="154.9" y="341" width="59.7" height="2" fill="url(#h2_41)" shape-rendering="crispEdges"/>
<rect x="154.9" y="343" width="59.7" height="2" fill="url(#h2_42)" shape-rendering="crispEdges"/>
<rect x="154.9" y="345" width="59.7" height="2" fill="url(#h2_43)" shape-rendering="crispEdges"/>
<rect x="154.9" y="347" width="59.7" height="2" fill="url(#h2_44)" shape-rendering="crispEdges"/>
<rect x="154.9" y="349" width="59.7" height="2" fill="url(#h2_45)" shape-rendering="crispEdges"/>
<rect x="154.9" y="351" width="59.7" height="2" fill="url(#h2_46)" shape-rendering="crispEdges"/>
<rect x="154.9" y="353" width="59.7" height="2" fill="url(#h2_47)" shape-rendering="crispEdges"/>
<rect x="154.9" y="355" width="59.7" height="2" fill="url(#h2_48)" shape-rendering="crispEdges"/>
<rect x="154.9" y="357" width="59.7" height="2" fill="url(#h2_49)" shape-rendering="crispEdges"/>
<rect x="154.9" y="359" width="59.7" height="2" fill="url(#h2_50)" shape-rendering="crispEdges"/>
<rect x="154.9" y="361" width="59.7" height="2" fill="url(#h2_51)" shape-rendering="crispEdges"/>
<rect x="154.9" y="363" width="59.7" height="2" fill="url(#h2_52)" shape-rendering="crispEdges"/>
<rect x="154.9" y="365" width="59.7" height="2" fill="url(#h2_53)" shape-rendering="crispEdges"/>
<rect x="154.9" y="367" width="59.7" height="2" fill="url(#h2_54)" shape-rendering="crispEdges"/>
<rect x="154.9" y="369" width="59.7" height="2" fill="url(#h2_55)" shape-rendering="crispEdges"/>
<rect x="154.9" y="371" width="59.7" height="2" fill="url(#h2_56)" shape-rendering="crispEdges"/>
<rect x="154.9" y="373" width="59.7" height="2" fill="url(#h2_57)" shape-rendering="crispEdges"/>
<rect x="154.9" y="375" width="59.7" height="2" fill="url(#h2_58)" shape-rendering="crispEdges"/>
<rect x="154.9" y="377" width="59.7" height="2" fill="url(#h2_59)" shape-rendering="crispEdges"/>
<rect x="154.9" y="379" width="59.7" height="2" fill="url(#h2_60)" shape-rendering="crispEdges"/>
<rect x="154.9" y="381" width="59.7" height="2" fill="url(#h2_61)" shape-rendering="crispEdges"/>
<rect x="154.9" y="383" width="59.7" height="2" fill="url(#h2_62)" shape-rendering="crispEdges"/>
<rect x="154.9" y="385" width="59.7" height="2" fill="url(#h2_63)" shape-rendering="crispEdges"/>
<rect x="154.9" y="387" width="59.7" height="2" fill="url(#h2_64)" shape-rendering="crispEdges"/>
<rect x="154.9" y="389" width="59.7" height="2" fill="url(#h2_65)" shape-rendering="crispEdges"/>
<rect x="154.9" y="391" width="59.7" height="2" fill="url(#h2_66)" shape-rendering="crispEdges"/>
<rect x="154.9" y="393" width="59.7" height="2" fill="url(#h2_67)" shape-rendering="crispEdges"/>
<rect x="154.9" y="395" width="59.7" height="2" fill="url(#h2_68)" shape-rendering="crispEdges"/>
<rect x="154.9" y="397" width="59.7" height="2" fill="url(#h2_69)" shape-rendering="crispEdges"/>
<rect x="154.9" y="399" width="59.7" height="2" fill="url(#h2_70)" shape-rendering="crispEdges"/>
<rect x="154.9" y="401" width="59.7" height="2" fill="url(#h2_71)" shape-rendering="crispEdges"/>
<rect x="154.9" y="403" width="59.7" height="2" fill="url(#h2_72)" shape-rendering="crispEdges"/>
<rect x="154.9" y="405" width="59.7" height="2" fill="url(#h2_73)" shape-rendering="crispEdges"/>
<rect x="154.9" y="259" width="59.7" height="148" fill="#000" filter="url(#streakD)" opacity="1"/>
<rect x="158.0" y="323" width="20.7" height="1" fill="#f7864a" opacity="0.07"/><rect x="198.4" y="266" width="16.2" height="1" fill="#f7864a" opacity="0.22"/><rect x="154.9" y="366" width="21.5" height="1" fill="#f7864a" opacity="0.07"/><rect x="158.3" y="268" width="14.5" height="1" fill="#f7864a" opacity="0.24"/><rect x="161.6" y="259" width="13.7" height="1" fill="#f7864a" opacity="0.09"/><rect x="162.8" y="294" width="10.0" height="1" fill="#f7864a" opacity="0.18"/><rect x="154.9" y="260" width="18.1" height="1" fill="#f7864a" opacity="0.16"/><rect x="194.5" y="343" width="20.1" height="1" fill="#f7864a" opacity="0.07"/><rect x="201.4" y="337" width="13.2" height="1" fill="#f7864a" opacity="0.06"/><rect x="154.9" y="279" width="21.2" height="1" fill="#f7864a" opacity="0.10"/><rect x="154.9" y="259" width="13.0" height="1" fill="#f7864a" opacity="0.25"/><rect x="154.9" y="259" width="13.0" height="1" fill="#f7864a" opacity="0.27"/><rect x="154.9" y="348" width="17.3" height="1" fill="#f7864a" opacity="0.08"/><rect x="205.4" y="277" width="9.2" height="1" fill="#f7864a" opacity="0.12"/><rect x="166.2" y="276" width="6.8" height="1" fill="#f7864a" opacity="0.09"/><rect x="193.7" y="309" width="10.2" height="1" fill="#f7864a" opacity="0.16"/><rect x="154.9" y="366" width="7.0" height="1" fill="#f7864a" opacity="0.05"/><rect x="195.3" y="274" width="6.8" height="1" fill="#f7864a" opacity="0.25"/><rect x="207.4" y="298" width="7.2" height="1" fill="#f7864a" opacity="0.18"/><rect x="192.9" y="303" width="17.6" height="1" fill="#f7864a" opacity="0.09"/><rect x="203.1" y="327" width="11.5" height="1" fill="#f7864a" opacity="0.11"/><rect x="199.6" y="263" width="15.0" height="1" fill="#f7864a" opacity="0.24"/><rect x="192.4" y="288" width="20.1" height="1" fill="#f7864a" opacity="0.21"/><rect x="192.9" y="264" width="20.3" height="1" fill="#f7864a" opacity="0.12"/><rect x="154.9" y="318" width="12.2" height="1" fill="#f7864a" opacity="0.09"/><rect x="200.7" y="262" width="13.9" height="1" fill="#f7864a" opacity="0.10"/><rect x="196.6" y="325" width="9.8" height="1" fill="#f7864a" opacity="0.06"/><rect x="154.9" y="274" width="13.3" height="1" fill="#f7864a" opacity="0.14"/><rect x="157.8" y="324" width="8.2" height="1" fill="#f7864a" opacity="0.07"/><rect x="154.9" y="271" width="19.1" height="1" fill="#f7864a" opacity="0.20"/><rect x="195.0" y="316" width="19.6" height="1" fill="#f7864a" opacity="0.17"/><rect x="194.1" y="356" width="20.5" height="1" fill="#f7864a" opacity="0.06"/><rect x="154.9" y="261" width="20.6" height="1" fill="#f7864a" opacity="0.20"/><rect x="154.9" y="326" width="18.9" height="1" fill="#f7864a" opacity="0.16"/><rect x="193.6" y="366" width="21.0" height="1" fill="#f7864a" opacity="0.06"/><rect x="156.0" y="342" width="21.8" height="1" fill="#f7864a" opacity="0.11"/><rect x="154.9" y="358" width="20.3" height="1" fill="#f7864a" opacity="0.04"/><rect x="169.2" y="342" width="8.9" height="1" fill="#f7864a" opacity="0.12"/><rect x="154.9" y="282" width="18.3" height="1" fill="#f7864a" opacity="0.21"/><rect x="154.9" y="329" width="7.4" height="1" fill="#f7864a" opacity="0.15"/><rect x="200.0" y="261" width="14.6" height="1" fill="#f7864a" opacity="0.25"/><rect x="154.9" y="272" width="12.9" height="1" fill="#f7864a" opacity="0.19"/><rect x="157.8" y="264" width="20.9" height="1" fill="#f7864a" opacity="0.23"/><rect x="162.9" y="260" width="15.9" height="1" fill="#f7864a" opacity="0.24"/><rect x="198.7" y="305" width="15.9" height="1" fill="#f7864a" opacity="0.08"/><rect x="199.9" y="283" width="14.7" height="1" fill="#f7864a" opacity="0.16"/><rect x="157.8" y="337" width="19.2" height="1" fill="#f7864a" opacity="0.04"/><rect x="199.9" y="346" width="7.8" height="1" fill="#f7864a" opacity="0.09"/><rect x="156.3" y="358" width="15.8" height="1" fill="#f7864a" opacity="0.04"/><rect x="197.3" y="279" width="17.3" height="1" fill="#f7864a" opacity="0.23"/><rect x="203.2" y="370" width="8.5" height="1" fill="#f7864a" opacity="0.02"/><rect x="193.5" y="368" width="11.2" height="1" fill="#f7864a" opacity="0.05"/><rect x="157.0" y="261" width="21.4" height="1" fill="#f7864a" opacity="0.24"/><rect x="204.7" y="300" width="9.8" height="1" fill="#f7864a" opacity="0.13"/><rect x="193.7" y="319" width="20.9" height="1" fill="#f7864a" opacity="0.15"/><rect x="203.7" y="266" width="10.9" height="1" fill="#f7864a" opacity="0.16"/><rect x="199.8" y="296" width="11.9" height="1" fill="#f7864a" opacity="0.13"/><rect x="193.7" y="282" width="19.8" height="1" fill="#f7864a" opacity="0.14"/><rect x="197.5" y="351" width="17.1" height="1" fill="#f7864a" opacity="0.05"/><rect x="155.1" y="299" width="17.4" height="1" fill="#f7864a" opacity="0.13"/><rect x="191.2" y="303" width="7.9" height="1" fill="#f7864a" opacity="0.18"/><rect x="167.0" y="294" width="8.5" height="1" fill="#f7864a" opacity="0.09"/><rect x="157.0" y="369" width="9.0" height="1" fill="#f7864a" opacity="0.08"/><rect x="195.3" y="271" width="8.2" height="1" fill="#f7864a" opacity="0.17"/><rect x="154.9" y="300" width="22.0" height="1" fill="#f7864a" opacity="0.17"/><rect x="154.9" y="299" width="19.8" height="1" fill="#f7864a" opacity="0.14"/><rect x="165.0" y="304" width="12.8" height="1" fill="#f7864a" opacity="0.12"/><rect x="158.5" y="370" width="13.2" height="1" fill="#f7864a" opacity="0.06"/><rect x="157.5" y="276" width="11.0" height="1" fill="#f7864a" opacity="0.16"/><rect x="154.9" y="304" width="20.8" height="1" fill="#f7864a" opacity="0.21"/>
<text x="0" y="0" font-size="8.4" fill="#3c3c3c" text-anchor="end" transform="translate(158.3,412.3) rotate(-90)">−2.0</text>
<text x="0" y="0" font-size="8.4" fill="#3c3c3c" text-anchor="end" transform="translate(216.6,412.3) rotate(-90)">2.0</text>
<text x="183.85" y="418.5" font-size="7.2" text-anchor="middle" fill="#3c3c3c" textLength="15.3" lengthAdjust="spacingAndGlyphs" >MBH</text>
<text x="183.65" y="426.5" font-size="7.6" text-anchor="middle" fill="#3c3c3c" textLength="22.4" lengthAdjust="spacingAndGlyphs" >center</text>
<rect x="219.5" y="259" width="60.0" height="2" fill="url(#h3_0)" shape-rendering="crispEdges"/>
<rect x="219.5" y="261" width="60.0" height="2" fill="url(#h3_1)" shape-rendering="crispEdges"/>
<rect x="219.5" y="263" width="60.0" height="2" fill="url(#h3_2)" shape-rendering="crispEdges"/>
<rect x="219.5" y="265" width="60.0" height="2" fill="url(#h3_3)" shape-rendering="crispEdges"/>
<rect x="219.5" y="267" width="60.0" height="2" fill="url(#h3_4)" shape-rendering="crispEdges"/>
<rect x="219.5" y="269" width="60.0" height="2" fill="url(#h3_5)" shape-rendering="crispEdges"/>
<rect x="219.5" y="271" width="60.0" height="2" fill="url(#h3_6)" shape-rendering="crispEdges"/>
<rect x="219.5" y="273" width="60.0" height="2" fill="url(#h3_7)" shape-rendering="crispEdges"/>
<rect x="219.5" y="275" width="60.0" height="2" fill="url(#h3_8)" shape-rendering="crispEdges"/>
<rect x="219.5" y="277" width="60.0" height="2" fill="url(#h3_9)" shape-rendering="crispEdges"/>
<rect x="219.5" y="279" width="60.0" height="2" fill="url(#h3_10)" shape-rendering="crispEdges"/>
<rect x="219.5" y="281" width="60.0" height="2" fill="url(#h3_11)" shape-rendering="crispEdges"/>
<rect x="219.5" y="283" width="60.0" height="2" fill="url(#h3_12)" shape-rendering="crispEdges"/>
<rect x="219.5" y="285" width="60.0" height="2" fill="url(#h3_13)" shape-rendering="crispEdges"/>
<rect x="219.5" y="287" width="60.0" height="2" fill="url(#h3_14)" shape-rendering="crispEdges"/>
<rect x="219.5" y="289" width="60.0" height="2" fill="url(#h3_15)" shape-rendering="crispEdges"/>
<rect x="219.5" y="291" width="60.0" height="2" fill="url(#h3_16)" shape-rendering="crispEdges"/>
<rect x="219.5" y="293" width="60.0" height="2" fill="url(#h3_17)" shape-rendering="crispEdges"/>
<rect x="219.5" y="295" width="60.0" height="2" fill="url(#h3_18)" shape-rendering="crispEdges"/>
<rect x="219.5" y="297" width="60.0" height="2" fill="url(#h3_19)" shape-rendering="crispEdges"/>
<rect x="219.5" y="299" width="60.0" height="2" fill="url(#h3_20)" shape-rendering="crispEdges"/>
<rect x="219.5" y="301" width="60.0" height="2" fill="url(#h3_21)" shape-rendering="crispEdges"/>
<rect x="219.5" y="303" width="60.0" height="2" fill="url(#h3_22)" shape-rendering="crispEdges"/>
<rect x="219.5" y="305" width="60.0" height="2" fill="url(#h3_23)" shape-rendering="crispEdges"/>
<rect x="219.5" y="307" width="60.0" height="2" fill="url(#h3_24)" shape-rendering="crispEdges"/>
<rect x="219.5" y="309" width="60.0" height="2" fill="url(#h3_25)" shape-rendering="crispEdges"/>
<rect x="219.5" y="311" width="60.0" height="2" fill="url(#h3_26)" shape-rendering="crispEdges"/>
<rect x="219.5" y="313" width="60.0" height="2" fill="url(#h3_27)" shape-rendering="crispEdges"/>
<rect x="219.5" y="315" width="60.0" height="2" fill="url(#h3_28)" shape-rendering="crispEdges"/>
<rect x="219.5" y="317" width="60.0" height="2" fill="url(#h3_29)" shape-rendering="crispEdges"/>
<rect x="219.5" y="319" width="60.0" height="2" fill="url(#h3_30)" shape-rendering="crispEdges"/>
<rect x="219.5" y="321" width="60.0" height="2" fill="url(#h3_31)" shape-rendering="crispEdges"/>
<rect x="219.5" y="323" width="60.0" height="2" fill="url(#h3_32)" shape-rendering="crispEdges"/>
<rect x="219.5" y="325" width="60.0" height="2" fill="url(#h3_33)" shape-rendering="crispEdges"/>
<rect x="219.5" y="327" width="60.0" height="2" fill="url(#h3_34)" shape-rendering="crispEdges"/>
<rect x="219.5" y="329" width="60.0" height="2" fill="url(#h3_35)" shape-rendering="crispEdges"/>
<rect x="219.5" y="331" width="60.0" height="2" fill="url(#h3_36)" shape-rendering="crispEdges"/>
<rect x="219.5" y="333" width="60.0" height="2" fill="url(#h3_37)" shape-rendering="crispEdges"/>
<rect x="219.5" y="335" width="60.0" height="2" fill="url(#h3_38)" shape-rendering="crispEdges"/>
<rect x="219.5" y="337" width="60.0" height="2" fill="url(#h3_39)" shape-rendering="crispEdges"/>
<rect x="219.5" y="339" width="60.0" height="2" fill="url(#h3_40)" shape-rendering="crispEdges"/>
<rect x="219.5" y="341" width="60.0" height="2" fill="url(#h3_41)" shape-rendering="crispEdges"/>
<rect x="219.5" y="343" width="60.0" height="2" fill="url(#h3_42)" shape-rendering="crispEdges"/>
<rect x="219.5" y="345" width="60.0" height="2" fill="url(#h3_43)" shape-rendering="crispEdges"/>
<rect x="219.5" y="347" width="60.0" height="2" fill="url(#h3_44)" shape-rendering="crispEdges"/>
<rect x="219.5" y="349" width="60.0" height="2" fill="url(#h3_45)" shape-rendering="crispEdges"/>
<rect x="219.5" y="351" width="60.0" height="2" fill="url(#h3_46)" shape-rendering="crispEdges"/>
<rect x="219.5" y="353" width="60.0" height="2" fill="url(#h3_47)" shape-rendering="crispEdges"/>
<rect x="219.5" y="355" width="60.0" height="2" fill="url(#h3_48)" shape-rendering="crispEdges"/>
<rect x="219.5" y="357" width="60.0" height="2" fill="url(#h3_49)" shape-rendering="crispEdges"/>
<rect x="219.5" y="359" width="60.0" height="2" fill="url(#h3_50)" shape-rendering="crispEdges"/>
<rect x="219.5" y="361" width="60.0" height="2" fill="url(#h3_51)" shape-rendering="crispEdges"/>
<rect x="219.5" y="363" width="60.0" height="2" fill="url(#h3_52)" shape-rendering="crispEdges"/>
<rect x="219.5" y="365" width="60.0" height="2" fill="url(#h3_53)" shape-rendering="crispEdges"/>
<rect x="219.5" y="367" width="60.0" height="2" fill="url(#h3_54)" shape-rendering="crispEdges"/>
<rect x="219.5" y="369" width="60.0" height="2" fill="url(#h3_55)" shape-rendering="crispEdges"/>
<rect x="219.5" y="371" width="60.0" height="2" fill="url(#h3_56)" shape-rendering="crispEdges"/>
<rect x="219.5" y="373" width="60.0" height="2" fill="url(#h3_57)" shape-rendering="crispEdges"/>
<rect x="219.5" y="375" width="60.0" height="2" fill="url(#h3_58)" shape-rendering="crispEdges"/>
<rect x="219.5" y="377" width="60.0" height="2" fill="url(#h3_59)" shape-rendering="crispEdges"/>
<rect x="219.5" y="379" width="60.0" height="2" fill="url(#h3_60)" shape-rendering="crispEdges"/>
<rect x="219.5" y="381" width="60.0" height="2" fill="url(#h3_61)" shape-rendering="crispEdges"/>
<rect x="219.5" y="383" width="60.0" height="2" fill="url(#h3_62)" shape-rendering="crispEdges"/>
<rect x="219.5" y="385" width="60.0" height="2" fill="url(#h3_63)" shape-rendering="crispEdges"/>
<rect x="219.5" y="387" width="60.0" height="2" fill="url(#h3_64)" shape-rendering="crispEdges"/>
<rect x="219.5" y="389" width="60.0" height="2" fill="url(#h3_65)" shape-rendering="crispEdges"/>
<rect x="219.5" y="391" width="60.0" height="2" fill="url(#h3_66)" shape-rendering="crispEdges"/>
<rect x="219.5" y="393" width="60.0" height="2" fill="url(#h3_67)" shape-rendering="crispEdges"/>
<rect x="219.5" y="395" width="60.0" height="2" fill="url(#h3_68)" shape-rendering="crispEdges"/>
<rect x="219.5" y="397" width="60.0" height="2" fill="url(#h3_69)" shape-rendering="crispEdges"/>
<rect x="219.5" y="399" width="60.0" height="2" fill="url(#h3_70)" shape-rendering="crispEdges"/>
<rect x="219.5" y="401" width="60.0" height="2" fill="url(#h3_71)" shape-rendering="crispEdges"/>
<rect x="219.5" y="403" width="60.0" height="2" fill="url(#h3_72)" shape-rendering="crispEdges"/>
<rect x="219.5" y="405" width="60.0" height="2" fill="url(#h3_73)" shape-rendering="crispEdges"/>
<rect x="219.5" y="259" width="60.0" height="148" fill="#000" filter="url(#streakD)" opacity="1"/>
<rect x="260.8" y="259" width="12.3" height="1" fill="#f7864a" opacity="0.08"/><rect x="259.7" y="269" width="19.8" height="1" fill="#f7864a" opacity="0.13"/><rect x="219.5" y="313" width="7.6" height="1" fill="#f7864a" opacity="0.08"/><rect x="269.2" y="271" width="7.9" height="1" fill="#f7864a" opacity="0.19"/><rect x="267.2" y="342" width="12.3" height="1" fill="#f7864a" opacity="0.06"/><rect x="219.5" y="267" width="13.7" height="1" fill="#f7864a" opacity="0.21"/><rect x="219.5" y="324" width="14.9" height="1" fill="#f7864a" opacity="0.17"/><rect x="225.8" y="308" width="16.8" height="1" fill="#f7864a" opacity="0.12"/><rect x="219.5" y="302" width="17.1" height="1" fill="#f7864a" opacity="0.07"/><rect x="234.5" y="259" width="6.2" height="1" fill="#f7864a" opacity="0.11"/><rect x="269.4" y="275" width="10.1" height="1" fill="#f7864a" opacity="0.27"/><rect x="219.5" y="323" width="4.2" height="1" fill="#f7864a" opacity="0.13"/><rect x="235.3" y="343" width="7.6" height="1" fill="#f7864a" opacity="0.08"/><rect x="231.0" y="277" width="12.5" height="1" fill="#f7864a" opacity="0.14"/><rect x="256.0" y="356" width="15.7" height="1" fill="#f7864a" opacity="0.06"/><rect x="219.5" y="277" width="15.4" height="1" fill="#f7864a" opacity="0.12"/><rect x="222.4" y="322" width="4.1" height="1" fill="#f7864a" opacity="0.15"/><rect x="266.5" y="272" width="7.6" height="1" fill="#f7864a" opacity="0.09"/><rect x="220.7" y="368" width="14.2" height="1" fill="#f7864a" opacity="0.04"/><rect x="219.5" y="300" width="11.4" height="1" fill="#f7864a" opacity="0.11"/><rect x="257.0" y="338" width="17.4" height="1" fill="#f7864a" opacity="0.12"/><rect x="264.1" y="319" width="7.3" height="1" fill="#f7864a" opacity="0.07"/><rect x="257.5" y="266" width="22.0" height="1" fill="#f7864a" opacity="0.26"/><rect x="263.0" y="259" width="16.5" height="1" fill="#f7864a" opacity="0.28"/><rect x="219.5" y="322" width="19.2" height="1" fill="#f7864a" opacity="0.10"/><rect x="219.5" y="322" width="17.5" height="1" fill="#f7864a" opacity="0.14"/><rect x="219.5" y="263" width="14.6" height="1" fill="#f7864a" opacity="0.08"/><rect x="258.4" y="318" width="11.1" height="1" fill="#f7864a" opacity="0.05"/><rect x="264.0" y="287" width="15.5" height="1" fill="#f7864a" opacity="0.22"/><rect x="224.5" y="263" width="6.2" height="1" fill="#f7864a" opacity="0.24"/><rect x="219.6" y="260" width="14.8" height="1" fill="#f7864a" opacity="0.10"/><rect x="219.5" y="263" width="15.5" height="1" fill="#f7864a" opacity="0.19"/><rect x="264.3" y="276" width="7.4" height="1" fill="#f7864a" opacity="0.12"/><rect x="266.3" y="364" width="13.2" height="1" fill="#f7864a" opacity="0.08"/><rect x="257.2" y="261" width="21.3" height="1" fill="#f7864a" opacity="0.21"/><rect x="231.7" y="260" width="11.6" height="1" fill="#f7864a" opacity="0.18"/><rect x="261.8" y="340" width="17.7" height="1" fill="#f7864a" opacity="0.10"/><rect x="219.5" y="303" width="21.3" height="1" fill="#f7864a" opacity="0.14"/><rect x="259.7" y="259" width="19.8" height="1" fill="#f7864a" opacity="0.25"/><rect x="262.4" y="288" width="17.1" height="1" fill="#f7864a" opacity="0.15"/><rect x="219.5" y="260" width="17.7" height="1" fill="#f7864a" opacity="0.28"/><rect x="274.3" y="321" width="5.2" height="1" fill="#f7864a" opacity="0.11"/><rect x="255.8" y="268" width="12.3" height="1" fill="#f7864a" opacity="0.25"/><rect x="257.3" y="309" width="11.2" height="1" fill="#f7864a" opacity="0.18"/><rect x="223.8" y="343" width="12.5" height="1" fill="#f7864a" opacity="0.04"/><rect x="261.9" y="297" width="6.6" height="1" fill="#f7864a" opacity="0.11"/><rect x="262.7" y="301" width="13.6" height="1" fill="#f7864a" opacity="0.15"/><rect x="257.4" y="322" width="7.0" height="1" fill="#f7864a" opacity="0.11"/><rect x="259.2" y="292" width="20.3" height="1" fill="#f7864a" opacity="0.21"/><rect x="259.6" y="278" width="8.5" height="1" fill="#f7864a" opacity="0.25"/><rect x="274.9" y="351" width="4.6" height="1" fill="#f7864a" opacity="0.04"/><rect x="219.5" y="312" width="14.0" height="1" fill="#f7864a" opacity="0.05"/><rect x="261.8" y="275" width="13.1" height="1" fill="#f7864a" opacity="0.13"/><rect x="229.2" y="287" width="13.7" height="1" fill="#f7864a" opacity="0.21"/><rect x="219.5" y="265" width="7.4" height="1" fill="#f7864a" opacity="0.09"/><rect x="219.5" y="306" width="14.3" height="1" fill="#f7864a" opacity="0.08"/><rect x="255.9" y="261" width="4.5" height="1" fill="#f7864a" opacity="0.21"/><rect x="256.8" y="311" width="5.8" height="1" fill="#f7864a" opacity="0.10"/><rect x="269.5" y="333" width="8.8" height="1" fill="#f7864a" opacity="0.12"/><rect x="222.8" y="278" width="8.9" height="1" fill="#f7864a" opacity="0.07"/><rect x="219.5" y="261" width="8.9" height="1" fill="#f7864a" opacity="0.29"/><rect x="219.5" y="293" width="10.0" height="1" fill="#f7864a" opacity="0.18"/><rect x="264.0" y="298" width="15.5" height="1" fill="#f7864a" opacity="0.09"/><rect x="236.7" y="349" width="4.8" height="1" fill="#f7864a" opacity="0.06"/><rect x="219.5" y="300" width="18.9" height="1" fill="#f7864a" opacity="0.22"/><rect x="260.9" y="346" width="18.6" height="1" fill="#f7864a" opacity="0.05"/><rect x="235.1" y="279" width="8.0" height="1" fill="#f7864a" opacity="0.25"/><rect x="230.7" y="282" width="5.7" height="1" fill="#f7864a" opacity="0.08"/><rect x="260.3" y="313" width="9.5" height="1" fill="#f7864a" opacity="0.10"/><rect x="267.3" y="348" width="12.2" height="1" fill="#f7864a" opacity="0.10"/>
<text x="0" y="0" font-size="8.4" fill="#3c3c3c" text-anchor="end" transform="translate(222.9,412.3) rotate(-90)">−2.0</text>
<text x="0" y="0" font-size="8.4" fill="#3c3c3c" text-anchor="end" transform="translate(281.5,412.3) rotate(-90)">2.0</text>
<text x="248.6" y="418.5" font-size="7.2" text-anchor="middle" fill="#3c3c3c" textLength="15.3" lengthAdjust="spacingAndGlyphs" >MBH</text>
<text x="248.4" y="426.5" font-size="7.6" text-anchor="middle" fill="#3c3c3c" textLength="22.4" lengthAdjust="spacingAndGlyphs" >center</text>
<text x="157.4" y="441.6" font-size="9.2" text-anchor="middle" fill="#3c3c3c" textLength="51.5" lengthAdjust="spacingAndGlyphs" >Distance (kb)</text>
<text x="0" y="0" font-size="8" fill="#3c3c3c" text-anchor="middle" textLength="40" lengthAdjust="spacingAndGlyphs" transform="translate(21,328.5) rotate(-90)"><tspan font-style="italic">n</tspan> = 15,434</text>
<rect x="284" y="259" width="6.3" height="147.5" fill="url(#cbar)"/>
<line x1="290.3" y1="405.7" x2="292.6" y2="405.7" stroke="#666" stroke-width="0.6"/>
<text x="295.2" y="408.4" font-size="7.5" text-anchor="start" fill="#333" >0</text>
<line x1="290.3" y1="380.7" x2="292.6" y2="380.7" stroke="#666" stroke-width="0.6"/>
<text x="295.2" y="383.4" font-size="7.5" text-anchor="start" fill="#333" >2</text>
<line x1="290.3" y1="355.7" x2="292.6" y2="355.7" stroke="#666" stroke-width="0.6"/>
<text x="295.2" y="358.4" font-size="7.5" text-anchor="start" fill="#333" >4</text>
<line x1="290.3" y1="330.7" x2="292.6" y2="330.7" stroke="#666" stroke-width="0.6"/>
<text x="295.2" y="333.4" font-size="7.5" text-anchor="start" fill="#333" >6</text>
<line x1="290.3" y1="305.7" x2="292.6" y2="305.7" stroke="#666" stroke-width="0.6"/>
<text x="295.2" y="308.4" font-size="7.5" text-anchor="start" fill="#333" >8</text>
<line x1="290.3" y1="280.7" x2="292.6" y2="280.7" stroke="#666" stroke-width="0.6"/>
<text x="295.2" y="283.4" font-size="7.5" text-anchor="start" fill="#333" >10</text>
<text x="0" y="0" font-size="7.8" fill="#3c3c3c" text-anchor="start" textLength="45.6" lengthAdjust="spacingAndGlyphs" transform="translate(307.6,307.4) rotate(90)">Read density</text>
<rect x="346.5" y="180.5" width="42" height="168" fill="none" stroke="#a0a0a0" stroke-width="1"/>
<line x1="343.4" y1="314.8" x2="346.4" y2="314.8" stroke="#666" stroke-width="0.6"/>
<text x="337.0" y="317.6" font-size="7.8" text-anchor="middle" fill="#333" >0</text>
<line x1="343.4" y1="275.46000000000004" x2="346.4" y2="275.46000000000004" stroke="#666" stroke-width="0.6"/>
<text x="337.0" y="278.26000000000005" font-size="7.8" text-anchor="middle" fill="#333" >2</text>
<line x1="343.4" y1="236.12" x2="346.4" y2="236.12" stroke="#666" stroke-width="0.6"/>
<text x="337.0" y="238.92000000000002" font-size="7.8" text-anchor="middle" fill="#333" >4</text>
<line x1="343.4" y1="196.78" x2="346.4" y2="196.78" stroke="#666" stroke-width="0.6"/>
<text x="337.0" y="199.58" font-size="7.8" text-anchor="middle" fill="#333" >6</text>
<text x="366.8" y="190.3" font-size="9.5" text-anchor="middle" fill="#3c3c3c" textLength="18.4" lengthAdjust="spacingAndGlyphs" >****</text>
<text x="0" y="0" font-size="8.4" fill="#3c3c3c" text-anchor="middle" transform="translate(329.2,263.7) rotate(-90)" textLength="110" lengthAdjust="spacingAndGlyphs">log<tspan font-size="5.5" dy="2">2</tspan><tspan dy="-2"> (MeCP2 read density)</tspan></text>
<line x1="357.4" y1="208" x2="357.4" y2="244" stroke="#d2d2d2" stroke-width="2.6" stroke-linecap="round"/>
<line x1="357.4" y1="295" x2="357.4" y2="309" stroke="#d2d2d2" stroke-width="2.6" stroke-linecap="round"/>
<circle cx="357.4" cy="315.5" r="1.4" fill="#d2d2d2"/>
<line x1="357.4" y1="244" x2="357.4" y2="261" stroke="#cfcfcf" stroke-width="0.8"/>
<line x1="357.4" y1="275.5" x2="357.4" y2="294.8" stroke="#cfcfcf" stroke-width="0.8"/>
<rect x="349.79999999999995" y="261" width="15.2" height="14.5" fill="none" stroke="#cfcfcf" stroke-width="0.8"/>
<line x1="349.79999999999995" y1="268.4" x2="365.0" y2="268.4" stroke="#cfcfcf" stroke-width="0.8"/>
<line x1="376.8" y1="197" x2="376.8" y2="224" stroke="#dd2a1f" stroke-width="2.6" stroke-linecap="round"/>
<line x1="376.8" y1="296" x2="376.8" y2="316.5" stroke="#dd2a1f" stroke-width="2.6" stroke-linecap="round"/>
<circle cx="376.8" cy="193.5" r="1.4" fill="#dd2a1f"/>
<circle cx="376.8" cy="319" r="1.4" fill="#dd2a1f"/>
<line x1="376.8" y1="224" x2="376.8" y2="250.6" stroke="#f08b85" stroke-width="0.8"/>
<line x1="376.8" y1="269.4" x2="376.8" y2="295.8" stroke="#f08b85" stroke-width="0.8"/>
<rect x="369.2" y="250.6" width="15.2" height="18.799999999999983" fill="none" stroke="#f08b85" stroke-width="0.8"/>
<line x1="369.2" y1="259.3" x2="384.40000000000003" y2="259.3" stroke="#f08b85" stroke-width="0.8"/>
<line x1="357.2" y1="348.8" x2="357.2" y2="351.3" stroke="#666" stroke-width="0.6"/>
<line x1="376.6" y1="348.8" x2="376.6" y2="351.3" stroke="#666" stroke-width="0.6"/>
<text x="0" y="0" font-size="9.4" fill="#3c3c3c" text-anchor="end" transform="translate(364.5,359.5) rotate(-45)"><tspan font-style="italic">Dnmt3a</tspan> WT</text>
<text x="0" y="0" font-size="9.4" fill="#3c3c3c" text-anchor="end" transform="translate(383.5,359.5) rotate(-45)"><tspan font-style="italic">Dnmt3a</tspan> cKO</text>
<text x="398.6" y="172.5" font-size="12" text-anchor="start" fill="#000" font-weight="bold" >d</text>
<text x="430" y="192.7" font-size="8.6" text-anchor="start" fill="#3c3c3c" textLength="113.3" lengthAdjust="spacingAndGlyphs" >chr2:179440849–179467842</text>
<text x="684.3" y="185.3" font-size="8.6" fill="#4b4bb0" text-anchor="end" font-style="italic" textLength="46" lengthAdjust="spacingAndGlyphs">Dnmt3a<tspan font-style="normal"> WT</tspan></text>
<text x="684.3" y="196.6" font-size="8.6" fill="#f07585" text-anchor="end" font-style="italic" textLength="50" lengthAdjust="spacingAndGlyphs">Dnmt3a<tspan font-style="normal"> cKO</tspan></text>
<rect x="431" y="197.3" width="252.7" height="121" fill="#fdfcfd" stroke="none"/>
<line x1="427.2" y1="197.5" x2="685" y2="197.5" stroke="#8c8c8c" stroke-width="1"/>
<line x1="431.5" y1="197" x2="431.5" y2="318.5" stroke="#a0a0a0" stroke-width="1"/>
<line x1="431.5" y1="318.5" x2="684" y2="318.5" stroke="#bdbdbd" stroke-width="1"/>
<line x1="683.5" y1="197.5" x2="683.5" y2="318.5" stroke="#c4c4c4" stroke-width="1"/>
<text x="434" y="205.6" font-size="7.8" text-anchor="start" fill="#444" textLength="21.4" lengthAdjust="spacingAndGlyphs" >[0–10]</text>
<text x="434" y="254.8" font-size="7.8" text-anchor="start" fill="#444" textLength="21.4" lengthAdjust="spacingAndGlyphs" >[0–10]</text>
<text x="426.6" y="219.8" font-size="8.4" text-anchor="end" fill="#3c3c3c" textLength="27.6" lengthAdjust="spacingAndGlyphs" >MeCP2</text>
<text x="426.6" y="229.8" font-size="8.2" text-anchor="end" fill="#3c3c3c" textLength="24.9" lengthAdjust="spacingAndGlyphs" >(Rep1)</text>
<text x="426.6" y="264" font-size="8.4" text-anchor="end" fill="#3c3c3c" textLength="27.6" lengthAdjust="spacingAndGlyphs" >MeCP2</text>
<text x="426.6" y="273.8" font-size="8.2" text-anchor="end" fill="#3c3c3c" textLength="24.9" lengthAdjust="spacingAndGlyphs" >(Rep2)</text>
<line x1="427.6" y1="245" x2="431" y2="245" stroke="#666" stroke-width="0.6"/>
<line x1="427.6" y1="292.4" x2="431" y2="292.4" stroke="#666" stroke-width="0.6"/>
<polygon points="431.50,244.60 431.50,242.15 432.00,241.81 432.50,241.80 433.00,241.81 433.50,242.15 434.00,243.57 434.50,244.56 435.00,244.60 435.50,244.60 436.00,244.60 436.50,244.60 437.00,244.60 437.50,244.60 438.00,244.60 438.50,244.60 439.00,244.60 439.50,244.60 440.00,244.60 440.50,244.60 441.00,244.60 441.50,244.60 442.00,244.60 442.50,244.60 443.00,244.60 443.50,244.60 444.00,244.60 444.50,244.60 445.00,244.60 445.50,244.58 446.00,244.01 446.50,243.20 447.00,243.01 447.50,243.00 448.00,243.01 448.50,243.20 449.00,244.01 449.50,244.58 450.00,244.60 450.50,244.60 451.00,244.60 451.50,244.60 452.00,244.60 452.50,244.60 453.00,244.60 453.50,244.60 454.00,244.60 454.50,244.60 455.00,244.60 455.50,244.60 456.00,244.60 456.50,244.60 457.00,244.60 457.50,244.60 458.00,244.60 458.50,244.60 459.00,244.60 459.50,244.60 460.00,244.60 460.50,244.60 461.00,244.56 461.50,243.90 462.00,241.51 462.50,238.55 463.00,236.83 463.50,236.29 464.00,236.20 464.50,236.20 465.00,236.20 465.50,236.29 466.00,236.83 466.50,238.55 467.00,241.51 467.50,243.90 468.00,244.54 468.50,244.13 469.00,243.09 469.50,241.86 470.00,241.01 470.50,240.63 471.00,240.52 471.50,240.50 472.00,240.50 472.50,240.50 473.00,240.52 473.50,240.63 474.00,241.01 474.50,241.86 475.00,243.09 475.50,244.13 476.00,244.54 476.50,244.60 477.00,244.60 477.50,244.60 478.00,244.60 478.50,244.58 479.00,244.42 479.50,243.76 480.00,242.43 480.50,240.89 481.00,239.70 481.50,239.05 482.00,238.78 482.50,238.71 483.00,238.70 483.50,238.70 484.00,238.70 484.50,238.71 485.00,238.78 485.50,239.05 486.00,239.70 486.50,240.89 487.00,242.43 487.50,243.76 488.00,244.42 488.50,244.58 489.00,244.49 489.50,244.06 490.00,243.20 490.50,242.21 491.00,241.44 491.50,241.02 492.00,240.85 492.50,240.81 493.00,240.80 493.50,240.80 494.00,240.80 494.50,240.81 495.00,240.85 495.50,241.02 496.00,241.44 496.50,242.21 497.00,243.20 497.50,244.06 498.00,244.49 498.50,244.59 499.00,244.58 499.50,244.24 500.00,243.02 500.50,241.50 501.00,240.62 501.50,240.34 502.00,240.30 502.50,240.30 503.00,240.30 503.50,240.34 504.00,240.62 504.50,241.50 505.00,243.02 505.50,244.24 506.00,244.58 506.50,244.60 507.00,244.60 507.50,244.60 508.00,244.60 508.50,244.60 509.00,244.60 509.50,244.60 510.00,244.60 510.50,244.58 511.00,244.01 511.50,243.20 512.00,243.01 512.50,243.00 513.00,243.01 513.50,243.20 514.00,244.01 514.50,244.58 515.00,244.60 515.50,244.60 516.00,244.60 516.50,244.60 517.00,244.47 517.50,243.58 518.00,241.33 518.50,238.65 519.00,236.80 519.50,235.97 520.00,235.74 520.50,235.70 521.00,235.70 521.50,235.70 522.00,235.74 522.50,235.97 523.00,236.80 523.50,238.65 524.00,241.33 524.50,243.58 525.00,244.47 525.50,244.60 526.00,244.60 526.50,244.60 527.00,244.60 527.50,244.60 528.00,244.60 528.50,244.60 529.00,244.60 529.50,244.60 530.00,244.59 530.50,244.37 531.00,243.57 531.50,242.58 532.00,242.01 532.50,241.83 533.00,241.80 533.50,241.80 534.00,241.80 534.50,241.83 535.00,242.01 535.50,242.58 536.00,243.57 536.50,244.37 537.00,244.59 537.50,244.60 538.00,244.60 538.50,244.60 539.00,244.60 539.50,244.60 540.00,244.60 540.50,244.60 541.00,244.60 541.50,244.60 542.00,244.60 542.50,244.60 543.00,244.60 543.50,244.60 544.00,244.60 544.50,244.60 545.00,244.60 545.50,244.59 546.00,244.50 546.50,244.10 547.00,243.31 547.50,242.40 548.00,241.69 548.50,241.31 549.00,241.15 549.50,241.11 550.00,241.10 550.50,241.10 551.00,241.10 551.50,241.11 552.00,241.15 552.50,241.31 553.00,241.69 553.50,242.40 554.00,243.31 554.50,244.10 555.00,244.50 555.50,244.59 556.00,244.60 556.50,244.60 557.00,244.60 557.50,244.60 558.00,244.60 558.50,244.60 559.00,244.60 559.50,244.60 560.00,244.60 560.50,244.60 561.00,244.60 561.50,244.60 562.00,244.60 562.50,244.60 563.00,244.60 563.50,244.60 564.00,244.60 564.50,244.60 565.00,244.60 565.50,244.60 566.00,244.60 566.50,244.58 567.00,244.20 567.50,243.64 568.00,243.50 568.50,243.50 569.00,243.50 569.50,243.64 570.00,244.20 570.50,244.58 571.00,244.60 571.50,244.60 572.00,244.60 572.50,244.60 573.00,244.60 573.50,244.60 574.00,244.60 574.50,244.60 575.00,244.60 575.50,244.60 576.00,244.60 576.50,244.58 577.00,244.05 577.50,243.29 578.00,243.11 578.50,243.10 579.00,243.11 579.50,243.29 580.00,244.05 580.50,244.58 581.00,244.60 581.50,244.60 582.00,244.60 582.50,244.60 583.00,244.60 583.50,244.60 584.00,244.60 584.50,244.60 585.00,244.60 585.50,244.38 586.00,242.87 586.50,240.89 587.00,240.04 587.50,239.90 588.00,239.90 588.50,239.90 589.00,240.04 589.50,240.89 590.00,242.87 590.50,244.38 591.00,244.60 591.50,244.60 592.00,244.60 592.50,244.60 593.00,244.60 593.50,244.60 594.00,244.49 594.50,243.72 595.00,241.80 595.50,239.52 596.00,237.94 596.50,237.23 597.00,237.03 597.50,237.00 598.00,237.00 598.50,237.00 599.00,237.03 599.50,237.23 600.00,237.94 600.50,239.52 601.00,241.80 601.50,241.00 602.00,239.97 602.50,239.65 603.00,239.60 603.50,239.60 604.00,239.60 604.50,239.65 605.00,239.97 605.50,241.00 606.00,242.76 606.50,244.18 607.00,244.58 607.50,244.60 608.00,244.60 608.50,244.60 609.00,244.60 609.50,244.60 610.00,244.60 610.50,244.60 611.00,244.60 611.50,244.60 612.00,244.60 612.50,244.60 613.00,244.60 613.50,244.60 614.00,244.60 614.50,244.60 615.00,244.60 615.50,244.60 616.00,244.58 616.50,244.24 617.00,243.02 617.50,241.50 618.00,240.62 618.50,240.34 619.00,240.30 619.50,240.30 620.00,240.30 620.50,240.34 621.00,240.62 621.50,241.50 622.00,243.02 622.50,244.24 623.00,244.58 623.50,244.57 624.00,243.83 624.50,242.76 625.00,242.51 625.50,242.50 626.00,242.51 626.50,242.08 627.00,242.00 627.50,242.08 628.00,243.64 628.50,244.60 629.00,244.60 629.50,244.60 630.00,244.60 630.50,244.60 631.00,244.60 631.50,244.60 632.00,244.60 632.50,244.60 633.00,244.60 633.50,244.60 634.00,244.01 634.50,243.05 635.00,243.00 635.50,243.05 636.00,244.01 636.50,244.60 637.00,244.60 637.50,244.60 638.00,244.60 638.50,244.60 639.00,244.60 639.50,244.52 640.00,243.15 640.50,243.00 641.00,243.15 641.50,244.52 642.00,244.60 642.50,244.60 643.00,244.59 643.50,244.57 644.00,244.51 644.50,244.38 645.00,244.07 645.50,243.42 646.00,242.20 646.50,240.10 647.00,236.83 647.50,232.23 648.00,226.44 648.50,220.04 649.00,213.99 649.50,209.43 650.00,207.36 650.50,208.26 651.00,211.92 651.50,217.51 652.00,223.91 652.50,230.04 653.00,235.15 653.50,238.95 654.00,241.49 654.50,243.02 655.00,243.86 655.50,244.28 656.00,244.47 656.50,244.55 657.00,244.58 657.50,244.60 658.00,244.60 658.50,244.60 659.00,244.60 659.50,244.60 660.00,244.60 660.50,244.60 661.00,244.60 661.50,244.60 662.00,244.60 662.50,244.60 663.00,244.60 663.50,244.60 664.00,244.60 664.50,244.60 665.00,244.60 665.50,244.60 666.00,244.60 666.50,244.60 667.00,244.60 667.50,244.56 668.00,243.53 668.50,242.06 669.00,241.71 669.50,241.70 670.00,241.71 670.50,242.06 671.00,243.53 671.50,244.56 672.00,244.60 672.50,244.60 673.00,244.60 673.50,244.60 674.00,244.60 674.50,244.60 675.00,244.60 675.50,244.60 676.00,244.60 676.50,244.60 677.00,244.60 677.50,244.60 678.00,244.60 678.50,244.60 679.00,244.60 679.50,244.60 680.00,244.60 680.50,244.60 681.00,244.60 681.50,244.60 682.00,244.60 682.50,244.60 683.00,244.60 683.00,244.60" fill="#3d3da6"/>
<polygon points="431.50,244.60 431.50,244.38 432.00,242.91 432.50,240.97 433.00,240.14 433.50,240.00 434.00,240.00 434.50,240.00 435.00,240.14 435.50,240.97 436.00,242.91 436.50,244.38 437.00,243.46 437.50,242.15 438.00,241.60 438.50,241.50 439.00,241.50 439.50,240.83 440.00,240.32 440.50,240.30 441.00,240.32 441.50,240.83 442.00,243.02 442.50,244.54 443.00,244.60 443.50,244.60 444.00,244.60 444.50,244.54 445.00,243.09 445.50,241.01 446.00,240.52 446.50,240.50 447.00,240.52 447.50,241.01 448.00,243.09 448.50,244.54 449.00,244.60 449.50,244.60 450.00,244.60 450.50,244.52 451.00,244.01 451.50,243.34 452.00,243.05 452.50,243.00 453.00,243.00 453.50,243.00 454.00,243.05 454.50,243.34 455.00,244.01 455.50,244.52 456.00,244.20 456.50,243.64 457.00,243.50 457.50,243.50 458.00,243.50 458.50,243.64 459.00,244.20 459.50,244.58 460.00,242.43 460.50,238.88 461.00,238.70 461.50,238.88 462.00,242.43 462.50,244.60 463.00,244.60 463.50,244.60 464.00,244.60 464.50,244.60 465.00,244.60 465.50,244.60 466.00,244.60 466.50,244.60 467.00,244.60 467.50,244.60 468.00,244.60 468.50,244.60 469.00,244.60 469.50,244.60 470.00,244.60 470.50,244.60 471.00,244.60 471.50,244.60 472.00,244.60 472.50,244.60 473.00,244.59 473.50,244.38 474.00,243.64 474.50,242.73 475.00,242.19 475.50,242.03 476.00,242.00 476.50,242.00 477.00,242.00 477.50,242.03 478.00,242.19 478.50,242.73 479.00,243.64 479.50,244.38 480.00,244.59 480.50,244.60 481.00,244.60 481.50,244.60 482.00,244.60 482.50,244.60 483.00,244.60 483.50,244.60 484.00,244.60 484.50,244.60 485.00,244.60 485.50,244.60 486.00,244.60 486.50,244.60 487.00,244.60 487.50,244.60 488.00,244.60 488.50,244.60 489.00,244.60 489.50,244.60 490.00,244.60 490.50,244.60 491.00,244.60 491.50,244.60 492.00,244.60 492.50,244.60 493.00,244.60 493.50,244.60 494.00,244.60 494.50,244.60 495.00,244.60 495.50,244.60 496.00,244.60 496.50,244.60 497.00,244.60 497.50,244.60 498.00,244.60 498.50,244.60 499.00,244.60 499.50,244.60 500.00,244.60 500.50,244.60 501.00,244.60 501.50,244.60 502.00,244.60 502.50,244.60 503.00,244.60 503.50,244.60 504.00,244.60 504.50,244.60 505.00,244.60 505.50,244.60 506.00,244.60 506.50,244.60 507.00,244.01 507.50,243.05 508.00,243.00 508.50,243.05 509.00,244.01 509.50,244.60 510.00,243.83 510.50,242.56 511.00,242.50 511.50,242.56 512.00,243.83 512.50,244.60 513.00,244.60 513.50,244.60 514.00,243.31 514.50,241.21 515.00,241.10 515.50,241.21 516.00,243.31 516.50,244.60 517.00,244.59 517.50,244.38 518.00,243.64 518.50,242.73 519.00,242.19 519.50,242.03 520.00,242.00 520.50,242.00 521.00,242.00 521.50,242.03 522.00,242.19 522.50,242.73 523.00,243.64 523.50,244.38 524.00,244.59 524.50,244.60 525.00,244.60 525.50,244.60 526.00,244.60 526.50,244.60 527.00,244.60 527.50,244.60 528.00,244.60 528.50,244.60 529.00,244.60 529.50,244.60 530.00,244.60 530.50,244.60 531.00,244.60 531.50,244.60 532.00,244.60 532.50,244.60 533.00,244.60 533.50,244.60 534.00,244.60 534.50,244.58 535.00,244.08 535.50,243.37 536.00,243.21 536.50,243.20 537.00,243.21 537.50,243.37 538.00,244.08 538.50,244.58 539.00,244.60 539.50,244.60 540.00,244.60 540.50,244.60 541.00,244.60 541.50,244.60 542.00,244.60 542.50,244.60 543.00,244.60 543.50,244.60 544.00,244.60 544.50,244.60 545.00,244.60 545.50,244.60 546.00,244.60 546.50,244.60 547.00,244.60 547.50,244.60 548.00,244.60 548.50,244.60 549.00,244.01 549.50,243.05 550.00,243.00 550.50,243.05 551.00,244.01 551.50,244.60 552.00,244.60 552.50,244.60 553.00,244.60 553.50,244.60 554.00,244.60 554.50,244.60 555.00,244.60 555.50,244.60 556.00,244.60 556.50,244.60 557.00,244.60 557.50,244.60 558.00,244.60 558.50,244.60 559.00,244.60 559.50,244.60 560.00,244.60 560.50,244.60 561.00,244.60 561.50,244.60 562.00,244.60 562.50,244.54 563.00,243.02 563.50,240.83 564.00,240.32 564.50,240.30 565.00,240.32 565.50,240.83 566.00,243.02 566.50,244.54 567.00,244.60 567.50,244.60 568.00,244.60 568.50,244.60 569.00,244.60 569.50,244.60 570.00,244.60 570.50,244.60 571.00,244.60 571.50,244.60 572.00,244.60 572.50,244.60 573.00,244.60 573.50,244.60 574.00,244.60 574.50,244.60 575.00,244.60 575.50,244.60 576.00,244.60 576.50,244.60 577.00,244.60 577.50,244.60 578.00,244.60 578.50,244.60 579.00,244.60 579.50,244.60 580.00,244.60 580.50,244.60 581.00,244.60 581.50,244.54 582.00,244.12 582.50,243.57 583.00,243.34 583.50,243.30 584.00,243.30 584.50,243.30 585.00,243.34 585.50,243.57 586.00,244.12 586.50,244.54 587.00,244.60 587.50,244.60 588.00,244.60 588.50,244.60 589.00,244.60 589.50,244.60 590.00,244.60 590.50,244.60 591.00,244.01 591.50,243.05 592.00,243.00 592.50,243.05 593.00,244.01 593.50,244.60 594.00,244.60 594.50,244.60 595.00,244.60 595.50,244.60 596.00,244.60 596.50,244.60 597.00,244.60 597.50,244.60 598.00,244.60 598.50,244.60 599.00,244.60 599.50,244.60 600.00,244.60 600.50,244.60 601.00,244.60 601.50,244.60 602.00,244.60 602.50,244.60 603.00,244.60 603.50,244.52 604.00,242.72 604.50,240.13 605.00,239.52 605.50,239.50 606.00,239.52 606.50,240.13 607.00,242.72 607.50,244.52 608.00,244.20 608.50,243.73 609.00,243.53 609.50,243.50 610.00,243.50 610.50,243.50 611.00,243.53 611.50,243.73 612.00,244.20 612.50,244.48 613.00,244.08 613.50,243.59 614.00,243.30 614.50,243.21 615.00,243.20 615.50,243.20 616.00,243.20 616.50,243.21 617.00,243.30 617.50,243.59 618.00,244.08 618.50,244.48 619.00,244.59 619.50,244.60 620.00,244.59 620.50,244.47 621.00,244.01 621.50,243.45 622.00,243.12 622.50,243.02 623.00,243.00 623.50,243.00 624.00,243.00 624.50,243.02 625.00,243.12 625.50,243.45 626.00,244.01 626.50,244.47 627.00,244.59 627.50,244.58 628.00,244.01 628.50,243.20 629.00,243.01 629.50,243.00 630.00,243.01 630.50,243.20 631.00,244.01 631.50,244.58 632.00,244.60 632.50,244.60 633.00,244.60 633.50,244.60 634.00,244.60 634.50,244.60 635.00,244.60 635.50,244.60 636.00,244.60 636.50,244.60 637.00,244.60 637.50,244.52 638.00,243.15 638.50,243.00 639.00,243.15 639.50,244.52 640.00,244.60 640.50,244.60 641.00,244.59 641.50,244.58 642.00,244.56 642.50,244.51 643.00,244.40 643.50,244.21 644.00,243.85 644.50,243.25 645.00,242.30 645.50,240.88 646.00,238.89 646.50,236.31 647.00,233.19 647.50,229.73 648.00,226.24 648.50,223.12 649.00,220.80 649.50,219.61 650.00,219.74 650.50,221.18 651.00,223.69 651.50,226.92 652.00,230.44 652.50,233.85 653.00,236.87 653.50,239.34 654.00,241.20 654.50,242.52 655.00,243.40 655.50,243.94 656.00,243.83 656.50,242.76 657.00,242.51 657.50,242.50 658.00,242.51 658.50,242.76 659.00,243.83 659.50,244.57 660.00,244.60 660.50,244.60 661.00,244.60 661.50,244.60 662.00,244.01 662.50,243.05 663.00,243.00 663.50,243.05 664.00,244.01 664.50,244.60 665.00,244.60 665.50,244.60 666.00,244.60 666.50,244.60 667.00,244.60 667.50,244.60 668.00,244.60 668.50,244.60 669.00,244.60 669.50,244.60 670.00,244.60 670.50,244.60 671.00,244.60 671.50,244.54 672.00,243.09 672.50,241.01 673.00,240.52 673.50,240.50 674.00,240.52 674.50,241.01 675.00,243.09 675.50,244.54 676.00,244.60 676.50,244.60 677.00,244.01 677.50,243.05 678.00,243.00 678.50,243.05 679.00,244.01 679.50,244.60 680.00,244.60 680.50,244.60 681.00,244.60 681.50,244.60 682.00,244.60 682.50,244.60 683.00,244.60 683.00,244.60" fill="#f05c74" fill-opacity="0.95"/>
<line x1="431" y1="244.9" x2="683.2" y2="244.9" stroke="#f05c74" stroke-width="0.9"/>
<polygon points="431.50,292.60 431.50,288.39 432.00,287.82 432.50,287.80 433.00,287.82 433.50,288.39 434.00,290.83 434.50,292.53 435.00,292.60 435.50,292.60 436.00,292.38 436.50,292.02 437.00,292.00 437.50,292.02 438.00,292.38 438.50,292.60 439.00,292.60 439.50,292.60 440.00,292.60 440.50,292.60 441.00,292.60 441.50,292.60 442.00,292.53 442.50,292.08 443.00,290.94 443.50,289.59 444.00,288.66 444.50,288.24 445.00,288.12 445.50,288.10 446.00,288.10 446.50,288.10 447.00,288.12 447.50,288.24 448.00,288.66 448.50,289.59 449.00,290.94 449.50,292.08 450.00,292.53 450.50,292.60 451.00,292.60 451.50,292.60 452.00,292.60 452.50,292.60 453.00,292.60 453.50,292.60 454.00,292.60 454.50,292.60 455.00,292.60 455.50,292.60 456.00,292.60 456.50,292.60 457.00,292.60 457.50,292.60 458.00,292.60 458.50,292.60 459.00,292.60 459.50,292.60 460.00,292.60 460.50,292.60 461.00,292.60 461.50,292.60 462.00,292.60 462.50,292.60 463.00,292.60 463.50,292.60 464.00,292.60 464.50,292.60 465.00,292.60 465.50,292.60 466.00,292.60 466.50,292.60 467.00,292.60 467.50,292.60 468.00,292.60 468.50,292.60 469.00,292.60 469.50,292.60 470.00,292.60 470.50,292.60 471.00,292.60 471.50,292.60 472.00,292.58 472.50,292.30 473.00,291.28 473.50,290.01 474.00,289.27 474.50,289.04 475.00,289.00 475.50,289.00 476.00,289.00 476.50,289.04 477.00,289.27 477.50,290.01 478.00,291.28 478.50,292.30 479.00,292.58 479.50,292.60 480.00,292.60 480.50,292.60 481.00,292.60 481.50,292.60 482.00,292.60 482.50,292.60 483.00,292.60 483.50,292.55 484.00,291.28 484.50,289.44 485.00,289.01 485.50,289.00 486.00,289.01 486.50,289.44 487.00,291.28 487.50,292.55 488.00,292.60 488.50,292.60 489.00,292.60 489.50,292.60 490.00,292.60 490.50,292.60 491.00,292.50 491.50,291.82 492.00,290.10 492.50,288.05 493.00,286.64 493.50,286.01 494.00,285.83 494.50,285.80 495.00,285.80 495.50,285.80 496.00,285.83 496.50,286.01 497.00,286.64 497.50,288.05 498.00,290.10 498.50,291.82 499.00,292.50 499.50,292.38 500.00,291.64 500.50,290.73 501.00,290.19 501.50,290.03 502.00,290.00 502.50,290.00 503.00,290.00 503.50,290.03 504.00,290.19 504.50,290.73 505.00,291.64 505.50,292.38 506.00,292.59 506.50,292.60 507.00,292.60 507.50,292.60 508.00,292.60 508.50,292.56 509.00,292.43 509.50,292.12 510.00,291.64 510.50,291.11 511.00,290.64 511.50,290.32 512.00,290.13 512.50,290.04 513.00,290.01 513.50,290.00 514.00,290.00 514.50,290.00 515.00,290.00 515.50,290.00 516.00,290.01 516.50,290.04 517.00,290.13 517.50,290.32 518.00,290.64 518.50,291.11 519.00,290.83 519.50,288.81 520.00,287.95 520.50,287.80 521.00,287.80 521.50,287.80 522.00,287.95 522.50,288.81 523.00,290.83 523.50,292.37 524.00,292.60 524.50,292.60 525.00,292.60 525.50,292.60 526.00,292.60 526.50,292.60 527.00,292.60 527.50,292.60 528.00,292.60 528.50,292.60 529.00,292.60 529.50,292.60 530.00,292.60 530.50,292.60 531.00,292.60 531.50,292.60 532.00,292.60 532.50,292.60 533.00,292.60 533.50,292.60 534.00,292.59 534.50,292.53 535.00,292.38 535.50,292.20 536.00,292.07 536.50,292.02 537.00,292.00 537.50,292.00 538.00,292.00 538.50,292.00 539.00,292.00 539.50,292.02 540.00,292.07 540.50,292.20 541.00,292.38 541.50,292.53 542.00,292.59 542.50,292.60 543.00,292.60 543.50,292.60 544.00,292.59 544.50,292.53 545.00,292.30 545.50,291.75 546.00,290.91 546.50,289.96 547.00,289.14 547.50,288.57 548.00,288.24 548.50,288.08 549.00,288.02 549.50,288.00 550.00,288.00 550.50,288.00 551.00,288.00 551.50,288.00 552.00,288.02 552.50,288.08 553.00,288.24 553.50,288.57 554.00,289.14 554.50,289.96 555.00,290.91 555.50,291.75 556.00,292.30 556.50,292.53 557.00,292.59 557.50,292.60 558.00,292.60 558.50,292.60 559.00,292.60 559.50,292.60 560.00,292.60 560.50,292.60 561.00,292.60 561.50,292.60 562.00,292.60 562.50,292.60 563.00,292.60 563.50,292.60 564.00,292.59 564.50,292.38 565.00,291.64 565.50,290.73 566.00,290.19 566.50,290.03 567.00,290.00 567.50,290.00 568.00,290.00 568.50,290.03 569.00,290.19 569.50,290.73 570.00,291.64 570.50,292.38 571.00,292.59 571.50,292.60 572.00,292.60 572.50,292.60 573.00,292.60 573.50,292.60 574.00,292.60 574.50,292.60 575.00,292.60 575.50,292.60 576.00,292.60 576.50,292.60 577.00,292.60 577.50,292.60 578.00,292.60 578.50,292.48 579.00,291.64 579.50,290.55 580.00,290.08 580.50,290.00 581.00,290.00 581.50,290.00 582.00,290.08 582.50,290.55 583.00,291.64 583.50,292.48 584.00,292.60 584.50,292.60 585.00,292.60 585.50,292.60 586.00,292.55 586.50,292.37 587.00,292.01 587.50,291.59 588.00,291.27 588.50,291.09 589.00,291.02 589.50,291.00 590.00,291.00 590.50,291.00 591.00,291.00 591.50,291.00 592.00,291.02 592.50,291.09 593.00,291.27 593.50,291.59 594.00,292.01 594.50,292.18 595.00,290.72 595.50,288.92 596.00,287.88 596.50,287.55 597.00,287.50 597.50,287.50 598.00,287.50 598.50,287.55 599.00,287.88 599.50,288.92 600.00,290.14 600.50,286.73 601.00,285.93 601.50,285.90 602.00,285.93 602.50,286.73 603.00,290.14 603.50,292.50 604.00,292.60 604.50,292.60 605.00,292.60 605.50,292.60 606.00,292.60 606.50,292.60 607.00,292.60 607.50,292.60 608.00,292.59 608.50,292.47 609.00,292.01 609.50,291.45 610.00,291.12 610.50,291.02 611.00,291.00 611.50,291.00 612.00,291.00 612.50,291.02 613.00,291.12 613.50,291.45 614.00,292.01 614.50,292.47 615.00,292.59 615.50,292.60 616.00,292.60 616.50,292.58 617.00,292.48 617.50,292.17 618.00,291.64 618.50,291.04 619.00,290.55 619.50,290.24 620.00,290.08 620.50,290.02 621.00,290.00 621.50,290.00 622.00,290.00 622.50,290.00 623.00,290.00 623.50,290.02 624.00,290.08 624.50,290.24 625.00,290.55 625.50,291.04 626.00,290.91 626.50,288.97 627.00,288.14 627.50,288.00 628.00,288.00 628.50,288.00 629.00,288.00 629.50,288.00 630.00,288.14 630.50,288.97 631.00,290.91 631.50,292.38 632.00,292.60 632.50,292.60 633.00,292.60 633.50,292.60 634.00,292.60 634.50,292.60 635.00,292.55 635.50,292.37 636.00,291.83 636.50,290.94 637.00,290.56 637.50,290.50 638.00,290.50 638.50,290.50 639.00,290.56 639.50,290.94 640.00,291.00 640.50,291.00 641.00,291.02 641.50,291.09 642.00,291.27 642.50,291.59 643.00,292.01 643.50,292.37 644.00,292.32 644.50,292.00 645.00,291.40 645.50,290.35 646.00,288.62 646.50,286.00 647.00,282.32 647.50,277.55 648.00,271.90 648.50,265.85 649.00,260.14 649.50,255.58 650.00,252.95 650.50,252.70 651.00,254.88 651.50,259.11 652.00,264.66 652.50,270.70 653.00,276.48 653.50,281.45 654.00,285.36 654.50,288.18 655.00,290.07 655.50,291.23 656.00,291.91 656.50,292.27 657.00,292.45 657.50,292.54 658.00,292.58 658.50,292.59 659.00,292.60 659.50,292.60 660.00,292.60 660.50,292.60 661.00,292.60 661.50,292.60 662.00,292.60 662.50,292.60 663.00,292.60 663.50,292.60 664.00,292.60 664.50,292.60 665.00,292.60 665.50,292.60 666.00,292.60 666.50,292.60 667.00,292.58 667.50,292.18 668.00,290.72 668.50,288.92 669.00,287.88 669.50,287.55 670.00,287.50 670.50,287.50 671.00,287.50 671.50,287.55 672.00,287.88 672.50,288.92 673.00,290.72 673.50,292.18 674.00,292.58 674.50,292.60 675.00,292.60 675.50,292.60 676.00,292.60 676.50,292.60 677.00,292.60 677.50,292.60 678.00,292.60 678.50,292.60 679.00,292.60 679.50,292.60 680.00,292.60 680.50,292.60 681.00,292.60 681.50,292.60 682.00,292.60 682.50,292.60 683.00,292.60 683.00,292.60" fill="#3d3da6"/>
<polygon points="431.50,292.60 431.50,292.60 432.00,292.60 432.50,292.60 433.00,292.60 433.50,292.60 434.00,292.60 434.50,292.60 435.00,292.60 435.50,292.60 436.00,292.60 436.50,292.55 437.00,292.20 437.50,291.73 438.00,291.53 438.50,291.50 439.00,291.50 439.50,291.50 440.00,291.53 440.50,291.73 441.00,292.20 441.50,292.55 442.00,292.59 442.50,292.34 443.00,291.46 443.50,290.37 444.00,289.73 444.50,289.53 445.00,289.50 445.50,289.50 446.00,289.50 446.50,289.53 447.00,289.73 447.50,290.37 448.00,291.46 448.50,292.34 449.00,292.59 449.50,292.60 450.00,292.60 450.50,292.60 451.00,289.84 451.50,285.33 452.00,285.10 452.50,285.33 453.00,289.84 453.50,292.60 454.00,291.28 454.50,289.11 455.00,289.00 455.50,289.11 456.00,291.28 456.50,292.53 457.00,290.91 457.50,288.57 458.00,288.02 458.50,288.00 459.00,288.02 459.50,288.57 460.00,287.67 460.50,280.85 461.00,279.26 461.50,279.20 462.00,279.26 462.50,280.85 463.00,287.67 463.50,285.23 464.00,285.00 464.50,285.23 465.00,289.80 465.50,285.23 466.00,285.00 466.50,285.23 467.00,289.80 467.50,292.60 468.00,292.60 468.50,292.52 469.00,290.72 469.50,288.13 470.00,287.52 470.50,287.50 471.00,287.52 471.50,288.13 472.00,290.72 472.50,292.52 473.00,291.64 473.50,290.08 474.00,290.00 474.50,290.08 475.00,291.64 475.50,292.15 476.00,289.07 476.50,285.03 477.00,283.30 477.50,283.01 478.00,283.00 478.50,283.01 479.00,283.30 479.50,285.03 480.00,289.07 480.50,292.15 481.00,292.60 481.50,292.49 482.00,289.80 482.50,285.94 483.00,285.03 483.50,285.00 484.00,285.03 484.50,285.94 485.00,289.80 485.50,292.49 486.00,292.60 486.50,292.34 487.00,290.54 487.50,288.18 488.00,287.17 488.50,287.01 489.00,287.00 489.50,287.01 490.00,287.17 490.50,288.18 491.00,290.54 491.50,292.34 492.00,292.60 492.50,292.60 493.00,292.60 493.50,292.60 494.00,292.60 494.50,292.60 495.00,292.60 495.50,292.60 496.00,292.60 496.50,292.60 497.00,292.60 497.50,292.60 498.00,292.60 498.50,292.60 499.00,292.59 499.50,292.43 500.00,291.83 500.50,291.09 501.00,290.66 501.50,290.52 502.00,290.50 502.50,290.50 503.00,290.50 503.50,290.52 504.00,290.66 504.50,291.09 505.00,290.58 505.50,287.78 506.00,287.12 506.50,287.10 507.00,287.12 507.50,287.78 508.00,290.58 508.50,292.52 509.00,292.60 509.50,292.60 510.00,292.60 510.50,292.60 511.00,292.60 511.50,292.60 512.00,292.60 512.50,292.60 513.00,292.60 513.50,292.60 514.00,292.60 514.50,292.60 515.00,292.60 515.50,292.60 516.00,292.60 516.50,292.60 517.00,292.60 517.50,292.60 518.00,292.60 518.50,292.60 519.00,292.60 519.50,292.60 520.00,292.60 520.50,292.60 521.00,292.60 521.50,292.59 522.00,292.49 522.50,292.09 523.00,291.28 523.50,290.33 524.00,289.61 524.50,289.21 525.00,289.05 525.50,289.01 526.00,289.00 526.50,289.00 527.00,289.00 527.50,289.01 528.00,289.05 528.50,289.21 529.00,289.61 529.50,290.33 530.00,291.28 530.50,292.09 531.00,292.49 531.50,292.59 532.00,292.60 532.50,292.60 533.00,292.60 533.50,292.60 534.00,292.60 534.50,292.60 535.00,292.60 535.50,292.60 536.00,292.60 536.50,292.60 537.00,292.60 537.50,292.60 538.00,292.60 538.50,292.60 539.00,292.60 539.50,292.60 540.00,292.60 540.50,292.60 541.00,292.60 541.50,292.60 542.00,292.60 542.50,292.60 543.00,292.60 543.50,292.60 544.00,292.60 544.50,292.60 545.00,292.60 545.50,292.60 546.00,292.60 546.50,292.60 547.00,292.58 547.50,292.30 548.00,291.28 548.50,290.01 549.00,289.27 549.50,289.04 550.00,289.00 550.50,289.00 551.00,289.00 551.50,289.04 552.00,289.27 552.50,290.01 553.00,291.28 553.50,292.30 554.00,292.58 554.50,292.60 555.00,292.60 555.50,292.60 556.00,292.60 556.50,292.60 557.00,292.60 557.50,292.60 558.00,292.60 558.50,292.60 559.00,292.60 559.50,292.60 560.00,291.46 560.50,289.60 561.00,289.50 561.50,289.60 562.00,291.46 562.50,292.60 563.00,292.60 563.50,292.60 564.00,292.60 564.50,292.60 565.00,292.60 565.50,292.60 566.00,292.60 566.50,292.60 567.00,292.60 567.50,292.60 568.00,292.60 568.50,292.60 569.00,292.60 569.50,292.55 570.00,291.35 570.50,289.62 571.00,289.21 571.50,289.20 572.00,289.21 572.50,289.62 573.00,291.35 573.50,291.96 574.00,290.54 574.50,288.85 575.00,287.69 575.50,287.17 576.00,287.02 576.50,287.00 577.00,287.00 577.50,287.00 578.00,287.02 578.50,287.17 579.00,287.69 579.50,288.85 580.00,290.54 580.50,291.96 581.00,292.52 581.50,292.60 582.00,292.60 582.50,292.60 583.00,292.60 583.50,292.60 584.00,292.60 584.50,292.60 585.00,292.60 585.50,292.60 586.00,292.60 586.50,292.60 587.00,292.60 587.50,292.60 588.00,292.60 588.50,292.60 589.00,292.60 589.50,292.60 590.00,292.60 590.50,292.60 591.00,292.60 591.50,292.60 592.00,292.60 592.50,292.60 593.00,292.60 593.50,292.60 594.00,292.60 594.50,292.60 595.00,292.60 595.50,292.60 596.00,292.60 596.50,292.60 597.00,292.60 597.50,292.60 598.00,292.60 598.50,292.60 599.00,292.60 599.50,292.60 600.00,292.60 600.50,292.60 601.00,292.60 601.50,292.60 602.00,292.60 602.50,292.60 603.00,292.60 603.50,292.60 604.00,292.60 604.50,292.58 605.00,292.01 605.50,291.20 606.00,291.01 606.50,291.00 607.00,291.01 607.50,291.20 608.00,292.01 608.50,292.58 609.00,292.60 609.50,292.60 610.00,291.39 610.50,289.40 611.00,289.30 611.50,289.40 612.00,291.39 612.50,292.60 613.00,292.60 613.50,292.60 614.00,292.60 614.50,292.60 615.00,292.60 615.50,292.60 616.00,292.60 616.50,292.60 617.00,292.60 617.50,292.60 618.00,292.60 618.50,292.60 619.00,292.60 619.50,292.55 620.00,291.46 620.50,289.88 621.00,289.51 621.50,289.50 622.00,289.51 622.50,289.88 623.00,291.46 623.50,292.55 624.00,292.60 624.50,292.60 625.00,292.60 625.50,292.60 626.00,292.60 626.50,292.60 627.00,292.60 627.50,292.60 628.00,292.60 628.50,292.60 629.00,292.60 629.50,292.60 630.00,292.60 630.50,292.60 631.00,292.60 631.50,292.60 632.00,292.60 632.50,292.60 633.00,292.60 633.50,292.60 634.00,292.60 634.50,292.60 635.00,292.60 635.50,292.60 636.00,292.60 636.50,292.60 637.00,292.60 637.50,292.60 638.00,292.60 638.50,292.60 639.00,292.60 639.50,292.60 640.00,292.59 640.50,292.59 641.00,292.57 641.50,292.53 642.00,292.46 642.50,292.33 643.00,292.09 643.50,291.68 644.00,289.99 644.50,285.72 645.00,285.50 645.50,285.72 646.00,283.51 646.50,280.06 647.00,276.08 647.50,271.79 648.00,267.54 648.50,263.77 649.00,260.89 649.50,259.27 650.00,259.12 650.50,260.46 651.00,263.11 651.50,266.74 652.00,270.92 652.50,275.23 653.00,279.30 653.50,282.87 654.00,285.80 654.50,288.05 655.00,289.70 655.50,290.83 656.00,291.57 656.50,292.02 657.00,291.28 657.50,289.44 658.00,289.01 658.50,289.00 659.00,289.01 659.50,289.44 660.00,291.28 660.50,292.55 661.00,292.60 661.50,292.60 662.00,292.60 662.50,292.60 663.00,292.60 663.50,292.60 664.00,292.60 664.50,292.60 665.00,292.60 665.50,292.49 666.00,289.95 666.50,286.29 667.00,285.43 667.50,285.40 668.00,285.43 668.50,286.29 669.00,289.95 669.50,292.49 670.00,292.60 670.50,292.60 671.00,292.60 671.50,292.60 672.00,292.60 672.50,292.60 673.00,292.60 673.50,292.41 674.00,291.09 674.50,289.37 675.00,288.63 675.50,288.50 676.00,288.50 676.50,288.50 677.00,288.63 677.50,289.37 678.00,291.09 678.50,292.41 679.00,291.28 679.50,289.11 680.00,289.00 680.50,289.11 681.00,291.28 681.50,292.60 682.00,292.60 682.50,292.60 683.00,292.60 683.00,292.60" fill="#f05c74" fill-opacity="0.95"/>
<line x1="434.3" y1="301.3" x2="683.5" y2="301.3" stroke="#3c3ca8" stroke-width="0.9"/>
<rect x="434.8" y="297.3" width="2.4" height="9" fill="#3c3ca8"/>
<rect x="457" y="296.8" width="1.2" height="9.5" fill="#3c3ca8"/>
<path d="M447,299.3 L445,301.3 L447,303.3" fill="none" stroke="#3c3ca8" stroke-width="0.8"/>
<path d="M465.8,299.6 L467.6,301.3 L465.8,303" fill="none" stroke="#3c3ca8" stroke-width="0.8"/>
<path d="M485.1,299.6 L486.90000000000003,301.3 L485.1,303" fill="none" stroke="#3c3ca8" stroke-width="0.8"/>
<path d="M504.40000000000003,299.6 L506.20000000000005,301.3 L504.40000000000003,303" fill="none" stroke="#3c3ca8" stroke-width="0.8"/>
<path d="M523.7,299.6 L525.5,301.3 L523.7,303" fill="none" stroke="#3c3ca8" stroke-width="0.8"/>
<path d="M543.0,299.6 L544.8,301.3 L543.0,303" fill="none" stroke="#3c3ca8" stroke-width="0.8"/>
<path d="M562.3,299.6 L564.0999999999999,301.3 L562.3,303" fill="none" stroke="#3c3ca8" stroke-width="0.8"/>
<path d="M581.5999999999999,299.6 L583.3999999999999,301.3 L581.5999999999999,303" fill="none" stroke="#3c3ca8" stroke-width="0.8"/>
<path d="M600.8999999999999,299.6 L602.6999999999998,301.3 L600.8999999999999,303" fill="none" stroke="#3c3ca8" stroke-width="0.8"/>
<path d="M620.1999999999998,299.6 L621.9999999999998,301.3 L620.1999999999998,303" fill="none" stroke="#3c3ca8" stroke-width="0.8"/>
<path d="M639.4999999999998,299.6 L641.2999999999997,301.3 L639.4999999999998,303" fill="none" stroke="#3c3ca8" stroke-width="0.8"/>
<path d="M658.7999999999997,299.6 L660.5999999999997,301.3 L658.7999999999997,303" fill="none" stroke="#3c3ca8" stroke-width="0.8"/>
<path d="M678.0999999999997,299.6 L679.8999999999996,301.3 L678.0999999999997,303" fill="none" stroke="#3c3ca8" stroke-width="0.8"/>
<text x="577" y="313.6" font-size="8.8" text-anchor="middle" fill="#3c3c3c" textLength="21.2" lengthAdjust="spacingAndGlyphs" font-style="italic" >Cdh4</text>
</svg></body></html>
